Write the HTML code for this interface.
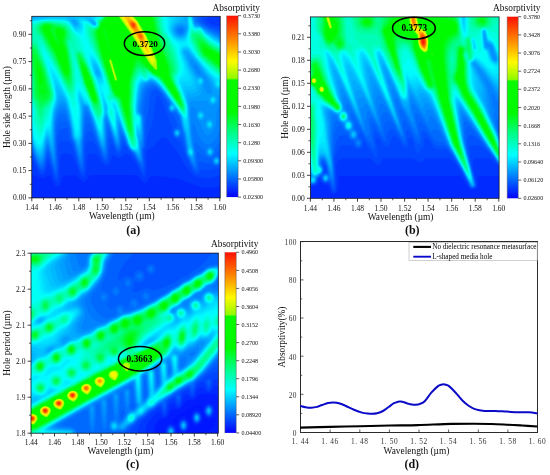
<!DOCTYPE html>
<html><head><meta charset="utf-8"><title>Absorptivity figure</title>
<style>html,body{margin:0;padding:0;background:#fff}svg{display:block}text{font-family:'Liberation Serif','DejaVu Serif',serif}</style></head>
<body><svg width="550" height="475" viewBox="0 0 550 475">
<defs><filter id="bl" x="-5%" y="-5%" width="110%" height="110%"><feGaussianBlur stdDeviation="0.6"/></filter><clipPath id="ca"><rect x="31.8" y="16.3" width="188.4" height="181.6"/></clipPath><clipPath id="cb"><rect x="310.4" y="16.9" width="188.7" height="181.4"/></clipPath><clipPath id="cc"><rect x="31.0" y="253.1" width="187.3" height="180.1"/></clipPath></defs>
<rect width="550" height="475" fill="#fff"/>
<g clip-path="url(#ca)"><g filter="url(#bl)">
<rect x="28.8" y="13.3" width="194.4" height="187.6" fill="#0606ff"/>
<g transform="scale(0.2)">
<path fill="#0513ff" d="M1116 1009l-974 0-1-945 481-2 494 2 2 245z"/>
<path fill="#041fff" d="M1116 1009l-974 0-1-945 481-2 494 2 2 245z"/>
<path fill="#042cff" d="M1116 1009l-974 0-1-945 481-2 494 2 2 245z"/>
<path fill="#0338ff" d="M1046 939l-24-1-30-6-76-30-30-9-30-5-90-9-10 0-4 2-6 6-8 17-6 8-6 3-4-1-10-6-26-29-10-3-14-1-206 0-10 4-12 20-8 9-4 2-10-2-11-9-15-17-10-6-54 0-6 1-4 7-10 40-6 6-10 3-9-4-4-5-17-32-4-9-6-4-4-1-16 8-14 3-16-3-20-10-34-1-1-811 481-2 494 2 2 245-2 615-4 0-40 12z"/>
<path fill="#0345ff" d="M286 915l-4-3-11-18-25-71-4-4-6 10-8 25-7 15-5 4-4 1-6-1-5-4-11-15-34-60-10-12-4 0-1-718 481-2 436 2 0 5-2 2-15 13-8 10 0 5 5 10 14 9 14 7 36 8 14 2 2 174-2 558-4 0-36 17-24 6-16 1-30-5-20 0-10-3-11-9-41-50-42-71-36-46-14-15-10-5-6-1-4 1-10 7-30 33-30 22-6 5-3 10-1 10-1 90-5 19-4 5-6-1-6-8-23-50-25-39-10-12-16-8-10 0-14 12-16 5-10-1-20-12-4 2-15 43-5 7-6 3-4 1-10-5-6-5-24-38-10-10-6-3-10-1-20 2-4 4-6 14-6 71-3 15-5 11-6 2-4-1-6-5-7-12-27-70-10-21-6-6-10-4-30 0-10 3-4 11-3 22-3 90-4 17z"/>
<path fill="#0251ff" d="M286 891l-4 2-6-6-4-10-26-80-4-6-6 7-9 36-5 15-6 8-4 2-6 0-4-3-10-12-13-25-27-63-6-8-4 0-2-489 2-196 290 1 190-2 405 2 0 5-11 15-3 10 3 10 8 10 14 10 21 10 43 14 14 2 2 159-2 513-4 0-16 14-10 6-40 9-14 0-20-3-6 1-4 7-4 8-6 7-6 2-4-1-6-4-11-14-17-30-24-50-8-27-4-12-14-26-6-7-20-11-10-12-4-15 2-25-2-10-29-70-17-48-16-26-4-5-6-2-4 4-2 7-10 85-6 35-9 30-13 30-6 15-6 50-10 20 4 50 0 30-2 24-5 6-5-3-6-8-10-24-30-51-7-9-16-15-21-28-6 2-10 32-4 9-6 3-4-1-10-9-20-37-6-5-4 4-5 25-4 45-5 15-6 5-6-1-4-4-8-10-28-60-10-18-10-11-4-3-10-1-10 1-6 3-4 9-6 28-3 102-4 15-3 3-4 1-6-5-4-8-7-16-11-30-18-62-10-23-4-7-10-7-10-3-26 0-4 1-6 5-4 19-2 22 1 105-1 20z"/>
<path fill="#025eff" d="M282 872l-6-2-4-10-26-81-4-8-6 4-12 49-5 15-7 9-6 0-10-7-7-12-37-90-6-9-4 0-2-471 2-195 290 0 190-2 386 2 0 5-8 15 0 10 3 10 9 10 20 15 20 10 50 19 14 3 2 148-2 467-4 0-3 3-2 5 0 15-2 15-9 12-10 6-10 0-10-4-14-10-26-2-24-9-6 3-4 34-6 13-4 2-10-8-17-27-27-55-6-39-13-41-3-3-14 5-10-1-10-7-6-9-2-10 4-15 4-6 15-14-1-10-16-35-8-10-16-10-7-10-3-15 0-15-2-10-28-43-10-11-7-6-7-4-10-1-10 5-5 5-6 15-6 60-15 80-5 115-1 5-8 15-1 5 4 55-2 25-4 5-1 1-6-5-14-21-26-44-21-21-29-48-4 3-9 45-7 9-4 1-6-4-7-11-17-40-10-19-6 0-1 9-6 80-2 15-5 10-6 1-6-6-9-15-45-103-10-15-10-6-4 0-6 4-4 10-9 35-2 20-2 100-3 17-4 9-6-3-4-8-9-20-27-93-4-12-12-20-6-15-5-30-3-5-4-3-6-1-14 5-14 9-6 11-4 14-2 15-1 40 2 110-2 15z"/>
<path fill="#016aff" d="M276 851l-4-6-6-13-20-68-4-9-6 2 0 2-13 55-7 16-4 6-6 2-4-2-10-12-8-15-38-92-4 0-2-458 2-195 290 0 190-2 371 2 0 5-5 15 0 10 4 10 9 10 21 15 26 15 48 21 16 5 4 0 2 139-2 425-4 0-6 4-16 21-6 10 2 5 13 15 3 10-2 15-8 10-6 3-4 1-10-3-10-11-6-20-14-2-10-4-20-11-20-15-6 0-2 17 1 55-3 11-6 0-4-3-12-18-28-55-6-38-10-47-4-15-6 1-1 4-9 9-10 4-10-3-7-10-2-15 5-9 4-5 10-4 16 3 1-5-1-12-11-38-9-17-6-5-20-3-4-2-8-8-4-15 3-20-1-7-36-50-20-19-10-5-10-2-9 3-7 5-9 10-5 10-17 90 4 35-1 115-2 25-8 20 3 50-1 15-2 7-6 1-10-8-26-45-18-16-8-9-11-20-11-28-10-14-6 2-2 35-4 20-4 8-4 2-6-3-4-7-8-15-22-59-6-9-4-2-3 20-5 95-2 12-2 3-4 3-4-3-6-6-11-24-49-123-10-17-4-3-6 1-4 7-6 19-9 76-1 75-2 25-2 13-6 3-4-5-6-11-26-90-4-11-12-24-6-40-6-22-10-19-6-3-10 0-14 4-10 11-6 11-3 18-3 55 3 125-1 13z"/>
<path fill="#0077ff" d="M976 832l-4 0-6-6-32-57-4-35-8-46-6-23-7-21-13-60-14-22-6-3-10 2-10 0-8-7-3-5-2-10 5-20 0-5-6-11-30-42-16-16-20-15-14-3-10 2-9 5-10 10-6 10-5 17-14 73 1 15 6 15 3 15 1 90-2 45-9 25 3 45 0 10-5 9-4-1-6-5-23-38-26-25-13-25-12-31-10-18-6-5-3 4-1 5-1 35-3 20-2 5-4 5-6-2-4-7-8-16-28-74-4-10-6-2-2 21-1 70-1 31-4 19-2 2-4 1-6-5-4-8-11-25-49-136-10-18-6-4-5 3-5 13-1 12-3 22-4 53-4 30-3 85-5 18-4-2-10-24-20-70-14-27-3-15-3-30-16-52-10-19-4-3-6-1-10 2-10 8-10 19-5 21-4 50 2 125-3 34-4 0-6-10-20-67-4-9-6 0-4 13-10 47-6 15-4 8-6 2-4-1-6-4-15-28-35-90-4 0-1-640 481-2 358 2-3 20 1 10 5 10 9 10 34 24 20 11 56 25 10 4 4 0 2 131-2 381-4 0-20 29-16 20-2 20-5 15-7 8-10 3-10-2-7-4-8-10-5-16-4-4-17-15-19-22-6-3-2 10-1 10 4 30 3 55 0 10zM896 679l-4 4-10 0-6-2-5-7-1-5 0-10 6-10 6-4 10 1 9 8 3 10-3 10zM1082 825l-6-1-6-5-6-10-1-5 2-10 2-5 5-5 4-2 6-1 4 2 9 6 3 5 2 10-3 10-3 5-8 5z"/>
<path fill="#0084ff" d="M972 820l-6-3-4-6-23-37-4-10-2-30-11-62-9-28-12-55-4-10-15-23-6-2-14 4-6 0-5-4-4-5-2-10 2-10 5-10-1-5-5-10-30-41-20-23-20-16-10-4-10-1-10 3-10 5-7 7-8 10-8 25-11 65-1 15 1 8 11 22 2 10 1 85-2 40-8 30 2 50-2 6-4 4-6-4-4-6-20-30-16-12-7-8-11-20-12-31-10-21-10-18-4-5-4 15 0 40-2 15-4 10-6-1-4-7-6-12-30-80-10-20-4 3-1 7-1 90-2 30-3 15-3 5-6-3-10-17-8-20-46-136-10-20-6-8-4-4-6 4-4 23-5 56-2 45-5 30-2 65-2 13-4 6-6-7-4-13-18-59-14-30-8-54-16-58-4-13-6-8-4-3-6-1-14 4-10 10-6 10-4 15-6 26-2 52 1 120-1 15-2 10-6-5-20-64-4-10-6-1-4 10-16 65-4 9-6 3-4 0-6-4-10-15-10-23-16-45-14-42-4 0-1-623 481-2 347 2 0 10 3 20 4 13 6 7 64 40 60 30 10 1 2 124-2 309-4 0-19 51-17 29-10 11-10 8-10 5-4 0-10-2-10-5-10-8-10-12-15-26-15-46-6-9-3 15-1 30 4 67 8 33 1 50zM912 164l3-5 2-5-1-5-3-5-7-4-4 0-10 4-3 5-1 5 4 7 4 4 6 2 4-1zM892 680l-6 2-4-1-6-3-4-9 0-10 2-5 8-6 4-1 6 2 5 5 3 5 0 10-2 5zM1056 780l-10 1-4-2-9-10-3-10 1-10 4-10 7-8 4-2 10 3 6 5 4 7 3 10 0 10-2 5-5 7zM1086 822l-10-1-4-4-5-8 0-10 2-5 7-8 10 0 6 4 5 9 0 5-2 10z"/>
<path fill="#0091ff" d="M966 806l-4-4-18-23-7-15-2-30-11-65-9-25-11-55-4-10-14-22-4-6-6-1-14 6-6-1-4-3-5-8 0-5 2-10 6-10 0-5-9-14-30-41-20-23-20-17-10-5-10-2-10 3-17 9-7 6-7 9-8 30-10 60-1 20 0 8 14 22 2 10 2 50-1 55-2 10-8 25 2 50-1 10-2 6-6-2-4-5-17-24-24-20-11-20-14-37-20-42-4-8-6-1-1 13-1 60-2 9-6 1-4-6-10-21-30-83-6-10-4-5-5 10-1 9 2 76-2 33-4 22-6 1-10-15-10-26-34-105-10-26-16-30-4-5-6-1-3 2-2 5-4 30-4 100-5 35-3 50-3 15-6-3-4-11-15-46-15-30-6-43-20-84-10-21-4-5-10-1-10 3-10 10-10 21-6 20-5 55 1 120-2 20-4 7-4-11-16-46-4-10-6-2-4 8-11 49-6 20-3 7-6 4-4 0-6-2-10-14-10-23-22-62-8-39-4 0-1-601 481-2 338 2 0 5 6 15 6 23 4 9 4 3 26 13 26 18 44 26 30 14 10 2 2 117-2 202-4 0-9 8-11 15-4 10-4 20-5 60-6 20-7 12-10 12-9 6-5 1-10-2-11-9-9-16-12-34-17-20-4-15 0-10 4-20-3-5-5-5-9-4-4 0-6 4-3 15 0 15 3 95 7 60 8 35-1 40zM916 169l6-8 2-7-1-10-3-5-8-6-10-1-8 2-8 5-3 5-2 10 5 12 6 4 10 3 10-1zM1003 369l-6-15-15-24-6-5-4-2-2 1-1 5 2 5 15 26 10 11 6 0zM886 679l-4 0-6-4-3-6 0-5 4-10 5-3 4-1 8 4 4 10-3 10-3 4zM1056 776l-10 2-4-3-6-6-2-5 0-10 1-5 7-8 4-2 10 1 6 5 4 9 0 10-2 5zM1086 819l-4 1-6-1-4-5-3-5 0-10 3-4 4-5 6-2 4 1 6 4 3 6 0 10-3 7z"/>
<path fill="#009eff" d="M206 794l-4 1-6-2-4-5-10-17-15-37-10-30-11-60-4 0 0-580 290 0 190-2 328 2 0 5 6 5 8 10 7 30 5 8 6 3 24 9 26 20 44 27 30 15 10 2 2 111-2 163-14 2-10 5-3 25-4 10-9 9-10 4-10 0-5-3-6-5-13-16-6-1-34 3-36 1-4 3-2 5-2 45 5 105 7 65 9 30-3 27-4 7-16-14-8-15 0-30-12-65-8-25-12-55-3-10-17-26-4-6-6-1-10 7-4 1-6-1-4-4-3-5 0-10 9-15-1-5-5-11-36-48-20-23-20-17-10-5-10-3-4 1-26 11-10 7-7 13-8 30-8 60-1 20 1 10 11 15 5 10 2 75-2 35-3 8-4 8-2 9 2 58-3 7-3 2-4-4-14-18-22-16-7-9-9-20-18-48-20-43-6-7-2 3-2 10 1 50-1 18-6 8-4-4-16-34-20-58-10-23-4-7-6 5-2 15 1 80-2 35-1 9-5 6-5-4-6-8-11-28-29-89-14-40-16-30-10-5-4 0-5 4-1 5-6 140-5 25-3 44-6 7-4-9-14-37-13-25-9-54-10-48-10-36-10-24-4-6-6-3-4-1-10 4-10 12-10 22-8 24-5 55-1 105-2 26-4-1-16-41-4-10-6-3-5 9-15 64-4 11zM918 174l7-10 4-10 1-10-4-10-10-7-10-2-10 1-10 4-8 9-3 10 1 10 6 9 10 8 10 3 10-1zM1054 469l8-5 1-5-22-55-55-81-24-25-6-4-4-2-2 7 0 5 6 20 7 15 19 32 7 8 23 5 6 5 3 5 2 15-5 25 4 9 10 19 4 7 6 4zM1012 601l-10 0-6-2-6-5-5-10-1-10 3-10 5-6 10-5 4-1 10 5 9 12 1 10-2 10-8 9zM1056 646l-4 2-10-1-6-3-8-10-2-10 2-15 4-6 10-7 10 0 4 2 7 6 5 10 0 15-4 10zM892 675l-6 2-4 0-7-8 1-10 6-6 4-1 5 2 4 5 1 10zM1052 776l-6-1-4-3-5-8-1-5 3-10 7-6 6-1 4 2 7 10 0 10-2 5-5 5zM1086 817l-4 1-6-2-5-7 1-10 4-6 6-2 7 3 4 5 1 5-2 8z"/>
<path fill="#00aaff" d="M962 784l-6 0-4-3-7-7-5-10 0-35-11-60-9-25-12-55-3-10-19-30-4-5-6-2-10 8-4 2-8-3-3-5 0-10 9-10 2-5-5-10-5-9-30-41-26-30-20-17-10-6-10-3-34 13-10 7-6 8-2 8-8 34-7 56 0 25 3 10 10 10 5 10 2 55-3 44-6 11-2 10 1 60-3 11-4 0-16-16-20-13-5-7-10-20-9-29-30-70-6-9-4-3-3 16 0 65-3 10-4-2-10-18-36-95-4-7-6 4-5 18 1 80-1 30-5 13-4-1-6-8-10-22-30-93-24-62-7-7-13-4-6-1-3 5-1 5-4 145-12 57-4-3-11-24-15-27-5-38-15-74-14-50-10-17-6-5-10-2-4 1-6 4-4 11-16 39-4 19-5 49-2 95-1 15-2 10-6-7-14-33-6-5-4 6-2 4-14 60-4 14-6 5-4 2-6-2-4-4-10-16-16-39-9-30-11-69-4 0-1-561 291 0 190-2 313 2 1 7 16 4 4 3 5 6 8 30 3 7 4 5 30 10 20 18 46 29 34 18 10 2 2 106-2 141-24 2-10-3-7-5-8-10-19-35-58-80-44-47-10-8-5 0 1 10 4 15 18 45 25 45 7 8 16-1 10 4 4 4 3 10-1 10-11 20 0 25-5 12-10 7-10 4-36 5-5 7 9 175 7 60 10 30-1 12zM382 119l0-5-3-5-7-5-6 1-1 4 1 5 6 6 4 2zM473 119l-1-5-6-4-4-2 4 8 6 4zM919 179l7-9 7-16 2-15-3-16-6-5-10-1-14 1-16 5-10 8-4 9-2 14 3 10 9 11 14 8 10 1zM1072 519l-10 2-6-2-5-5-5-10-1-5 3-10 4-5 10-7 10 1 4 3 7 13 0 10-2 5-5 7zM1012 594l-6 3-4 0-6-3-4-4-3-6-1-10 1-5 7-9 6-2 10 2 4 6 4 8-1 10-2 5zM1056 639l-4 3-6 1-4-2-8-7-3-10 0-5 4-10 7-6 4-1 6 0 4 3 7 9 2 5-1 10zM886 676l-5-2-4-5-1-5 2-5 4-4 4-1 6 3 2 7-2 9zM1056 771l-4 2-6 0-4-4-3-5 0-10 3-5 4-3 6-1 4 3 5 6 0 10zM1086 815l-4 1-5-2-4-5 0-5 1-5 2-4 6-2 4 1 5 5 1 5-1 5z"/>
<path fill="#00b8ff" d="M956 780l-10-7-4-9-1-10 3-20-1-10-12-60-9-24-15-61-21-32-10-10-4 3-2 4-6 5-8 0-3-5-1-5 1-5 3-4 9-6-3-10-6-10-40-55-20-23-20-18-10-6-10-3-4 1-16 8-20 5-4 3-10 13-6 25-10 70 0 30 2 10 14 13 3 7 2 15 0 40-1 20-3 15-1 3-6-1-5 3 3 20 2 50-1 15-3 4-13-9-17-11-10-9-10-20-10-33-30-73-6-10-4-6-5 7-1 5 1 50-1 24-4 6-10-17-30-82-6-12-4-8-6 3-6 21-1 95-3 17-4 4-6-5-10-22-25-79-28-70-7-8-14-5-10-7-3 10-4 155-9 35-4 4-20-30-4-9-5-35-14-75-16-55-11-22-10-11-10-6-6 0-1 4-9 35-14 42-3 13-5 45-3 95-5 7-14-27-6-4-4 5-4 9-12 52-4 15-6 6-4 2-6-1-4-3-6-6-10-20-14-40-16-97-4 0 0-36 4 0 1-2-1-5-4 0 0-470 42-5-2-5-40-3-1-17 199 0 2 9 4 3 6 1 5-3 3-5 0-5 64 0 0 5 2 2 6 1 3-3 0-5 187-2 299 2-1 25-3 10-6 5-29 14-10 10-6 11-2 10 2 10 6 11 10 10 10 6 14 2 10-2 10-9 9-18 3-15 0-15-5-40 3-7 6-4 4-1 6 0 7 7 7 30 6 12 4 4 30 8 20 20 46 30 34 18 10 2 2 101-2 128-4 0-16 6-10 0-4-2-8-7-12-25-6-10-30-37-31-43-53-62-6-4-4-3-6 1-4 3-2 5 2 10 28 70 26 49 6 6 4 0 10-4 10 0 6 4 4 10-2 10-2 5-6 5-9 5-4 5-3 15-8 10-16 7-24 2-6 3-2 8 1 15 6 35 5 130 4 45 3 25 10 20 3 10-3 15-1 4zM387 124l2-5-1-5-6-11-6-4-10-3-4 0-4 3-1 5 2 5 13 17 4 3 6-1zM478 119l-6-10-10-7-6-2-4 4 7 10 13 10 4-2zM492 374l4-5 0-6-4-10-6-7-4-3-2 11 2 12 4 7zM1072 515l-6 2-4 0-6-3-6-10 0-10 3-5 9-7 4 0 6 2 4 4 3 6 0 10-3 6zM1012 590l-6 3-4 0-6-2-4-7-1-10 1-5 4-5 6-2 4 0 9 7 2 10-1 5zM1056 635l-4 3-6 1-4-2-7-8-1-10 2-6 6-5 4-2 6 0 4 4 4 4 2 10-2 5zM892 670l-6 4-4-2-3-3-1-5 4-7 4-1 5 3 2 5zM1052 771l-7-2-4-5-1-5 2-5 4-5 6-1 4 3 4 8-4 9zM1082 814l-6-3-2-7 2-6 6-3 4 2 4 7-1 5-3 4z"/>
<path fill="#00c4ff" d="M692 759l-6 1-20-10-8-6-4-5-10-20-12-37-30-75-10-20-6-2-3 24 1 60-2 10-6-4-10-21-24-69-9-21-1-25-6-9-1 9 1 25-7 25-2 15 0 55-1 25-4 15-6-3-4-9-10-24-20-64-26-65-7-10-17-8-10-14-6-5-3 7 0 5 3 45-3 120-1 11-6 13-4 7-6-3-10-11-6-12-5-40-13-67-16-58-10-24-10-15-14-18-10-8-4 5-1 5 0 25-3 20-12 41-6 24-4 40-2 65-4 21-4-2-10-15-6-2-4 4-6 12-10 46-4 16-6 8-4 1-10-3-6-5-11-21-13-40-13-95 2-40-5-17-4 0 0-444 93-9 14-5-107-9 0-11 191 0-1 11-4 9 14 8 4 5 16 22 10 12 4 4 6 0 10-7 2-4 1-5-9-19-15-16-3-20 49 0 1 10 4 4 10 2 4-1 5-5 0-10 181-2 283 2-1 20-4 10-28 24-8 11-4 10 0 15 3 10 9 13 10 9 10 5 14 2 10-2 10-7 10-20 5-20-4-55 5-7 4-3 6 1 4 3 4 6 6 30 6 11 4 4 6 1 14 1 10 4 20 21 46 31 34 19 10 2 2 96-2 118-4 0-16 11-10 0-4-3-6-5-7-21-5-10-32-38-36-46-54-65-6-4-10-1-4 2-6 7-1 5 1 10 28 70 36 75-3 20-5 9-6 3-10 3-24 2-5 8 1 20 11 55 4 105-1 52-7-27-9-20-17-65-22-35-15-15-16-27-50-68-24-25-16-10-10-3-4 1-20 11-20 3-9 8-7 15-4 25-9 75 0 20 2 10 17 16 3 14 0 40-3 25 0 3-6 2-4-2-4 7-1 5 6 30 1 15 0 30zM478 124l2-5-2-5-12-13-10-6-4-2-8 1-1 5 3 5 15 15 11 7zM497 384l4-5 1-5-3-15-17-32-6-4-4 1-1 5 0 10 7 30 8 12 6 3zM1006 419l-4 2-6 0-5-2-6-5-1-5 5-10 7-6 6-1 4 1 6 6 1 10-2 5zM1072 511l-6 3-4-1-6-3-3-6 1-10 2-4 6-4 4 0 6 2 4 6 0 10zM866 544l-4 3-6-1-2-7 2-6 6-3 4 1 3 3 0 5zM1006 590l-4 0-6-3-3-8 2-10 7-4 4 0 5 4 3 5-1 10zM1052 635l-6 1-4-3-5-9 2-10 7-5 6 1 4 4 3 5-1 10zM886 671l-4-1-2-6 2-4 4-1 4 5-1 5zM956 776l-4-1-6-5-4-11 4-19 6-3 9 12 3 10-2 13zM1056 764l-4 5-6-1-3-4-1-5 4-8 6 0 4 3 2 5zM1086 810l-4 2-4-3-2-6 6-5 4 2 2 4z"/>
<path fill="#00d2ff" d="M322 74l-10 4-10 1-76-2-84-7-1-6 185 0 0 5zM406 81l-4 2-6-1-14-6-7-7 0-5 37 0-2 10zM686 756l-24-11-10-11-7-15-9-27-34-91-10-23-6-7-2 3-2 5-1 30 1 50-1 5-5 3-10-19-30-84-2-10 1-15-2-10-7-12-4-4 1 51-8 35-1 75-2 10-6 2-4-7-10-23-19-57-27-70-4-7-17-8-13-21-6-7-4-2-3 5-1 10 5 45-2 130-5 14-4 7-6-1-4-3-7-7-3-10-4-30-15-75-17-64-10-23-24-40-16-18-4 0-2 10 3 40 0 20-4 20-13 40-2 15-8 101-4 9-10-10-6-3-4 5-9 23-7 31-6 19-4 7-4 2-10-2-6-5-10-17-11-35-13-95 2-30 0-15-2-11-6-13-4 0 0-428 100-10 70 0 14 2 10 3 10 8 26 31 10 8 4-1 16-13 0-6-8-25 2-7 10-4 16 3 10 5 34 29 6 2 4 0 4-3 2-5-2-5-14-18-14-14-6-10 0-8 176-2 264 2 0 15-3 10-22 30-5 11-2 14 2 15 5 10 11 14 10 8 14 6 16 1 10-3 9-11 9-25 3-15-4-55 4-5 3-2 6 0 4 4 2 3 7 30 7 15 10 4 14 0 10 3 20 23 40 29 40 22 10 2 2 92-2 108-4 0-10 13-6 3-4 2-6-1-6-5-3-5-3-20-3-5-35-38-94-117-6-3-10-2-10 5-4 7-2 8 2 10 28 75 18 40 7 25-1 10-2 5-6 5-10 2-24-2-4 5-1 5 5 30 13 50 2 15 2 45-1 60-2 10-4-3-6-11-13-51-5-10-16-25-16-20-20-30-24-35-20-26-20-23-20-16-16-6-4 1-10 7-10 5-20 0-6 2-4 5-6 11-4 17-6 33-5 55 0 25 2 10 3 6 12 9 4 5 1 10-1 51-6 8-4-2-6 1-1 7 0 20 6 25 1 30 0 15zM502 394l3-5 1-10-4-23-20-37-10-9-6 2-1 12 1 10 10 39 16 20 4 2zM1006 415l-4 2-8-3-2-5 0-5 4-7 6-2 4 1 3 3 2 5 0 5zM1066 511l-6-2-4-5 0-5 1-5 5-4 4-1 6 3 2 7-2 8zM862 545l-3-1-3-5 6-6 4 6zM1006 586l-4 1-5-3-2-5 1-7 6-4 4 1 5 5 0 5zM1052 632l-6 0-4-3-3-5 3-8 4-4 6 1 4 6 0 5zM886 667l-3-3 3-2zM956 773l-4-1-4-3-3-5-1-5 2-12 6-4 4 4 6 12 0 7zM1052 766l-6-1-1-6 1-4 6-2 3 6zM1082 809l-3-5 3-3 4 3z"/>
<path fill="#00dfff" d="M296 74l-74-1-34-4 0-5 130 0 0 5-2 1-10 3zM402 72l-6 1-10-2-2-2 0-5 20 0 0 5zM686 751l-4 0-16-4-4-3-9-10-9-20-8-26-40-105-10-22-4-5-3 13 1 75-4 13-4-5-10-22-24-66 0-25-2-10-14-30-6-3 0 13 3 20 2 35-8 35-1 65-6 11-4-4-10-22-15-45-31-78-4-8-16-8-20-32-4-5-6 0-2 11 0 15 6 35 1 20-2 105-3 18-4 7-6 3-4-2-5-6-2-5-20-110-11-45-7-20-8-20-27-48-16-24-10-11-2 3-1 10 7 60 0 25-3 15-11 34-4 21-6 75-3 20-1 4-6 0-4-5-6-1-4 4-10 28-10 42-6 9-4 3-6 0-10-6-4-6-6-10-10-32-12-90 3-30 0-15-5-23-6-11-4 0 0-415 90-10 90 2 10 3 10 5 10 9 24 33 6 4 4 1 16-7 6-6 1-10-8-20 0-5 5-6 10-1 16 4 34 26 5 2 5 0 6-4 1-6-1-5-10-15-3-10-3-5-13-10-3-5 0-5 172-2 242 2 1 15 0 10-14 35-2 15 0 10 5 15 8 13 10 12 10 8 14 6 16 1 10-2 4-4 6-7 10-28 3-19-3-55 4-5 6-1 5 6 7 35 8 13 4 2 20 1 10 3 20 24 40 30 40 22 10 2 0 186-4 0-6 3-5 14-5 5-4 2-6-1-5-6-2-5 2-15-2-5-43-44-55-66-35-46-10-8-10-1-10 3-4 5-5 7-2 10 2 10 39 110 3 15-2 10-5 4-6 1-20-4-4 1-6 8 1 10 4 20 24 85 2 35-1 20-4 24-6 5-14-34-20-33-18-22-52-76-20-24-16-16-14-11-16-7-4 0-11 9-9 5-10 0-10-2-6 1-4 4-8 12-4 15-5 35-6 60 0 25 3 14 4 5 10 7 3 4 3 10-1 30-3 15-2 3-10-3-3 15 0 20 6 30 2 20-1 15zM507 404l3-5 1-10-4-25-4-10-11-25-10-17-10-11-6-3-1 1-3 2-2 3 0 15 2 13 10 37 20 33 4 4 6 1zM1006 411l-4 2-6-4 0-5 4-5 2-1 4 2 2 4zM1066 507l-4-1-2-2-1-5 3-6 4 0 5 6-1 5zM1006 582l-4 1-4-4 1-5 3-2 5 2 1 5zM1046 629l-3-5 0-5 3-3 6 1 1 7-1 3zM956 769l-4 0-6-8 1-7 5-6 4 3 4 8-1 5zM1052 760l-2-1 2 0z"/>
<path fill="#00ecff" d="M292 69l-56 0 0-5 58 0 0 5zM686 745l-4 3-16-3-4-3-7-8-9-20-10-29-40-108-20-49-4-6-3 2-1 5 7 25 3 75-2 16-4 0-6-9-14-37-12-35-1-10 1-15-2-10-22-51-4-8-2 4 0 10 7 50 2 30-8 35-1 45-4 18-4-1-10-19-15-43-31-77-10-15-10-7-24-37-6-3-4 4-2 10 0 20 7 40 1 15-2 100-4 22-6 4-4-2-6-12-18-92-11-50-10-30-45-86-16-24-10-12-4 2-1 5 16 90 1 25-3 20-9 25-5 25-9 84-6 6-10-2-4 4-7 18-13 49-6 11-4 4-6-1-10-5-4-6-10-23-6-27-10-72 5-35-3-20-6-22-6-11-4 0 0-403 94-11 76 2 14 2 10 4 10 8 30 39 10 5 10 2 6-1 4-4 6-10 1-15-6-20 2-5 3-1 10-1 10 3 14 9 20 15 6 1 6-1 5-5 1-5-1-5-9-15 0-5 4-5 1-5-21-10-4-5 0-5 168-2 223 2 4 25-6 45 2 20 7 15 10 15 10 11 10 8 14 7 16 3 10-2 10-10 4-12 10-40 1-15-4-40 1-5 2-3 6 0 4 7 4 21 4 15 8 11 10 3 14-2 9 3 21 26 40 31 40 22 10 2 0 175-10 1-13 3 3 1 2 14-2 5-4 3-6-1-3-7 3-11 5-4-1-5-28-24-26-26-51-60-39-52-14-10-10-1-10 6-6 7-4 10 0 15 22 70 5 35-3 10-20 12-4 4-4 9 0 5 4 17 13 38 19 65 1 30-1 20-2 10-6 5-4-2-30-48-66-91-20-26-20-21-20-14-10-5-4 0-14 12-6 3-10 0-16-4-4 3-10 16-4 12-6 44-5 56 0 30 2 10 4 5 13 9 4 11-1 20-3 15-4 2-6-2-4 5-1 5 0 35 7 30 1 10 0 20zM505 419l7-5 3-5 1-5-4-25-5-20-15-35-10-18-10-13-6-4-4-2-6 2-1 5-1 15 3 15 9 35 6 15 20 38 4 7 6 2zM1066 500l-1-1 1-1zM956 764l-5 0-2-5 3-6 4 4z"/>
<path fill="#00f8ff" d="M682 745l-10 0-10-4-6-6-4-10-70-194-6-11-4-6-6-1-2 1-1 5 0 10 9 25 3 40 0 35-3 7-6-6-14-37-10-29-1-10 2-15-2-10-33-85 1-10 3-6 9-9 0-5-4-25-6-25-15-35-14-28-16-21-4-4-6-1-5 4-3 10 3 25 17 55 16 35 16 40 15 85 2 40-8 30-2 40-1 7-2 3-2 2-6-6-4-11-13-35-37-91-10-16-10-10-20-27-6-5-4 1-2 3-4 20 2 30 6 30 1 10-3 91-6 19-4-3-10-33-24-104-10-30-56-108-20-30-6-7-4-3 0 15 12 53 11 55 1 20-1 20-16 55-7 64-5 16-11 2-4 5-6 11-14 53-6 12-4 5-6-1-10-6-10-15-3-11-11-69-3-21 4-35-2-20-5-17-10-25-4 0 0-391 14-1 50-9 26-2 30 0 60 4 14 5 10 8 30 40 20 11 10 2 6-7 4-18 1-15-4-15 1-5 2-2 10 0 10 3 28 19 8 3 9-3 3-5 0-10-7-15 2-5 3-3 14-7-30-8-9-7 0-5 165-2 210 2 6 35 0 40 5 20 13 24 10 13 10 10 19 13 5 5 1 5-4 20 0 15 19 65 2 25-4 15-18 20-2 5-1 10 3 18 16 42 19 60 3 35-2 20-6 8-4-1-100-142-26-31-14-13-17-11-13-5-6 2-5 8-9 6-10 0-16-7-4 2-10 15-6 14-5 35-6 65 0 30 2 15 5 8 13 7 2 5 1 5-2 20-4 7-6-2-4 1-3 14 1 40 6 30 2 15-2 18zM1116 395l-14-1-10-3-16-9-20-17-68-76-36-52-16-18-1-5 1-5 12-65 0-20-3-30 1-5 6 0 11 40 3 8 6 5 10 3 14-3 7 2 5 5 8 13 10 11 40 31 40 22 10 2z"/>
<path fill="#00fff5" d="M682 740l-10 3-10-4-10-16-70-199-6-10-4-4-6-2-5 1-3 5 0 5 2 15 8 15 2 10 3 35-1 29-6-1-4-11-10-23-8-24-1-10 3-15-2-10-14-35-14-49 1-6 9-10 1-5-5-28-10-35-20-47-16-27-14-20-10-5-6 3-3 9-1 10 2 15 22 70 14 30 14 40 20 95 2 35-8 25-3 35-3 11-6-3-4-11-41-102-15-31-10-16-24-31-6-5-4-3-6 8-3 28 1 30 7 35-1 40-4 28-4 7-6-6-10-31-16-68-11-30-57-111-30-50-10-11-2 2-1 5 3 13 19 77 12 55 2 20-1 15-4 15-11 35-13 73-14 13-6 11-14 52-6 12-4 4-6-1-14-12-6-10-4-22-10-60-1-10 5-25-1-20-5-20-14-37-4 0 0-378 14-1 50-10 26-3 74 4 20 3 10 4 10 8 25 35 5 6 30 21 6 2 3-4 2-5 3-35-2-20 0-5 4-3 4 0 10 2 26 16 10 4 10-3 3-6 0-10-5-15 3-5 15-5 4-5-6-4-27-6-8-5 0-5 161-2 202 2 6 35 2 40 4 15 5 10 15 25 10 13 21 22 4 10 2 30 16 60 3 20-1 10-4 10-17 25-1 15 3 12 18 48 20 60 2 30-1 20-5 8-4-1-6-5-94-134-26-31-13-12-15-10-16-8-6 1-8 12-6 4-10-1-16-8-4 1-10 13-6 11-3 10-5 40-5 60 1 35 2 15 6 7 10 3 3 5 0 5-3 15-10-1-5 16 0 20 1 30 8 40 0 15zM1116 390l-14-1-16-6-14-10-20-18-61-66-47-70-2-10 1-20 7-45-1-45 0-5 3-2 2 17 6 20 5 10 5 5 12 3 14-3 6 1 5 4 9 15 10 12 36 28 44 26 10 2z"/>
<path fill="#00fee0" d="M672 739l-6 0-4-4-10-17-70-203-6-7-10-6-4 0-8 2-8 7-4-5-6-10-2-17 1-5 7-8 0-12-28-95-28-62-52-93-4-10-4-35 0-39 6-2 4 0 30 16 10 0 6-2 5-8 1-5-4-15 0-5 8-5 10-3 4-7-4-6-20-4-10-3-3-2 0-5 153-1 192 1 10 75 4 15 5 10 41 60 9 20 4 25 13 50 3 25-3 15-15 25-2 15 3 15 21 50 21 60 2 30-1 10-3 9-4 2-10-9-90-128-20-24-16-16-30-19-10-3-4 3-5 10-5 6-8-1-12-10-6-3-4 0-6 4-4 8-11 21-7 55-4 55 1 30 1 15 4 20-2 35 2 45 2 15 5 20 1 10-2 17-6 7zM202 687l-6-2-8-11-6-10-6-12-4-20-6-33 5-30-2-20-19-65-4-23-4 0 0-339 10-1 50-14 24-4 26 0 64 5 16 5 13 11 21 32 28 28 18 25 30 98 23 67 13 30 12 35 14 55 7 35 2 40-9 25-3 15-5 9-4-6-16-30-16-38-8-26-20-43-30-52-6-8-4-5-6 4-4 20-6 40 1 60-1 5-4 2-6-6-4-11-17-45-19-32-40-81-40-71-14-23-10-12-3 4 2 15 19 60 19 70 11 50 1 25-3 20-12 35-11 50-3 8-10 12-6 12-14 52-6 11zM1116 383l-10 0-14-5-20-13-40-38-36-37-12-16-24-40-11-25-2-30 9-46 9 11 7 5 10 2 14-4 6 1 24 32 36 30 44 25 10 2zM566 601l-4-2-6-9-9-26 0-10 5-11 4 0 6 5 4 11 2 30z"/>
<path fill="#00fecb" d="M672 734l-6 1-4-4-10-19-25-68-42-130-8-10-5-5-6-2-14 0-6-1-4-7 0-5 6-15-1-10-31-99-20-49-57-122-7-35-1-15 2-10 3-4 6 0 24 12 10-1 6-2 4-5 3-5 0-5-3-15 3-5 13-5 5-5 1-5-2-5-4-4-24-6 0-5 144-1 184 1 10 71 5 19 5 10 19 25 22 40 9 21 17 69 3 25-3 15-13 25-1 15 7 24 19 41 20 60 3 20-2 20-4 5-6-2-4-5-90-127-20-25-16-15-40-24-4 0-3 3-7 15-6 1-20-16-4-1-6 3-10 16-9 22-7 60-3 55 4 60 1 45 3 45 6 30-2 15-3 6zM206 661l-4 1-6-5-14-27-10-26 0-10 3-20-1-20-4-20-15-50-6-75-3-13-4 0 0-260 4 0 18-12 22-10 30-8 36-1 64 7 16 6 10 8 10 13 14 25 17 20 13 25 8 30 12 18 7 12 51 130 14 45 12 45 8 40 3 30 0 10-5 11-10 17-4 1-16-23-30-74-32-72-32-104-6-15-3-1-1-6 6 71 0 35-3 35-6 30-3 20-4 1-9-16-11-14-10-17-40-82-40-74-36-58-4-6-6-2-1 8 1 18 28 82 20 70 12 50 3 25-4 25-13 30-10 35-10 16-4 9-12 43-4 15zM1116 378l-10-1-10-3-20-12-40-36-34-35-10-12-24-40-15-35-3-25 6-31 6-1 10 6 4 1 10 0 10-4 6 1 20 28 40 36 44 24 10 2zM556 571l-4-12 4-5 3 5 1 5z"/>
<path fill="#00feb6" d="M672 726l-6 2-4-3-7-11-26-70-41-130-6-10-10-9-20-7-2-4 2-15-1-10-32-100-17-44-47-106-11-30-6-30 1-10 3-5 4-1 20 6 10-1 6-2 4-4 4-8-1-20 5-5 11-5 4-5 2-5-5-9-4-4-11-2 0-5 131-1 177 1 12 75 5 20 6 10 20 25 23 45 7 20 16 65 2 20-3 15-12 25 0 15 7 20 22 50 20 55 1 15-2 20-1 4-6-1-10-10-84-120-20-25-13-13-37-24-10-5-6 2-4 11-6 5-4-2-16-13-4-2-6 1-10 15-12 27-2 15-4 40-3 55 0 25 6 115 2 25 5 25-2 8zM206 637l-4-1-5-7-13-30-7-55-15-48-4-17-3-60-3-25-6-25-4 0 0-166 4 0 5-4 7-10 3-10 2-30 2-10 7-10 13-10 11-5 16-4 24-3 20 1 56 7 10 3 10 5 7 6 8 10 22 40 7 15 3 15 1 25 2 7 1 3 19 8 10 8 8 14 13 30 38 95 17 55 11 40 7 38 3 27-1 10-6 11-6 5-4 2-6-4-4-6-16-31-10-27-42-100-41-140-4-25-3-5-4-5-6-1 0 12 14 104 3 55-2 25-5 18-4 9-6 2-10-7-14-21-46-92-30-57-44-79-10-14-6-4-4 5-1 10 11 44 32 91 26 95 6 35-1 15-4 15-19 39-10 15-6 13-10 43-4 15zM1116 372l-14-2-10-4-10-7-40-34-36-34-10-12-17-30-23-47-3-18 1-10 2-14 6-6 14 4 10 0 10-2 6 1 24 32 35 30 45 25 10 2z"/>
<path fill="#00fea1" d="M666 718l-4-1-6-8-23-60-41-135-10-15-20-15-3-5-7-27-33-98-50-125-19-55-4-20 2-10 4-2 14 0 10-2 10-6 6-10 1-20 13-9 6-6 0-10-8-10 0-5 118-1 172 1 10 70 6 25 6 13 19 22 21 44 9 21 11 44 9 41-2 10-12 25 0 15 6 20 25 55 20 55 1 15-1 15-6 3-10-8-84-120-20-25-10-11-50-32-6-1-4 4-6 9-4 0-16-12-4-2-6 0-4 4-6 8-14 33-3 10-3 30-4 85 6 115 5 60-1 9zM356 455l-4 0-6-3-14-20-66-132-60-108-4-8-6-4-13-6-4-5-4-15 1-15 5-10 5-5 10-7 20-6 26-2 70 10 10 3 11 7 9 10 8 15 9 25 2 20-1 5-4 4-10 0-2 6 10 55 9 65 5 65-3 40-3 11zM1116 367l-14-2-19-11-41-34-33-31-9-10-14-25-16-35-9-15-5-25 2-10 4-7 20 0 20 2 24 30 30 26 50 28 10 2zM206 609l-4-3-12-27-11-45-15-45-4-25-1-45-3-26-4-29-6-18-4 0 0-126 4 0 16-8 10-3 4 1 6 5 8 14 9 30 29 75 28 102 7 33-1 20-4 15-12 19-20 21-14 58zM496 576l-4 1-6-3-4-6-10-18-57-136-17-55-20-80 0-15 4-5 4-3 10 0 6 2 4 3 7 8 30 65 26 65 27 90 7 40 2 35-3 8z"/>
<path fill="#00fd8c" d="M666 701l-4 3-6-5-20-47-43-143-7-10-22-20-5-10-36-110-48-125-17-55-4-20 2-10 20-6 10-7 8-12 0-15 2-5 10-6 8-9 0-10-5-10 0-5 113-1 166 1 11 70 7 30 8 15 16 20 26 59 20 71 3 20-12 30 1 15 8 25 24 50 20 55 1 15-2 10-3 3-4-2-10-11-80-113-20-26-10-9-28-17-18-14-10-5-4 1-10 8-6-2-14-11-6-1-4 3-6 7-19 49-5 50-3 65 9 150 0 15zM356 441l-4 2-6-1-10-11-4-8-16-27-50-104-32-58-26-50-6-8-14-12-3-5-2-15 2-10 8-10 7-5 16-6 26-2 64 10 10 3 10 6 10 9 6 10 6 15 3 20-2 10-8 10-2 10 9 40 6 35 7 50 3 40-1 40-1 11zM1116 363l-14-3-16-9-44-37-38-35-14-25-17-40-9-15-3-20 1-6 2-4 8-3 10 0 20 5 4 4 20 23 30 27 50 28 10 2zM206 581l-4-1-7-11-10-35-19-49-2-21-1-50-4-30-7-44-6-18-4 0 0-91 4 0 10-6 10-4 10 2 6 4 4 8 37 94 33 115 4 25-1 20-6 15-11 18-20 18-5 9-5 24zM496 565l-4 0-6-3-4-5-10-15-26-58-27-65-19-65-19-75 1-10 4-6 6-2 10 2 4 4 6 7 30 62 25 63 17 55 12 45 6 45-2 15z"/>
<path fill="#00fd76" d="M662 693l-6-2-4-8-16-37-40-137-6-10-22-20-8-15-36-110-44-120-16-55-3-15 1-10 6-5 14-7 9-8 4-10 1-15 4-5 12-8 4-7 1-10-4-10 0-5 109-1 161 1 11 70 8 31 5 14 15 25 30 68 20 65 0 12-9 30 3 20 8 20 24 50 19 55 1 15-2 6-4 1-10-10-10-13-76-107-13-17-10-10-27-16-20-16-10-7-4-1-10 5-6 0-14-10-6-2-4 1-6 6-10 22-12 33-2 15-5 105 9 145-1 15zM352 431l-6 0-4-3-16-21-60-124-30-52-24-48-19-24-3-10 2-15 7-10 8-5 16-5 19-1 64 12 10 4 10 6 8 9 6 10 4 15 0 15-2 10-6 10 0 10 12 55 10 70 2 30 0 40-4 15zM1116 358l-10-1-14-8-46-35-38-35-16-30-21-50-3-15 0-5 3-5 11-2 20 7 10 8 20 21 24 22 50 27 10 2zM206 554l-4 3-6-8-25-65-3-20-1-45-3-35-12-69-6-20-4 0 0-53 4 0 10-8 10-4 10 2 6 5 4 7 36 90 30 106 5 24-1 20-5 15-9 15-28 25zM492 546l-10-2-6-5-10-15-16-35-31-75-17-60-17-70-1-10 2-5 6-3 4 0 6 1 4 5 6 9 28 58 24 60 29 95 3 40 0 5z"/>
<path fill="#00fc5f" d="M662 681l-6 2-4-7-14-32-41-140-8-10-17-15-10-19-34-101-39-110-20-70-2-15 2-10 17-13 6-5 5-12 2-15 13-10 6-10 1-10-2-15 105-1 156 1 11 70 9 35 28 75 22 45 16 50 1 10-6 30 3 15 7 20 27 55 20 60 0 6-2 4-2 2-10-8-26-34-51-75-19-24-10-11-10-7-20-11-30-25-10-2-10 1-14-9-6-3-4 1-6 5-10 19-14 41-3 15-5 110 8 125 1 20zM346 420l-4-2-6-5-14-22-53-112-33-56-22-44-17-25-2-10 2-10 8-10 9-5 18-4 14 1 30 8 30 5 10 4 9 6 10 15 3 10 1 10-2 15-4 15-1 10 11 45 12 80 2 25-2 40-3 12zM1116 354l-10-2-14-8-46-36-34-31-11-18-14-35-8-30 3-11 4-1 6 1 14 6 30 29 20 16 50 27 10 2zM212 531l-6 3-4-1-6-6-15-28-5-11-3-14-3-75-22-140 0-5 7-10 7-5 4-1 6 0 4 3 6 6 34 83 7 19 30 115 1 10-1 10-7 15-10 12zM486 530l-4 0-6-1-4-4-10-15-39-91-19-65-13-55-3-20 1-5 3-3 4-1 6 2 10 15 26 52 24 60 29 95 1 25-1 5z"/>
<path fill="#00fc47" d="M656 672l-4-4-11-24-40-140-7-10-18-14-4-6-10-20-66-195-22-80-2-15 3-10 20-20 4-10 3-15 12-10 7-10 1-10-1-15 101-1 150 1 14 75 10 42 20 58 24 50 15 45 3 15-2 30 3 15 10 25 25 50 18 55 1 5-1 6-6-1-4-5-30-40-59-85-17-18-30-16-24-23-10-7-20-6-16-10-6 0-5 5-9 16-15 44-5 20-4 110 7 125 0 20zM346 406l-4 1-6-2-14-22-15-29-35-79-69-121-3-10 2-10 4-6 10-7 16-3 14 0 30 10 30 5 16 9 8 12 3 10 1 10-6 30 1 10 10 40 14 95-1 40-1 10zM1116 349l-10-1-10-6-50-39-33-29-10-20-11-30-3-15 0-5 3-7 4-2 10 3 10 7 36 30 54 31 10 2zM216 516l-10 1-10-7-10-16-8-20-3-70-14-95-5-45 2-10 4-5 4-2 6 0 6 7 18 38 20 47 32 120 2 15-4 15-10 13-10 8zM486 520l-4 3-6 0-4-3-10-14-37-87-19-65-10-43-4-27 1-5 3-3 6 3 4 7 20 36 10 20 24 57 29 95 1 15z"/>
<path fill="#00fb2f" d="M652 657l-6-7-4-12-40-139-8-10-18-13-5-7-5-10-64-195-23-85-1-10 0-10 2-5 17-20 9-25 12-10 6-10 2-25 96-1 145 1 14 75 13 50 18 52 23 53 13 40 3 15 0 25 3 15 10 25 28 55 15 45-1 12-4-3-6-5-14-19-52-75-28-37-10-7-26-12-24-24-16-12-30-18-4-1-6 1-6 10-8 19-17 51-3 15-3 115 7 120-1 10zM342 396l-6-2-4-4-16-23-40-93-68-120-3-10 1-8 5-7 6-5 15-4 10 0 14 4 16 8 30 4 14 7 10 11 3 10 0 10-5 25 0 10 12 49 14 91 0 20-2 15-2 6zM1116 344l-6 0-10-5-52-40-30-25-8-15-9-25-3-15 1-5 3-4 4-1 10 4 36 27 54 30 10 2zM226 496l-14 3-10-4-10-8-7-13-2-10-2-55-14-110-1-23 3-7 3-2 4 3 10 15 26 54 30 114 2 16-1 10-7 10zM482 517l-6 0-4-2-10-14-36-87-16-55-8-36-3-24 0-5 3-4 10 12 20 35 25 62 30 95 0 15z"/>
<path fill="#00fb18" d="M652 634l-6 3-4-13-26-86-8-34-4-10-8-9-14-8-6-4-4-8-6-12-59-184-23-90-1-10 0-10 2-5 15-20 6-21 16-14 7-10 5-20 0-5 225 0 0 5 6 15 13 65 14 50 17 50 21 45 9 30 5 20 3 30 4 15 8 20 32 65 10 35-5 3-14-17-64-91-16-20-10-7-16-6-10-5-50-48-20-15-4-2-6 0-6 8-9 20-17 55-6 25-3 115zM342 381l-6 2-4-2-6-6-10-15-36-86-66-120-3-10 0-5 5-10 6-3 10-3 13 1 10 5 4 5 0 5-3 10 1 5 19 38 4 2 2 6 0-8-10-33-1-10 1-5 4-3 6-1 20 0 10 5 5 4 5 7 2 8 0 10-6 25 0 10 14 45 14 90 0 20zM1116 339l-4 0-10-5-80-63-6-8-6-19-2-10 1-5 3-5 4-1 6 2 24 17 46 25 14 8 10 2zM226 473l-24-2-6-7-10-56-9-69-1-26 3-9 3-3 4 3 10 15 10 19 6 14 10 48 10 63-1 6zM482 510l-6 2-4-2-9-11-37-89-14-52-5-24-2-20 1-7 6 4 4 6 16 26 24 60 27 86 2 10z"/>
<path fill="#00fa06" d="M642 598l-6-9-10-31-13-54-6-15-5-7-16-6-9-7-5-10-6-15-54-173-21-87-3-15 0-10 16-25 7-20 23-20 9-20 2-10 162 0 0 5 5 1 8-1 0-5 29 0 0 5 7 9 3 6 10 55 21 70 14 40 24 55 9 30 8 50 13 30 29 55 6 20 0 10-1 1-6-4-10-11-58-86-12-15-10-7-20-7-10-6-50-53-20-18-4-3-6-1-4 3-6 6-6 16-12 35-14 55-2 100 2 75zM336 371l-4 0-6-4-8-13-35-85-63-115-4-10 0-5 3-5 5-5 8-2 10 0 4 2 4 5 1 20 30 65 5 7 6 0 5-2 4-5 0-5-20-45-2-10 2-10 11-4 10 1 10 5 6 8 1 5 0 10-9 25-1 10 17 40 3 15 13 80 0 17zM552 254l-8-30-15-70-3-7-4-3-6 2-1 3 1 9 22 66 8 30 6 3zM1116 334l-4 0-9-5-77-60-4-8-3-12 0-5 2-5 5 0 6 1 74 41 10 2zM476 506l-6-2-8-15-30-72-20-68-1-15 1-9 4 2 10 14 26 58 29 95 0 5-2 5zM206 425l-4-3-6-11-4-23-5-39 0-5 5-7 4 2 6 10 10 42 1 18-1 10 0 3z"/>
<path fill="#02fa00" d="M636 574l-4-11-10-30-8-34-6-15-6-7-16-4-4-3-6-5-4-11-56-174-14-59-10-47-1-15 5-10 9-10 7-22 10-8 14-5 6-3 6-27 1-10 150 0 0 5 7 6 10 1 20-5 10 3 6 4 4 11 11 55 21 65 16 45 22 50 8 30 5 35 4 15 11 25 32 64 3 11 1 5-4 4-14-17-52-77-14-17-10-7-20-6-10-6-64-70-10-8-6-1-4 2-6 5-6 13-12 35-16 60-3 70 1 90-1 10zM332 365l-6-3-5-8-35-85-64-119-2-11 2-5 4-3 10-2 6 1 4 4 2 20 32 70 6 5 6 0 14-7 6 3 4 8 10 26 14 85-2 15-2 5zM554 264l3-5 0-5-11-45-13-60-2-5-5-3-10 0-4 3-2 5 2 5 32 105 2 4 6 2zM302 198l-6-5-4-8-8-21 0-10 2-3 6-3 10 1 4 2 6 3 4 10 0 6-2 9-8 14zM1116 330l-4 0-6-3-74-57-5-6-2-5-1-5 2-7 6 0 10 3 64 34 10 2zM476 503l-4-1-6-6-34-83-17-59-1-15 2-6 10 12 26 57 24 80 3 12 0 5z"/>
<path fill="#06fa00" d="M792 361l-10 1-6-2-9-6-25-32-26-38-20-27-24-29-38-39-54-95-4-15-1-15 98 0 0 5 3 5 25 30 51 80 47 110 3 15 2 35-3 10zM586 406l-4 3-6-1-4-4-3-5-29-95 1-5 5-7 6-1 4 1 6 7 27 95 1 5z"/>
<path fill="#94fa00" d="M782 349l-6-1-4-4-26-30-94-150-54-75-5-10-1-15 65 0 0 5 3 5 30 35 44 75 47 110 3 10 2 35 0 5zM582 403l-6-1-1-3-29-95 2-5 4-2 3 2 3 5 24 82 3 13z"/>
<path fill="#b1fa00" d="M776 336l-4-2-16-13-10-12-90-144-56-81-4-10 0-10 56 0 0 5 3 5 33 35 18 35 23 35 48 115 3 15-1 20zM582 401l-6-2-25-85-2-10 3-5 4 7 26 88 1 5z"/>
<path fill="#cefa00" d="M772 320l-6 2-4-2-10-10-90-144-57-82-5-10-1-10 49 0 0 5 3 5 35 37 16 30 19 28 8 15 45 115 1 10z"/>
<path fill="#ebfa00" d="M766 312l-4 0-6-3-14-21-75-119-61-89-2-6-1-10 41 0 0 5 3 5 29 29 10 11 14 30 19 25 5 10 42 112 3 13z"/>
<path fill="#fff300" d="M756 295l-10-9-10-13-69-109-22-30-35-55-2-5-1-10 32 0 0 5 4 5 14 15 19 16 8 9 13 30 19 24 6 11 34 99 2 11z"/>
<path fill="#ffdb00" d="M742 268l-10-11-10-13-34-50-18-30-22-30-14-25-19-30-3-10 0-5 22 0 0 5 3 5 16 15 23 19 6 6 15 35 18 20 6 10 21 70 3 15z"/>
<path fill="#ffc300" d="M732 242l-6-2-10-11-24-35-18-30-24-30-27-55-2-5 0-10 1 5 31 25 19 12 10 11 12 32 18 18 7 12 13 53z"/>
<path fill="#ffab00" d="M716 217l-20-20-21-38-23-25-5-10-5-15-2-10 1-5 25 11 10 8 5 6 11 32 6 8 14 11 5 9 2 10 1 20-1 5z"/>
<path fill="#ff9300" d="M712 203l-6-1-4-5-7-8-13-30-20-17-8-8-5-10-2-10 0-5 2-5 7-1 10 4 9 7 4 5 4 10 4 25 4 5 15 9 9 11 1 5 0 10z"/>
<path fill="#ff7b00" d="M676 147l-10-4-10-9-5-15-1-5 3-5 3-2 10 3 11 9 4 15-2 10zM712 194l-6 2-4-4-6-5-4-13 1-5 3-2 6 1 4 3 6 6 2 7z"/>
<path fill="#ff6400" d="M676 140l-4 1-6-1-6-6-6-10 0-5 2-7 6-1 4 1 8 7 4 10zM706 190l-4-3-5-8 1-5 4-1 4 2 3 4 2 5z"/>
<path fill="#ff4d00" d="M672 137l-6-1-7-7-2-10 5-5 4 1 6 4 2 5 1 5-1 5z"/>
<path fill="#ff3600" d="M672 129l-6 2-2-2-3-5 1-3 4-2 5 5z"/>
</g>
</g></g>
<rect x="31.8" y="16.3" width="188.4" height="181.6" fill="none" stroke="#15151c" stroke-width="0.8"/>
<path d="M31.8 197.9v3.4" stroke="#111" stroke-width="0.8"/>
<text x="31.8" y="209.6" font-size="7.50" text-anchor="middle" font-weight="normal" fill="#111" >1.44</text>
<path d="M55.3 197.9v3.4" stroke="#111" stroke-width="0.8"/>
<text x="55.3" y="209.6" font-size="7.50" text-anchor="middle" font-weight="normal" fill="#111" >1.46</text>
<path d="M78.8 197.9v3.4" stroke="#111" stroke-width="0.8"/>
<text x="78.8" y="209.6" font-size="7.50" text-anchor="middle" font-weight="normal" fill="#111" >1.48</text>
<path d="M102.3 197.9v3.4" stroke="#111" stroke-width="0.8"/>
<text x="102.3" y="209.6" font-size="7.50" text-anchor="middle" font-weight="normal" fill="#111" >1.50</text>
<path d="M125.8 197.9v3.4" stroke="#111" stroke-width="0.8"/>
<text x="125.8" y="209.6" font-size="7.50" text-anchor="middle" font-weight="normal" fill="#111" >1.52</text>
<path d="M149.3 197.9v3.4" stroke="#111" stroke-width="0.8"/>
<text x="149.3" y="209.6" font-size="7.50" text-anchor="middle" font-weight="normal" fill="#111" >1.54</text>
<path d="M172.8 197.9v3.4" stroke="#111" stroke-width="0.8"/>
<text x="172.8" y="209.6" font-size="7.50" text-anchor="middle" font-weight="normal" fill="#111" >1.56</text>
<path d="M196.3 197.9v3.4" stroke="#111" stroke-width="0.8"/>
<text x="196.3" y="209.6" font-size="7.50" text-anchor="middle" font-weight="normal" fill="#111" >1.58</text>
<path d="M219.8 197.9v3.4" stroke="#111" stroke-width="0.8"/>
<text x="219.8" y="209.6" font-size="7.50" text-anchor="middle" font-weight="normal" fill="#111" >1.60</text>
<path d="M43.5 197.9v2" stroke="#111" stroke-width="0.7"/>
<path d="M67.0 197.9v2" stroke="#111" stroke-width="0.7"/>
<path d="M90.5 197.9v2" stroke="#111" stroke-width="0.7"/>
<path d="M114.0 197.9v2" stroke="#111" stroke-width="0.7"/>
<path d="M137.6 197.9v2" stroke="#111" stroke-width="0.7"/>
<path d="M161.1 197.9v2" stroke="#111" stroke-width="0.7"/>
<path d="M184.6 197.9v2" stroke="#111" stroke-width="0.7"/>
<path d="M208.1 197.9v2" stroke="#111" stroke-width="0.7"/>
<path d="M31.8 197.9h-3.4" stroke="#111" stroke-width="0.8"/>
<text x="26.2" y="200.4" font-size="7.50" text-anchor="end" font-weight="normal" fill="#111" >0.00</text>
<path d="M31.8 170.6h-3.4" stroke="#111" stroke-width="0.8"/>
<text x="26.2" y="173.1" font-size="7.50" text-anchor="end" font-weight="normal" fill="#111" >0.15</text>
<path d="M31.8 143.4h-3.4" stroke="#111" stroke-width="0.8"/>
<text x="26.2" y="145.9" font-size="7.50" text-anchor="end" font-weight="normal" fill="#111" >0.30</text>
<path d="M31.8 116.1h-3.4" stroke="#111" stroke-width="0.8"/>
<text x="26.2" y="118.6" font-size="7.50" text-anchor="end" font-weight="normal" fill="#111" >0.45</text>
<path d="M31.8 88.8h-3.4" stroke="#111" stroke-width="0.8"/>
<text x="26.2" y="91.3" font-size="7.50" text-anchor="end" font-weight="normal" fill="#111" >0.60</text>
<path d="M31.8 61.6h-3.4" stroke="#111" stroke-width="0.8"/>
<text x="26.2" y="64.1" font-size="7.50" text-anchor="end" font-weight="normal" fill="#111" >0.75</text>
<path d="M31.8 34.3h-3.4" stroke="#111" stroke-width="0.8"/>
<text x="26.2" y="36.8" font-size="7.50" text-anchor="end" font-weight="normal" fill="#111" >0.90</text>
<path d="M31.8 184.3h-2" stroke="#111" stroke-width="0.7"/>
<path d="M31.8 157.0h-2" stroke="#111" stroke-width="0.7"/>
<path d="M31.8 129.8h-2" stroke="#111" stroke-width="0.7"/>
<path d="M31.8 102.5h-2" stroke="#111" stroke-width="0.7"/>
<path d="M31.8 75.2h-2" stroke="#111" stroke-width="0.7"/>
<path d="M31.8 48.0h-2" stroke="#111" stroke-width="0.7"/>
<path d="M31.8 20.7h-2" stroke="#111" stroke-width="0.7"/>
<text x="121.8" y="219.1" font-size="9.40" text-anchor="middle" font-weight="normal" fill="#111" >Wavelength (µm)</text>
<text x="9.6" y="107.1" font-size="9.30" text-anchor="middle" font-weight="normal" fill="#111" transform="rotate(-90 9.6 107.1)">Hole side length (µm)</text>
<text x="212.6" y="10.8" font-size="9.40" text-anchor="start" font-weight="normal" fill="#111" >Absorptivity</text>
<text x="133.3" y="233.7" font-size="12.00" text-anchor="middle" font-weight="bold" fill="#111" >(a)</text>
<linearGradient id="g1" x1="0" y1="1" x2="0" y2="0">
<stop offset="0.000" stop-color="#0600ff"/>
<stop offset="0.120" stop-color="#007dff"/>
<stop offset="0.240" stop-color="#00ffff"/>
<stop offset="0.360" stop-color="#00fd82"/>
<stop offset="0.470" stop-color="#00fa00"/>
<stop offset="0.645" stop-color="#08fa00"/>
<stop offset="0.655" stop-color="#91fa00"/>
<stop offset="0.750" stop-color="#fffa00"/>
<stop offset="0.870" stop-color="#ff8700"/>
<stop offset="1.000" stop-color="#ff0f00"/>
</linearGradient>
<rect x="226.7" y="15.7" width="11.4" height="181.4" fill="url(#g1)"/>
<path d="M238.1 15.7V197.1M226.7 15.7V197.1" stroke="#555" stroke-width="0.5" fill="none"/>
<path d="M238.1 15.7h3" stroke="#222" stroke-width="0.7"/>
<text x="243.3" y="17.8" font-size="6.10" text-anchor="start" font-weight="normal" fill="#111" >0.3730</text>
<path d="M238.1 33.8h3" stroke="#222" stroke-width="0.7"/>
<text x="243.3" y="35.9" font-size="6.10" text-anchor="start" font-weight="normal" fill="#111" >0.3380</text>
<path d="M238.1 52.0h3" stroke="#222" stroke-width="0.7"/>
<text x="243.3" y="54.1" font-size="6.10" text-anchor="start" font-weight="normal" fill="#111" >0.3030</text>
<path d="M238.1 70.1h3" stroke="#222" stroke-width="0.7"/>
<text x="243.3" y="72.2" font-size="6.10" text-anchor="start" font-weight="normal" fill="#111" >0.2680</text>
<path d="M238.1 88.3h3" stroke="#222" stroke-width="0.7"/>
<text x="243.3" y="90.4" font-size="6.10" text-anchor="start" font-weight="normal" fill="#111" >0.2330</text>
<path d="M238.1 106.4h3" stroke="#222" stroke-width="0.7"/>
<text x="243.3" y="108.5" font-size="6.10" text-anchor="start" font-weight="normal" fill="#111" >0.1980</text>
<path d="M238.1 124.5h3" stroke="#222" stroke-width="0.7"/>
<text x="243.3" y="126.6" font-size="6.10" text-anchor="start" font-weight="normal" fill="#111" >0.1630</text>
<path d="M238.1 142.7h3" stroke="#222" stroke-width="0.7"/>
<text x="243.3" y="144.8" font-size="6.10" text-anchor="start" font-weight="normal" fill="#111" >0.1280</text>
<path d="M238.1 160.8h3" stroke="#222" stroke-width="0.7"/>
<text x="243.3" y="162.9" font-size="6.10" text-anchor="start" font-weight="normal" fill="#111" >0.09300</text>
<path d="M238.1 179.0h3" stroke="#222" stroke-width="0.7"/>
<text x="243.3" y="181.1" font-size="6.10" text-anchor="start" font-weight="normal" fill="#111" >0.05800</text>
<path d="M238.1 197.1h3" stroke="#222" stroke-width="0.7"/>
<text x="243.3" y="199.2" font-size="6.10" text-anchor="start" font-weight="normal" fill="#111" >0.02300</text>
<g clip-path="url(#cb)"><g filter="url(#bl)">
<rect x="307.4" y="13.9" width="194.7" height="187.4" fill="#0606ff"/>
<g transform="scale(0.2)">
<path fill="#0513ff" d="M2514 1007l-980 0-1-940 1-1 100-1 430 0 450 1 2 1 0 725z"/>
<path fill="#041fff" d="M2514 1007l-980 0 0-940 106-2 424 0 450 1 2 1 0 725z"/>
<path fill="#042cff" d="M2514 1007l-980 0 0-940 106-2 424 0 450 1 2 1 0 725z"/>
<path fill="#0338ff" d="M1674 969l-10 0-9-7-15-35-16-3-10-3-14-12-6 4-11 14-13 7-10-1-6-1-4-3-10-9-6 0 0-853 106-2 424 0 250 1 200 0 2 1 0 725-2 87-114 0-10 2-3 11 2 30-1 10-8 11-6 3-10 3-10-2-8-5-36-54-6-5-10-4-590 0-4 1-6 7-7 70-3 5z"/>
<path fill="#0345ff" d="M1670 962l-6-1-4-6-11-28-5-9-4-1-10 1-10-2-10-9-6-9-4-5-6 3-6 16-8 10-10 6-6 0-10-3-9-8-3-5-2-10-6 0 0-835 106-2 424 0 250 1 200 0 2 726-2 54-10-1-4-4-30-32-10-9-10-5-10-3-10 0-50 0-10 1-6 8 0 25 6 30 12 56 1 15-4 10-5 4-10 3-10-2-4-4-5-6-41-75-24-35-20-20-16-9-14-1-99 0-7 2-14 16-10 3-10-3-16-14-10-4-144 0-6 1-4 5-7 19-3 5-6 3-4 1-10-4-20-24-10-6-100-1-36 2-20 6-4 4-6 7-3 32 2 75-2 30-2 10-5 4z"/>
<path fill="#0251ff" d="M1670 953l-6-3-4-9-10-26-6-4-14 3-10-2-10-10-6-15-4-1-8 6-8 20-4 6-6 4-10 3-10-3-4-5-6-10-1-10 1-20-4-16-6 0 0-794 106-2 424 0 250 2 200-1 2 726-2 50-10-2-4-5-50-64-20-21-16-13-14-8-10-3-26-1-10 2-4 5-3 10 3 34 10 55 20 91-2 10-4 5-4 3-10 1-6-2-6-7-48-91-30-45-26-34-10-10-10-5-34 1-10-2-10-6-8-8-7-20-4-5-7-9-10-8-4-1-6 3-3 10-2 20-3 10-12 15-4 15-6 8-4-2-6-6-8-15-3-10-3-20-6-14-10-14-4-2-6 7-2 28-2 10-6 5-4 1-10-4-6-4-20-31-10-11-10-6-4 0-6 2-4 8-13 35-7 7-6 2-4-1-10-7-20-29-10-10-6-3-4 3-2 18 2 15 6 20 2 10-1 25-3 12-4 0-6-5-20-32-17-20-13-21-4-2-4 18-4 10-8 7-4 2-10 1-10-2-20-17-10-3-20 0-16 1-10 4-7 7-7 14-10 25-6 17 4 129-3 25zM1625 862l5 0 3-5 0-5-3-13-6-12-4-1 3 16-1 15z"/>
<path fill="#025eff" d="M2370 938l-10 0-6-2-4-6-46-86-44-72-20-28-10-10-10-6-30 2-10-3-10-10-30-46-16-15-10-4-4 3-4 12 1 30-1 15-2 4-4 4-10 1-6-2-4-7-30-55-10-9-6 0-2 4-3 10 3 35 0 15-2 6-6 1-10-8-30-45-10-13-10-7-4-2-6 1-4 3-10 12-5 12-3 30-2 6-6 0-10-9-30-41-10-8-4 1-3 11 0 15 6 60-1 5-2 5-6-4-24-28-30-45-6-7-4-4-3 8-2 15 2 5 7 8 5 7 2 15-3 10-2 5-6 5-6 2-4 0-10-5-6-7-6-15-4-3-18-12-12-16-4-4-16-2-14 5-10 11-7 16-4 15-9 59-1 16 5 100-1 25-3 15-6-1-14-29-6-1-14 5-6 0-7-4-6-10-3-15-4-2-5 2-9 8-8 22-8 8-10 2-4-1-7-4-4-5-4-10 2-25-7-35-6 0-1-290 1-486 530-1 451 2 0 610 1 115-2 47-4 0-10-7-56-75-54-62-16-12-10-6-10-2-10 3-4 5-4 14 0 25 4 29 4 25 33 141 1 10-2 5zM1623 867l11-2 3-3 0-10-7-27-5-8-5-6-6 0-3 6 8 25-1 20 1 5z"/>
<path fill="#016aff" d="M2370 935l-6 2-4-1-6-3-4-6-50-96-46-73-30-41-10-7-21-3-19-8-4-4-10-12-36-52-14-15-10-6-6 1-2 11 6 65-3 10-5 0-10-7-6-7-24-47-16-23-10-11-4-1-5 6-1 10 10 70 0 10-4 5-6-3-10-13-40-67-10-10-4-3-10-2-6 3-10 9-4 6-1 15 2 35-1 10-6 0-4-5-30-45-10-13-6-4-4 0-4 7-1 10 5 70 0 5-6 3-14-9-10-12-36-58-10-14-4-4-4 4-1 5 0 15 13 20 2 10-1 20 1 5 13 10 4 10-1 10-3 5-3 4-6 3-8-2-6-5-4-10-2-10-4-5-10-3-9-7-4-5-7-20-21-15-15-20-4-2-7 2-9 10-4 12-6 18-5 35-4 75 6 95-1 30-2 10-4 4-14-21-16 8-4 1-10-3-7-9-2-10 3-12 10-5 16-2 1-6-6-30-5-15-6-9-4-4-6-1-5 4-2 10 8 20 2 10-1 10-3 10-4 5-21 15-3 5-3 15-8 10-10 3-10-4-3-4-4-10 3-25-10-51-6 0-1-274 1-486 530-1 451 2-1 560-10 1-4 4-2 10 2 12 10 47 4 0 2 91-2 45-4 0-7-5-59-81-74-94-20-19-10-5-6 1-4 7-3 16 1 50 12 61 35 149 1 10-3 5z"/>
<path fill="#0077ff" d="M2370 933l-6 2-4-1-8-7-48-90-63-105-31-54-16-22-10-8-10-4-4 0-10 14-6-2-10-12-40-61-14-16-10-6-5 6 0 10 13 80 1 10-1 5-4 3-4-4-10-14-50-92-10-14-10-7-3 3-2 5 1 10 4 26 16 74 1 15-3 8-4-2-10-14-50-88-10-13-10-7-6-1-5 2-9 12-5 13 0 15 5 40 0 15-6-1-4-6-30-48-10-13-6-4-4-1-4 8-2 10 3 65-3 7-4 4-6 1-4-3-10-13-50-86-10-11-6-2-1 8 0 15 1 5 8 10 5 10 2 10 0 20 14 15 4 10 0 10-3 10-4 8-6 2-10-1-10-6-5-8-5-19-14-9-8-7-11-25-27-19-4 0-6 7-5 17-5 32-2 33 0 90 4 40 2 45-1 20-3 17-4-1-10-12-10 11-6 4-4 1-6 0-4-3-5-7-2-10 4-10 7-5 20 1 1-6-5-27-10-28-6-10-4-4-6-1-4 1-4 4-3 10 1 10 10 20 1 10-2 10-8 10-20 15-5 20-6 8-10 4-10-5-5-12 3-25-8-40-4-24-6 0 0-747 530-1 451 2-1 523-20 2-10 4-3 6-1 10 4 20 12 35 8 34 6 15 4 0 0 119-4 0-9-8-57-80-90-120-20-19-4-3-6 0-4 10-2 17 2 31 4 44 10 50 39 155 1 15zM1794 729l-4 0-8-7-2-10 1-5 3-6 6-2 4 1 7 7 2 5-1 10-2 3z"/>
<path fill="#0084ff" d="M2364 933l-4-1-6-4-6-11-38-74-69-116-47-96-14-25-10-13-10-10-6-2-4-1-5 7-1 20-2 5-2 2-10-10-46-66-14-16-6-3-4 8 0 15 16 80 2 15-1 5-3 3-14-21-36-65-17-27-13-25-10-15-4-4-4 4-1 5 4 30 26 105 5 25 0 10-6 0-10-14-44-86-16-25-14-19-10-7-6 1-4 5-6 11-3 14 2 25 7 45 0 14-6-1-4-7-40-63-6-5-4-3-6 10-4 34-6 3 0 3 0 15 3 25-3 12-4-2-10-14-46-84-14-24-10-11-6-2-4 4-2 16 1 5 13 20 5 30 13 15 4 10 2 10-2 17 2 3 14 10 4 10 0 10-4 10-6 5-4 1-6 0-8-6-5-10-1-15-5-5-11-3-8-7-6-10-6-18-17-12-7-10-6-15-10-5-10 0-4 10-4 100 3 95 5 55 1 30-2 15-3 8-7-8-16-60-7-18-6-7-4-4-6-2-4 1-6 5-3 15 1 10 11 20 1 10-3 10-7 8-21 17-3 15-6 11-4 3-6 1-4-1-5-4-3-5-2-10 4-15 0-5-4-15-10-61-6 0 0-735 530-1 451 2-1 487-14-1-6-4 0-2 5-20-1-10-28-41-10-11-3 7 6 55 4 10 10 15-7 11-4 9 0 10 3 20 6 20 17 45 18 57 4 0 0 109-4 0-8-6-48-69-104-147-16-17-10-9-4-2-6 3-2 16 0 20 8 74 10 49 41 167 1 15-2 3zM1794 724l-4 0-5-7-1-5 6-6 4 0 5 6 0 5zM1634 904l-4 2-6-1-4-3-4-5-1-5 1-10 4-5 4-3 10 1 9 7 1 10-2 5z"/>
<path fill="#0091ff" d="M2370 927l-6 4-4-1-6-5-10-18-34-67-66-113-44-100-20-40-16-26-14-13-10-2-6 2-2 4-4 20-4 4-10-9-50-72-4-5-6 1-2 16 0 30 12 58 2 12-2 5-4-5-33-55-14-20-23-49-16-27-10-15-4-3-2 4 0 10 6 38 33 122 5 20 0 15-2 3-6-5-10-17-44-89-20-36-16-20-10-8-4-2-6 6-5 18-2 10 3 27 10 58 0 15-6-3-4-6-40-67-10-11-6 1-10 17-10 1 0 3 0 15 12 60 1 10-3 6-4-5-10-16-60-113-10-14-6-5-4-2-5 9-1 10 7 45 3 5 10 10 6 10 3 10 2 20 11 10 6 10 1 15-4 15 1 4 14 5 6 5 2 11-2 10-6 7-4 1-6 0-4-3-7-10 0-10 1-11-14-3-10-6-7-10-5-20-14-8-7-7-5-10-5-15-27-13-6-1-4 3-2 11 3 35 0 80 6 95 5 35 0 30-2 21-6-2-17-54-7-18-6-7-4-4-6-2-4 1-6 3-3 7-3 15 2 10 12 20 0 10-1 5-7 10-19 15-5 5-1 15-5 9-4 4-6 0-7-3-4-5-1-10 5-15-1-5-4-15-12-72-6 0 0-724 530-1 451 2-1 438-4 0-16-15-16-23-28-47-26-29-4 1 16 45 5 25 4 25 4 55 5 31 16 46 21 53 13 46 6 12 4 0 0 102-4 0-10-10-130-190-26-35-24-29-6-3-4 0-4 12 0 30 4 34 9 66 44 175 7 35zM1634 902l-4 2-6-1-6-6-2-10 4-7 4-4 6 0 4 1 6 5 2 5-3 10z"/>
<path fill="#009eff" d="M2364 929l-5-2-9-13-40-76-64-111-56-132-20-41-16-23-14-14-10-2-6 1-5 6-5 21-4 0-10-12-36-52-10-11-4 4-2 20-2 45 4 29-6-1-30-38-50-103-20-32-4 0 0 10 10 47 44 163 2 15-2 7-4-5-10-16-66-130-20-32-20-25-4-1-2 7-3 50 4 30 11 50 1 20-1 3-10-12-36-62-14-21-6-4-4-1-16 4-4 4-1 14 18 85 1 15-4 3-14-24-60-116-16-24-10-10-2 11 3 40 11 40 2 20 12 9 8 11 2 10 1 20 16 15 4 10-1 15-5 10-5 3-10 0-6-2-4-4-5-7-3-20-2-3-16-8-8-9-6-23-36-18-10-1-3 2-2 5 0 10 6 40 2 75 8 100 4 30 0 30-5 10-4-9-16-45-10-16-10-5-4 0-6 2-4 7-2 6-1 20 3 9 10 16 1 10-1 5-7 10-23 17-2 3-1 15-3 7-4 4-6 1-5-2-4-5-2-10 6-15 0-5-5-15-14-83-6 0 0-713 530-1 451 2-1 418-4 0-6-2-14-15-30-47-56-72-20-18-5 1 33 70 15 35 6 35 1 40 6 30 4 17 16 43 29 70 15 51 6 12 4 0 0 95-4 0-9-8-79-115-52-80-36-50-20-24-4-4-6 0-2 3-2 10 1 20 3 42 10 70 10 45 28 103 13 55 4 25-2 5zM2480 297l0-5-1-10-19-51-6-6-14-4-10-14-3 5-1 5 4 17 4 2 6-1 4 3 8 14 12 38 6 7 4 3zM1770 688l-6-1-4-3-4-7 0-10 1-5 3-3 4-3 6 0 4 3 6 8 0 10-3 5-3 3zM1630 902l-6-1-4-4-2-5 0-5 2-5 4-4 6-1 7 5 2 5-2 10z"/>
<path fill="#00aaff" d="M2364 926l-4-1-10-13-40-76-62-109-44-106-24-58-20-38-16-23-14-14-10-3-6 1-6 6-5 15-3 5-10-9-30-42-6-6-4-3-5 10-2 45-3 20-6 5-4 0-6-2-4-4-16-27-50-104-20-38-10-14-1 4 0 10 7 31 54 198 6 22 0 8-6-2-10-17-50-103-30-57-24-41-16-19-4 5 0 5 4 70 6 30 10 50 3 20-3 4-6-6-40-71-14-22-10-10-10-3-6 0-4 4-2 4-1 10 2 20 17 75 4 20 0 8-6-4-10-16-64-129-20-35-10-12-3 3-1 5 4 27 10 58 12 35 2 25 4 5 12 7 5 8 4 10-1 20 1 5 11 5 8 10 2 10-2 10-4 7-4 3-6 2-10-3-7-9-4-25-13-5-8-5-6-10-4-20-18-8-24-14-10-1-7 3-2 5 0 10 8 45 4 80 14 125-2 20-1 5-4-5-13-35-7-14-6-6-10-5-10 1-4 6-3 8-3 20 2 10 2 5 11 15 1 5-2 10-8 11-22 14-3 5 1 10-2 10-4 4-6 2-4-2-6-8 0-6 8-15-1-5-6-15-15-92-6 0 0-703 530-2 451 2-1 400-10-2-14-12-76-102-24-26-10-9-6-3-4 1-3 3-1 5 34 70 17 40 3 10 2 15-3 35 5 20 26 73 37 87 17 55 6 12 4 0 0 90-4 0-7-7-82-120-51-80-46-64-10-13-10-9-4-2-4 8-1 20 5 43 14 99 47 178 5 30 0 10zM2482 302l2-5 0-10-20-54-6-11-18-9-6-6-6-15-4-21-4-6 2 7 1 40 2 20 5 7 10 3 5 5 6 15 8 25 5 11 6 5 4 2 6-1zM1774 682l-4 3-6-1-6-7 0-10 6-7 6-1 4 4 3 4 0 10zM1634 898l-4 2-6-1-2-2-3-5 1-5 4-7 6-1 5 3 3 5 0 5z"/>
<path fill="#00b8ff" d="M2364 919l-4 3-10-13-40-75-58-102-72-177-26-50-14-23-16-14-10-5-4-1-10 4-10 14-6 0-10-10-24-31-6 1 0 2-3 50-4 15-3 4-10-1-4 2-6-4-11-16-29-64-44-92-10-14-6-3-2 8 2 21 60 211 6 23 1 10-1 4-16-25-74-153-40-70-10-13-6 1 0 11 10 85 17 80 3 26-4-1-6-7-44-81-16-23-20-22-4-3-6 0-2 6 0 10 2 25 26 107 1 13-1 6-10-15-10-18-70-142-20-35-10-12-2 6 2 12 25 118 4 15 10 20 3 10 1 25 11 6 10 9 4 15-4 21 16 6 4 6 4 7 0 10-4 8-4 5-10 1-6-2-4-6-3-6-1-10 2-10-4-3-14-3-10-9-4-10-2-17-4-3-10-2-30-18-16-4-4 2-3 2-2 5 0 10 10 55 4 70 15 130-1 5-3 4-15-34-11-15-4-4-10-2-6 1-4 5-6 15-1 25 3 10 12 15 1 10-2 5-7 9-26 16-2 5 3 10 0 5-3 5-2 3-6 1-4-2-4-7 0-5 4-9 5-6-8-20-17-102-6 0 0-693 530-2 451 2-1 381-14-3-16-12-40-49-30-40-32-32-8-4-4 1-6 3-3 5 3 14 30 61 13 35 3 20-4 25 4 20 40 100 33 75 21 64 6 12 4 0 0 84-4 0-10-10-77-115-59-91-44-65-10-13-10-10-6-1-3 10 0 20 3 34 19 116 43 165 7 35zM2482 307l4-5 1-5 0-10-22-60-5-7-20-12-5-6-4-10-7-34-4-3-2 2-1 10 4 50 3 20 6 5 10 5 4 5 11 35 9 15 6 5 4 2 6 0zM1770 682l-6-1-3-4-1-5 1-5 3-4 6 0 5 4 0 10zM1630 899l-6-2-3-5 0-5 3-5 6-1 4 4 2 7-4 5z"/>
<path fill="#00c4ff" d="M2360 917l-6-4-10-15-34-66-59-105-67-168-24-55-16-26-14-16-20-15-6-2-10 2-10 11-4 3-6-3-24-30-6-3-3 7-1 10-1 40-3 15-2 3-4 1-16 1-4-4-7-11-29-65-44-93-16-24-4-6-6-2 0 20 6 27 60 207 2 16-2 5-16-27-80-164-24-46-16-20-4-3-5 5 0 25 9 69 21 91 1 10-2 6-4-5-10-17-40-75-20-32-26-33-4-4-5 5 0 15 5 27 30 123 2 15 0 5-2 2-20-35-80-164-16-21-4-3-1 1-2 10 2 15 31 128 4 18 13 24 3 10 1 10-1 15 4 4 10 4 8 7 4 10 0 10-3 10-3 6-10 3-10-2-6-4-4-8-4-25-16-4-25-16-11-5-14-3-6 1-2 2-2 5 0 10 11 60 5 70 9 70 1 40-2 5-1-5-13-20-10-9-10-3-6 1-4 4-7 17-1 30 2 10 12 15 1 10-1 5-6 7-20 13-10 3-6-5-6-13-14-87-4-23-6 0 0-685 530-2 451 2-1 361-10 0-10-2-14-12-26-25-36-47-36-35-8-3-4 1-10 7-2 5 2 10 24 60 7 20 3 20-2 25 2 15 6 15 21 45 29 70 33 75 21 63 6 11 4 0 0 80-4 0-8-9-81-120-67-105-40-58-10-13-10-9-4-1-3 6-1 15 4 35 20 127 4 23 42 155 6 30 0 10zM2481 312l6-5 3-10 0-10-5-15-20-50-11-10-14-8-5-7-9-40-2-3-4-2-5 5-1 5 5 60 3 15 3 5 15 10 5 10 9 30 6 10 10 8 4 2zM1750 643l-6 2-4 0-6-3-3-5-2-5-1-10 2-5 4-8 10 0 6 3 4 6 2 4 0 10-2 5zM1770 678l-6-1-1-5 2-5 5-1 3 6zM1630 897l-6-3-1-2 1-7 6-2 4 4 0 5zM1570 908l-6 1-4-2-3-5 2-10 5-5 6 1 4 9-1 5z"/>
<path fill="#00d2ff" d="M2360 910l-6-1-10-13-92-169-68-175-24-57-14-23-22-20-14-15-10-8-6-1-4 1-16 13-4-2-26-26-4 3-1 5-2 60-2 10-5 5-16 0-4-4-6-8-24-58-46-95-20-36-10-14-4-5-4 5 0 10 8 45 51 170 9 38 0 7-4-4-10-18-66-137-30-59-14-24-16-18-4-2-4 7 2 45 7 45 21 90 1 10 0 5-3 2-10-14-50-95-24-41-16-18-4-3-6 1-1 3-1 10 2 19 36 136 4 24 0 7-4-3-16-27-74-156-20-30-6-5-4 0-1 15 4 25 21 88 16 57 4 10 11 20 4 10 0 10-1 20 12 2 10 7 4 11 1 10-3 10-8 7-10 0-4-2-6-5-5-10 1-22-20-4-22-14-18-10-16-3-7 3-2 5 0 10 12 65 5 65 9 70 0 20-1 6-16-15-14-8-6 0-4 5-6 12-3 15-1 30 2 10 13 15 1 10-2 5-4 5-16 11-10 4-4-1-6-3-3-6-3-10-14-90-4-24-6 0 0-676 530-2 245 2 1 7 4 19 6 2 2-28 193 0-1 340-20 1-10-3-10-6-24-25-30-37-32-30-8-6-6-1-4 2-13 10-2 5 2 10 11 35 9 30 1 15-1 25 3 15 14 35 24 45 32 75 32 70 22 66 6 11 4 0 0 76-4 0-7-8-77-115-76-121-40-59-10-12-10-8-6 0-1 5-1 15 3 25 9 69 16 86 42 155 8 39zM2488 312l4-10 0-15-22-60-6-9-4-5-20-13-6-13-6-30-4-5-4-2-6 4-1 8 4 60 3 15 4 7 10 6 6 6 11 36 10 15 13 9 10 0zM1744 643l-4 0-6-3-4-8 0-10 1-5 3-4 6-2 4 0 6 3 5 8 0 10-2 5-3 4zM1630 893l-4-1 1-5 3-1 1 6zM1564 908l-4-4-2-7 6-7 6 1 2 6 0 5-2 4z"/>
<path fill="#00dfff" d="M2354 905l-4-5-10-15-89-163-61-163-26-61-13-26-7-7-21-18-19-25-10-9-4-2-6 0-4 2-10 9-6 0-4-3-16-16-4-3-3 7-1 15-2 63-4 8-10 2-6-1-4-5-6-8-24-58-56-116-20-34-4-7-6-3-4 3-1 6 5 36 10 39 46 149 5 21-1 12-4-6-16-29-80-168-20-32-20-23-4 2-2 14 3 50 8 45 17 70 2 15-4 3-54-104-20-34-16-20-10-9-4-3-3 2-3 5 0 15 2 20 38 143 2 12-2 5-14-25-70-147-20-32-10-12-6-4-2 10 2 25 10 50 16 58 18 62 6 15 12 20 2 10 0 10-5 15-3 3-10 2-10-2-27-18-23-11-10-1-6 1-4 6 2 20 12 65 10 126-1 4-3 2-11-12-9-5-6 1-4 5-6 15-4 24-1 35 2 10 12 15 2 10-5 9-20 13-10 0-6-4-4-13-16-99-4-23-6 0 0-668 530-2 242 2 8 48 6 14 4-32 2-30 189 0-1 317-4 0-20 5-10-1-10-5-20-18-29-33-31-28-10-7-6 0-4 3-16 12-2 5 12 50 4 55 6 25 43 85 61 135 26 74 6 10 4 0 0 72-4 0-6-6-76-115-78-124-46-67-14-16-6-1-4 3-1 5 1 24 4 37 20 119 10 45 37 130 6 35 0 10zM2490 317l6-15-1-15-23-60-10-15-18-11-4-5-4-9-6-30-6-7-4-1-6 3-3 10 7 75 6 10 9 5 4 5 11 35 9 15 7 7 16 8 4 0zM2376 242l1-5-1-5-6-22-2 7 1 20 4 5zM1720 603l-10-2-6-5-4-9 0-10 2-10 2-4 6-2 10 0 4 2 6 5 3 9 1 10-4 10-6 5zM1750 639l-6 3-4-1-6-3-3-6 0-10 3-6 6-3 4 0 6 3 3 6 0 10zM1570 903l-6 3-4-4 0-5 4-5 6 3z"/>
<path fill="#00ecff" d="M2354 899l-4-2-10-15-87-160-63-169-26-62-10-20-8-9-19-15-23-32-14-18-10-4-6 1-10 8-4 2-6-2-14-15-6-2-1 12 1 70-1 15-3 6-6 3-10-1-4-5-6-9-23-54-57-121-20-34-4-7-6-3-4 1-4 4-2 4 4 26 12 45 44 150 2 15-2 4-14-27-76-159-15-28-25-31-4-1-5 2-3 5-1 30 4 40 21 90 1 10-3 5-14-25-40-77-20-33-10-13-16-12-4-1-3 6-1 15 4 27 34 129 3 14 0 5-3 1-14-28-66-135-14-23-16-20-4-6-4 1-2 2 10 68 16 65 26 85 4 10 12 20 4 10 1 15-3 10-4 6-6 2-10 0-10-4-24-18-20-9-16-3-6 1-3 5 3 25 12 65 3 70 0 15-3 7-10 0-6 4-4 6-6 13-4 34-3 26 1 25 3 10 11 10 2 5 0 5-4 7-20 13-6 1-4-1-6-5-3-10-17-107-4-23-6 0 0-262 6 0 2-13-2-12-6 0 0-373 530-2 240 2 10 69 6 13 4-2 1-5 4-75 186 0-1 292-4 0-26 10-10 1-10-4-14-11-27-28-33-29-10-5-6 0-17 14-5 5-2 5 8 40 4 60 6 25 12 25 35 65 61 135 28 77 6 10 4 0 0 68-4 0-9-10-75-115-82-130-40-60-10-12-10-8-4 0-5 10 0 10 5 37 24 145 6 23 40 145 5 30zM2492 327l5-10 2-15 0-15-4-10-25-59-10-11-16-9-4-6-9-35-2-5-5-4-4-1-8 5-2 10 4 60 4 20 16 16 13 39 7 12 10 10 16 9 4 2zM2380 242l-1-10-9-30-6-3 0 13 5 30 5 4zM1724 600l-10 2-4-3-7-7-2-5 0-10 3-9 6-5 10-1 4 3 7 7 1 5 1 10-3 8zM1744 640l-4-1-7-7 0-10 1-3 6-4 4 0 6 3 2 4 0 10-2 5zM1564 903l-1-1 0-5 1-2 3 2 0 5z"/>
<path fill="#00f8ff" d="M2350 893l-16-22-80-149-64-174-26-63-9-18-4-5-17-11-9-9-31-49-14-15-6-2-4 0-16 9-4-1-16-15-4-2-2 15 4 35-1 60-1 6-5 4-5 1-6-2-4-5-6-10-18-44-62-131-20-35-4-5-6-2-4 0-6 3-2 5-1 5 2 15 11 45 40 133 4 17-4 5-84-178-16-25-17-22-7-2-6 1-5 6-5 30 5 40 15 66 2 9-2 6-10-15-40-75-18-31-12-12-14-12-6-1-2 5-3 15 2 20 8 35 25 92 2 13-2 3-14-27-46-95-14-27-29-39-7-2-2 2-2 5 0 5 9 60 15 64 30 92 20 34 2 10 0 10-4 10-2 4-6 3-10 0-10-5-24-17-19-10-21-7-6 0-2 2-2 5 0 5 14 85 0 30-4 25-16 44-2 11-3 20-3 60 1 20 3 6 10 9 2 5 0 5-2 5-20 14-6 1-4-2-4-3-3-10-19-115-4-22-6 0 0-243 6 0 4-7 4-13-3-15-5-15-6 0 0-360 530-2 238 2 12 80 6 14 4 3 4-7 2-14 2-76 183 0-1 259-4 0-3-4-1-5-2-25-3-10-29-65-8-10-21-15-3-8-9-32-6-5-5-1-6 2-4 4-2 10 3 55 3 20 5 10 11 10 3 5 9 35 5 10 7 10 16 15 7 10-3 4-4 2-10-1-6-2-64-53-10-4-6 1-12 13-8 5-5 5-1 5 6 35 3 60 7 30 10 21 39 69 64 140 27 74 6 10 4 0 0 65-4 0-8-9-75-115-77-125-46-68-20-24-4-2-6 7-1 7-1 10 2 22 26 145 10 48 31 110 9 34 3 26-1 5zM2379 247l3-5-1-10-9-30-2-5-6-2-3 7 0 5 7 35 2 4 4 3zM1940 486l-4-4 4-1zM1724 599l-4 2-6-1-4-2-6-6-2-5 0-10 2-7 6-5 10-1 4 2 6 6 1 5 1 10-2 6zM1744 638l-4 0-6-6 0-10 6-5 4-1 6 6 0 10z"/>
<path fill="#00fff5" d="M2350 888l-6-3-10-16-79-147-61-166-24-65-11-24-5-5-20-13-6-7-34-56-10-14-20-22-4-2-6 1-10 9-4-1-10-8-6 1 0 22 6 50 0 50-2 5-4 6-4 1-6-2-10-17-18-43-62-131-19-34-5-5-6-1-8 1-6 5-2 5 0 10 6 29 40 134 4 17-4 3-74-158-16-24-14-19-10-3-6 1-7 5-6 10-3 15 1 20 15 74 0 6-4-3-6-8-40-73-10-15-11-11-13-10-8 0-4 5-3 15 1 15 28 113 0 12-10-16-40-83-17-31-22-30-5-4-8-1-5 5-1 10 9 60 15 60 30 90 9 20 14 20 3 15-2 10-4 7-6 3-10 1-4-2-26-18-20-11-30-13-4-1-6 3 0 11 6 35 3 50-5 60-9 55-5 85 3 20 3 5 10 7 1 8-5 5-16 12-6 1-6-3-4-10-20-123-4-22-6 0 0-225 6 0 4-6 6-9 3-10-3-15-10-28-6 0 0-352 530-2 235 2 12 75 9 29 4 3 6-4 2-8 2-95 181 0-1 216-4 0-10-15-10-18-13-28-7-13-7-7-19-13-11-37-5-5-8-2-7 2-4 5-3 10 5 70 2 10 2 5 9 10 6 10 6 40-2 3-10-2-34-23-10-3-6 2-9 13-15 12-3 3-1 5 5 35 3 60 6 25 6 15 47 85 63 135 28 77 6 10 4 0 0 60-4 0-10-13-68-104-82-133-46-69-20-27-4-4-6 2-2 11-3 15 1 10 24 142 13 63 38 135 6 30zM2383 247l2-10-10-35-5-8-6-1-4 4-1 5 7 40 4 7 4 2 6-1zM1724 597l-4 2-6 0-4-2-7-10 0-10 2-5 5-5 4-2 6 0 4 3 6 9 1 10zM1744 636l-4 0-4-4-1-5 2-5 3-3 4 0 6 6-1 7z"/>
<path fill="#00fee0" d="M2344 878l-4-5-10-16-73-135-47-133-46-120-4-8-23-14-10-10-45-80-18-39-10-16-10-10-4-1-6 1-8 20-6 6-4 9 2 30 9 65-1 40-2 9-4 3-6-4-4-7-18-41-22-42-40-86-16-29-10-14-4-4-10-2-8 2-6 5-3 5 0 10 5 25 26 89 6 20 0 9-16-26-44-97-20-30-10-10-10-2-10 2-9 5-9 10-2 8-1 12 6 40-1 11-10-13-22-38-12-14-10-8-10-4-9 1-7 5-5 15 0 15 15 64 0 14-10-16-29-57-25-35-6-6-10-4-6 0-6 5-2 5 0 10 8 55 16 64 36 96 7 15 14 20 3 15-2 10-3 5-5 3-10 1-4-1-30-22-36-20-14-10-10-3-7 2-1 10 6 25-4 15-1 10 7 65 1 20-7 80-2 90 3 20 5 6 6 4 0 5-6 4-10 9-6 2-4-3-6-19-20-124-4-23-6 0 0-188 6 0 2-3 8-15 11-15 1-10-4-15-16-35-2-9-6 0 0-341 530-2 232 2 12 75 6 31 6 9 4 1 8-6 6-10-1-60 1-40 177 0-1 191-4 0-10-9-10-15-8-17-9-15-9-9-14-10-13-31-5-5-8-4-10 1-8 8-4 15 4 90-6 4-6-1-4-3 3-15-11-35-4-10-4-5-4-3-6-1-5 4-2 10 6 35 1 8 6 9 9 8-14 30-5 7-14 8-3 5 0 5 3 25 1 40 3 28 9 37 51 90 66 140 28 76 6 10 4 0 0 54-4 0-12-15-67-105-81-133-55-82-11-20-4-6-6-2-5 8-2 20-1 20 14 79 24 126 40 144 3 21zM1720 597l-6 0-4-3-5-7 0-10 2-5 7-5 6 0 4 3 5 7 0 10-2 5zM1744 632l-4-1 0-7 4-1 2 4z"/>
<path fill="#00fecb" d="M2340 868l-16-24-65-122-91-255-8-10-20-11-10-9-42-80-28-68-10-15-16-19-4-5-6-1-4 1-3 2-3 5-5 40 1 25 15 95-1 26-1 9-3 7-6-3-2-4-12-31-16-22-14-26-38-81-15-30-7-12-10-9-10-3-16 3-5 6-2 10 5 30 18 59 0 12-10-16-23-50-11-20-16-25-10-8-10-2-10 1-20 5-6 4-3 10-1 33-6-2-20-26-10-7-14-3-10 2-6 3-8 10-3 10-1 15 3 20-1 5-22-35-28-30-30-16-4 7-6 3-4-7-6-13 0-9 6-4 0-6-6-23-4-10-10-11-5-11-5-85 494-2 229 2 19 110 2 10 6 5 19-15 5-5 1-5-4-55 2-45 172 0-1 156-4 0-6-6-17-40-6-10-7-7-10-3-14 0-12-10-10-5-8-1-6 1-8 5-4 5-8 18-9 12-5 1-16 0-4 2-4 7-1 10 6 35 2 10 4 10 1 10-6 25-8 8-10 4-3 3-1 5 2 25 2 59 4 26 6 21 7 14 46 80 65 135 32 85 6 9 4 0 0 49-4 0-6-6-68-107-82-134-55-86-15-29-10-10-4-1-5 10-2 40 1 20 38 195 38 130 4 25-1 5zM1540 231l-6 0 0-10 6 0zM1694 553l-4 2-10-2-30-23-31-18-39-30-34-60-5-15 0-25-1-10-6 0 0-75 6 0 14-16 10-8 16-2 20 4 10 7 4 10 15 60 16 55 34 85 22 35 1 15-2 6zM1574 862l-4-8-30-174-6 0 0-161 6 0 14-10 6-2 4 1 6 4 7 10 3 10-4 25 9 80-5 90-1 65 1 35 2 25-2 7zM1724 592l-4 3-6 0-4-3-3-5 0-10 3-5 4-3 6 0 4 4 3 4 0 10z"/>
<path fill="#00feb6" d="M1680 276l-30-24-15-10-10-10-14-25-14-35-11-15-3-10-1-10-4-70 149 0 4 50 3 55 5 30 3 10 15 15 3 10-2 15-4 5-10-7-10-3-24 4-17 11zM2340 860l-6-3-10-16-63-119-91-259-4-6-6-5-20-9-10-11-38-75-28-70-24-43-10-7-10-1-6 1-4 4-4 6-4 15-1 25 3 25 18 100 0 15-2 15-6 0-14-30-36-57-37-83-13-23-10-13-10-8-10-3-14-1-6 3-4 6-2 9 3 30-1 8-21-33-15-18-10-6-14-3-6-3-4-6-10-20-17-49-11-45-4-30 316-2 226 2 10 50 10 72 4 18 6 2 1-7 6-10 13-9 10-3 3 7 1 20 10 55-1 15-4 15-4 5-5 2-10 1-3 7 2 25 2 55 3 30 5 20 9 20 49 85 66 135 31 84 6 9 4 0 0 42-4 0-16-21-56-89-84-138-52-82-18-36-10-12-4-2-6 2-3 8-1 15-1 35 2 15 39 195 36 125 4 20zM2364 157l-4-1-6-6-5-18-3-25 3-40 166 0-1 60-4 0-16-14-4-3-6 0-4 2-19 20-11 9-10 2-10-3-10-1-10 3-16 12-4 1zM2335 282l-1-7-4-5-3 7 3 7 4 2zM1690 554l-10-3-30-23-30-19-30-27-13-15-31-50-3-15 2-20-1-11-4-17-6 0 0-46 6 0 10-12 14-11 10-3 16 2 14 8 6 10 14 51 20 61 33 78 23 35 2 10-1 5-7 10zM1574 834l-4-4-6-21-24-147-6 0 0-137 6 0 14-6 10 1 6 4 4 8 0 5-2 20 6 55 2 30zM1720 593l-6 0-5-6 0-10 5-6 6 0 5 6 0 10z"/>
<path fill="#00fea1" d="M1690 258l-10-1-10-6-10 0-16-8-13-11-10-15-31-70-2-15-1-65 132 0 5 45 3 60 10 55-1 5-3 5-6 5zM2334 851l-10-14-62-115-89-260-7-10-22-8-4-3-8-9-39-80-23-64-26-48-4-6-10-6-16 0-4 2-7 7-5 10-3 10 0 15 4 25 19 110 1 10-5 11-49-81-28-65-27-50-10-32-10-18-6-5-10-4-60-3-14-4-10-6-10-13-10-20-8-35-2-25 304-2 223 2 0 5 7 29 4 21 6 50 1 30 3 10 4 5 8 4 4-2 3-17 4-10 9-5 4-1 6 6 10 70-1 20-3 10-6 5-6-1-3-4-3-15-4-10-4-2-3 2-3 4 0 6 9 25 3 25 3 65 3 25 5 20 8 20 50 85 66 135 33 88 6 9 4 0 0 35-4 0-26-36-48-76-76-129-55-86-21-42-10-12-10-6-4 4-3 16 0 45 1 20 41 200 36 125 1 15zM2400 144l-10 2-16-5-10-5-6-9-4-10-1-15 5-35 96 0 0 5 7 15 1 10-2 15-8 15-8 7-4 2-26 2zM2265 312l3-20-4-16-4 4-3 12 3 23 4 0zM1690 552l-6 0-4-3-10-8-55-39-30-30-37-55-3-15 3-25 0-10-8-32-6 0 0-14 6 0 10-17 14-11 16-4 10 2 10 7 6 9 28 90 10 25 31 70 5 10 18 25 2 10-1 5-5 8zM1570 797l-6-10-4-23-20-123-6 0 0-111 6 0 14-5 6 1 4 3 5 8-1 20 7 65-2 140zM1720 591l-6 0-3-4-1-6 1-4 3-3 6 0 3 3 1 4-1 6z"/>
<path fill="#00fd8c" d="M1690 252l-6-1-4-4-16-17-4 1-6 7-4 2-10-5-10-11-10-17-24-60-1-20 2-60 116 0 6 50 2 55 7 35 1 20-4 10-5 5-26 10zM2330 840l-20-33-48-90-88-259-4-8-5-3-21-5-9-10-39-80-22-60-28-60-6-7-10-4-10-2-10 1-6 2-4 6-8 19-2 15 3 20 12 60 9 55 0 13-4 1-11-14-27-45-28-65-26-55-8-30-17-45-3-22-6 1-14 14-20 6-26 0-10-2-14-7-12-10-7-10-3-10-4-25 2-25 100 0 0 5 14 35 4-2 8-28 0-10 162-1 219 1 0 5 12 40 6 50 0 20-5 25 1 5 13 10 10 5 4 0 5-5 2-20 3-9 6-3 4 1 4 6 2 7 7 53-3 31-4 5-6-3-4-18-6-11-4-1-6 5-2 7 1 10 6 15 4 20 2 65 4 35 5 20 10 25 48 80 67 135 35 92 6 9 4 0 0 28-4 0-30-43-42-66-78-133-53-82-21-45-16-20-6-4-4-1-6 8-1 12 2 70 42 205 33 111 3 19zM2404 138l-10 2-10-3-13-10-7-10-2-10 1-15 4-10 6-10 0-5 66 0 0 5 11 15 3 10 0 10-4 10-6 10-7 5zM2261 357l3-4 6-13 5-48-1-21-2-14-2-10-6-2-4 4-6 9-4 18-2 16 2 31 3 24 1 7 6 4zM1694 548l-4 2-6 0-4-2-10-9-50-37-35-35-15-25-16-17-5-8-3-15 6-30-8-45 6-15 4-7 10-7 10-2 10 0 10 5 9 11 36 105 36 80 22 30 2 10-1 5zM1564 759l-4-16-6-24-14-102-6 0 0-82 6 0 10-4 10 2 4 8 1 21 5 50 1 30-1 95-3 15zM1720 588l-6 0-1-1-1-5 2-6 6 1 2 5z"/>
<path fill="#00fd76" d="M1694 248l-4 0-6-3-14-18-6-4-4 0-10 8-6 0-4-2-10-11-9-16-19-50-1-10 4-55 4-20 98 0 7 50 0 55 10 35 1 15-2 10-3 5-8 5zM1844 148l-20-1-14-4-14-11-7-10-3-15 1-15 6-10 10-10 0-5 60 0 0 5 7 10 7 15 2 15-1 10-5 10-9 9-10 5zM2324 827l-14-24-46-86-89-265-5-7-20-4-9-4-4-5-38-80-20-55-27-65-8-11-10-6-20-4-14 1-6 5-1 5-6 25 0 15 2 15 13 60 7 40 1 21-6-1-4-6-24-39-26-66-27-59-22-65-1-10 1-15 11-50 5-15 0-5 147-1 214 1 0 5 10 25 5 20 5 40 0 15-3 15-5 10-20 22-16 18-6 15-5 20-1 20 2 44 6 34 4 17-5 40 2 65 7 40 38 175 28 100 3 15zM2420 132l-16 3-10-1-12-7-9-10-3-10 2-15 6-10 12-10 0-5 36 0 0 5 12 10 6 10 2 15-3 10-9 10zM2514 803l-5-1-35-50-40-64-73-126-51-80-20-45-34-45 0-5 14-29 5-21 4-45-1-50 3-10 9-8 10-1 10 3 14 8 6 0 4-12 0-20 6-7 5 2 5 25 3 35-3 25 0 1-10-21-6-8-4 0-6 6-3 7-1 10 11 40 2 65 3 30 4 20 9 25 51 84 65 131 39 102 6 8 4 0zM1690 549l-6 0-4-3-10-9-48-35-34-35-15-25-13-13-9-12-4-10 0-10 7-20 1-10-6-40 2-10 3-5 10-8 10-3 10 1 9 5 7 9 29 86 20 45 24 50 22 30 3 10-1 5-3 4zM1560 718l-6-21-13-100-1-9-6 0 0-48 6 0 10-4 5 1 5 5 5 65 1 95-2 15zM1720 583l-6 0 0-1 6-1z"/>
<path fill="#00fc5f" d="M1700 244l-6 0-7-2-17-21-10-2-16 6-4-2-7-6-9-15-8-20-9-35 0-15 4-25 0-20 4-15 0-5 85 0 8 50 0 55 2 10 10 24 1 11 0 10-2 5-5 5zM2320 812l-20-31-35-64-66-200-20-65-5-8-4-4-20-1-6-2-5-5-40-85-17-50-20-50-8-22-4-9-10-6-16-5-20-3-10 1-6 4-3 10-1 40 20 105 2 15-2 9-4-3-6-6-17-30-23-59-26-61-23-70 0-10 3-15 16-43 12-17 0-5 128-1 206 1 0 5 10 14 10 25 3 21 2 35-2 10-3 8-26 23-14 21-6 13-5 20-3 35 9 95 0 40 3 55 4 25 41 190 27 97 1 8zM1840 142l-16-1-14-6-10-10-6-13 2-15 6-10 12-9 16-5 14 1 16 7 8 11 4 10 0 15-2 8-6 7-10 7zM2424 127l-14 4-10-1-9-3-7-6-5-9-2-10 3-10 9-10 11-5 10-2 14 4 10 8 5 10 1 10-1 5-6 10zM2344 256l-5-9-1-10 2-14 4-1 3 25zM2504 789l-10-11-10-14-44-71-77-131-50-80-20-45-22-30-5-10 0-15 10-30 5-25 2-35 0-45 3-10 8-8 10-1 10 5 7 4 4 5 1 5-7 20-1 10 7 25 4 20 0 40 4 50 5 20 6 20 53 90 67 133 30 76 11 31 1 5zM1690 547l-6 0-4-3-10-10-46-33-14-17-20-17-16-28-14-12-8-10-4-10 1-10 7-20 2-10-5-40 3-10 8-8 6-2 10-1 10 5 5 6 33 90 26 55 20 40 20 27 2 8-1 5zM1554 642l-13-90 1-5 8-4 5 4 4 55-1 30z"/>
<path fill="#00fc47" d="M1704 239l-10 1-4-1-6-5-10-15-4-3-10-1-16 5-4-2-6-6-9-15-7-20-6-30 5-35-3-25 2-10 2-5 0-5 73 0 0 5 9 22 3 23 1 20-2 40 3 10 9 17 3 13-1 10-2 4zM2310 791l-16-24-27-50-65-200-22-73-6-7-4-3-14 3-6-1-6-2-5-7-37-80-17-50-22-55-5-25-4-6-10-7-20-6-24-5-10 1-6 3-3 5-1 10 1 45 19 87 1 18-1 11-6-3-4-7-10-17-26-66-22-53-23-70 1-13 4-13 22-39 18-20 0-5 110-1 186 1 0 5 20 10 11 15 6 15 3 15 2 30-2 15-6 10-20 15-10 9-10 16-6 15-4 15-3 40 9 95 7 115 45 205 18 65 3 15zM1834 137l-14-3-10-7-8-10-1-10 3-10 6-7 10-6 14-3 16 2 10 7 6 12 1 10-3 10-4 6-10 7zM2424 122l-10 4-10 0-10-3-4-5-5-6-1-10 1-5 5-7 10-7 10-2 10 2 6 4 7 10 2 10-5 10zM2494 773l-14-20-36-55-78-136-52-82-18-43-21-30-5-10 0-15 10-30 4-28 3-77 4-10 9-5 4 0 10 4 6 6 2 5-5 20-1 10 10 40 0 45 6 55 10 35 4 10 49 80 69 137 30 79 2 9zM1690 545l-6 0-4-3-6-6-50-38-13-16-17-13-4-5-14-27-16-12-7-8-3-10 0-10 3-10 6-10 3-10-5-40 5-10 7-5 5-1 7 1 8 5 3 5 33 85 29 60 18 35 22 30 0 7z"/>
<path fill="#00fb2f" d="M1704 234l-10 2-4-3-10-17-6-4-10-2-20 4-4-2-11-15-8-20-4-25 4-35-5-30 1-5 4-10 0-5 50 0 0 5 13 9 6 7 6 19 2 20 0 20-4 35 4 10 12 13 3 12-1 10zM2304 776l-10-14-25-45-65-200-21-75-9-14-4-2-10 7-10 1-6-3-4-8-36-77-16-49-21-55-4-30-3-6-10-7-26-8-30-6-10 1-7 6-2 15 3 50 18 80 1 15-3 9-10-12-4-10-23-62-21-50-21-60-3-15 5-15 31-45 12-10 19-10 0-5 85-1 93 1 0 5 83 10 20 3 10 6 4 4 8 12 5 15 2 15 0 20-2 10-7 10-28 20-12 17-8 18-3 15-3 40 18 215 43 190 17 68 2 12zM1834 132l-10-2-10-6-5-7-1-10 4-10 5-5 7-4 10-2 10 2 10 5 6 9 2 10-4 10-6 5-8 4zM2420 119l-10 3-6-1-10-6-4-8 1-5 5-10 8-4 6-1 10 3 4 4 5 8 0 5-5 8zM2490 760l-10-11-36-55-76-132-53-85-16-40-20-30-5-10 0-15 9-30 4-25 4-80 3-7 6-4 10 1 6 5 2 5-4 30 10 40-1 45 5 50 9 35 9 20 48 79 66 127 24 63 6 16zM1690 543l-7-1-9-9-44-34-16-17-20-15-7-10-8-20-5-5-14-9-6-6-4-10 1-10 3-10 10-15 1-10-3-30 2-10 6-4 4-1 6 0 4 4 6 7 32 79 31 65 20 35 19 25 1 5z"/>
<path fill="#00fb18" d="M1654 208l-10 0-4-3-10-15-7-18-2-20 4-30-1-10-6-25 2-10 4-5 0-5 34 0 0 5 6 8 16 12 4 5 6 15 2 15 0 20-4 20-5 20-5 10-4 3zM2294 755l-14-23-10-20-64-200-19-70-19-55-18-75-6-7-4 0-2 7 1 10 17 65 5 30 0 5-2 5-5 3-4 0-6-4-36-79-38-105-1-30-4-10-11-8-14-6-26-7-24-4-10 1-6 3-3 6-2 10 7 65 15 70 2 10-2 5-1 1-6-6-40-105-28-80 1-10 5-10 15-15 18-25 15-11 10-3 30-5 6-6 0-5 48-1 45 1 0 5 5 5 16 6 100 7 30 4 10 5 10 11 6 22 0 15-2 12-4 9-30 20-10 9-6 8-6 17-5 20-2 40 21 220 53 230 3 20zM1850 122l-10 4-10 0-6-2-4-3-6-8 0-6 2-5 5-5 9-4 10 0 9 4 5 7 2 8-2 5zM2414 115l-4 1-6-2-4-4-2-8 6-7 6-1 4 1 4 2 3 5 0 5-1 4zM1704 228l-4 2-7-3-5-10 0-5 2-5 4-2 6 1 4 3 4 8 0 5zM2480 741l-16-20-20-31-73-128-51-83-18-42-24-40-1-15 10-30 4-25 3-75 1-5 5-6 4-1 6 1 4 6 1 5-3 25 9 40-1 45 5 50 3 15 8 25 7 15 47 75 70 136 20 54zM1690 539l-6 1-10-11-10-5-33-27-17-18-20-14-6-8-8-23-16-8-10-10-3-9 1-10 4-10 12-15 2-10-1-30 2-5 3-2 6 2 10 15 28 65 15 25 15 35 22 40 10 15 10 9 1 6z"/>
<path fill="#00fa06" d="M1650 202l-6-1-8-9-8-20-2-15 3-30-9-40 2-10 4-5 0-5 28 0 0 5 4 5 6 14 16 17 5 14 1 25-3 15-5 15-5 10-9 9-10 6zM2290 738l-10-12-10-22-60-190-34-127-16-72-5-13-5-6-10-4-6 0-4 5-1 5 2 15 20 85 2 15-1 5-2 1-10-16-30-64-12-36-24-61-1-9 0-30-3-9-6-5-24-12-26-8-30-5-10 1-6 3-4 10 0 15 8 65 8 35 1 15-1 3-30-72-29-81-1-10 1-5 9-11 14-10 14-19 6-7 16-9 24-2 10-3 6-4 3-5 2-10 39-1 37 1 0 5 6 10 7 6 10 4 20 4 76 2 34 3 16 6 4 5 6 9 2 16 0 10-2 10-10 10-20 10-15 10-5 7-5 8-9 35-1 35 2 35 22 195 51 221 1 9zM1844 117l-4 3-10-1-6-3-2-4 1-5 3-5 4-2 10 0 4 2 3 5 1 5zM2464 714l-20-29-72-128-52-84-17-41-21-35-2-5 1-10 10-30 2-15 6-85 2-5 3-1 4 1 2 5-2 25 10 40-1 45 5 50 9 35 12 25 47 77 64 124 10 24 4 15zM1670 523l-36-26-18-20-16-9-6-4-6-12-4-14-2-6-18-8-4-3-7-9-1-10 2-10 6-7 13-13 7-24 4 2 10 14 23 48 13 20 13 30 29 55 2 5z"/>
<path fill="#02fa00" d="M1654 197l-4 1-6-1-4-4-6-8-4-13-1-15 2-20 0-10-10-40 2-10 4-5 0-5 25 0 0 5 5 5 7 19 15 21 3 10 1 20-7 25-5 10-7 9zM2284 728l-4-5-6-11-64-204-32-126-14-65-5-15-4-5-5-4-10-4-6 0-4 2-4 6 0 15 18 77 2 13-2 4-10-15-20-41-34-95-6-18 0-32-2-8-4-5-18-11-26-9-30-7-24-1-6 3-2 5-2 10 10 73 1 22-1 5-20-45-27-75-1-10 2-5 6-7 20-12 10-16 10-11 10-5 30-4 10-4 4-6 3-15 37-1 35 1 1 8 4 9 10 9 10 5 26 4 70 1 34 3 16 5 4 6 3 5 3 10 0 10 0 6-5 9-5 5-37 20-6 5-6 10-8 35-2 30 2 35 24 205 47 206 2 14zM1840 114l-6 2-4-3-1-6 5-3 6 2 1 1 1 5zM2460 704l-16-22-67-120-53-85-21-50-19-30-1-15 9-25 4-20 4-49 4-16-1-15 1-5 1 25 5 12 6 28-1 45 5 50 7 30 10 25 53 85 64 125 7 20 1 5zM1664 517l-30-22-16-18-14-7-10-7-6-11-5-20-3-3-16-5-4-4-6-8-2-10 3-10 5-6 16-14 4-7 4-5 6 4 4 7 18 36 20 30 9 25 24 45 2 5z"/>
<path fill="#06fa00" d="M2170 283l-16-2-7-4-7-7-6-1-14 1-10-2-6-3-4-6-9-17-3-10-4-37-2-13-3-5-28-30-9-15-2-10-1-55 48 0 3 19 10 32 4 7 6 5 14 7 7 5 9 15 10 50 1 40 3 4 16 3 4 3 6 5 2 5 0 5-3 5zM1654 149l-4 0-7-7-16-50-1-10 4-5 4-4 6 0 4 1 6 6 2 7 12 50-1 5-3 5zM1580 419l-10 1-6-1-6-7-2-5 1-10 7-9 10-2 6 1 5 5 3 5 1 10-1 5zM1620 465l-6 1-10-2-4-3-6-7-2-12 2-9 6-6 4-2 6 0 10 6 4 6 2 5 1 10-3 9z"/>
<path fill="#94fa00" d="M2134 257l-4 3-6 1-9-4-11-10-6-10-6-20-4-40-27-35-9-15-4-20-3-40 36 0 9 50 8 20 4 5 18 7 4 4 7 9 7 20 4 25-3 40zM1654 143l-4-1-3-5-13-38-3-12 1-5 2-3 6-1 5 4 14 55zM2160 272l-2-5 6 0zM1574 415l-4 1-6-2-5-7 0-5 2-5 3-4 6-2 4 1 6 4 2 6 0 5-2 4zM1614 459l-4 1-6-1-6-7-1-10 3-4 4-4 6-1 4 2 6 7 0 10z"/>
<path fill="#b1fa00" d="M2130 258l-6 0-10-4-10-10-6-12-6-20-2-36-30-40-8-14-6-55 34 0 7 45 8 25 5 6 20 9 5 5 6 10 6 20 4 25-4 35-3 7zM1654 142l-4-3-6-14-11-38 1-6 6-1 3 2 1 4 13 51zM1574 414l-4 1-6-2-4-6 0-5 4-7 6-2 4 1 4 3 2 5 0 5zM1614 457l-4 2-6-1-5-6 0-10 5-6 6-1 3 2 5 5 1 5-1 5z"/>
<path fill="#cefa00" d="M2130 255l-6 1-10-5-10-10-7-14-3-15-2-30-2-10-28-35-8-15-7-55 32 0 6 45 9 29 6 5 20 9 6 7 5 10 6 20 2 20-4 35zM1650 135l-15-48 3-5 2 0 4 12 10 38zM1654 139l-3-2 3-5zM1574 412l-4 1-4-1-4-5-1-5 3-6 6-2 6 3 2 5 0 5zM1610 457l-6-1-3-4-2-5 2-5 3-4 6-1 4 3 3 7-3 8z"/>
<path fill="#ebfa00" d="M2130 253l-6 1-10-5-10-11-5-11-4-15-1-30-2-10-31-40-5-10-7-55 28 0 7 50 9 25 7 6 20 10 4 5 5 9 7 20 2 20-4 30zM1570 412l-6-2-1-8 1-4 6-2 4 2 3 4-1 5zM1610 455l-6-1-3-7 3-7 6-1 4 3 2 5-2 5z"/>
<path fill="#fff300" d="M2130 249l-6 2-10-5-8-9-6-10-4-15-1-30-2-10-9-14-21-26-6-10-7-55 26 0 6 45 8 30 4 6 26 12 8 12 5 15 4 20-2 25zM1574 407l-4 3-6-2 0-7 6-3 5 4zM1610 453l-6-2-1-4 1-3 6-2 3 5z"/>
<path fill="#ffdb00" d="M2124 249l-10-5-10-12-7-20-1-35-2-7-10-16-20-22-5-10-8-55 24 0 6 50 9 30 4 4 20 8 5 3 5 7 4 8 6 20 1 15-4 30-1 3zM1570 408l-3-1-1-5 4-2 2 2-1 5zM1610 448l-2-1 2-1z"/>
<path fill="#ffc300" d="M2080 144l-10-9-9-13-7-35-1-20 20 0 11 70 0 5zM2124 246l-4-1-10-8-6-8-4-12-2-15 0-25-6-20 2-2 10 2 12 5 8 10 6 12 4 18 0 15-4 23z"/>
<path fill="#ffab00" d="M2080 138l-6-1-4-5-7-10-9-44 0-11 18 0 8 60zM2124 242l-4 0-10-8-9-17-2-10 0-30-2-15 3-2 10 1 9 6 5 8 5 12 3 15 0 15-2 18z"/>
<path fill="#ff9300" d="M2074 132l-4-3-6-7-4-23-5-32 16 0 6 55 0 5zM2124 239l-4 1-6-3-4-5-8-15-2-15 1-35 3-4 10 3 6 4 4 9 5 13 2 15 0 10-1 11z"/>
<path fill="#ff7b00" d="M2070 124l-6-10-4-26-3-21 12 0 5 55zM2124 235l-4 2-6-3-4-5-6-12-2-10 0-20 2-15 0-3 3-2 7 2 6 5 4 8 3 10 3 20-2 15z"/>
<path fill="#ff6400" d="M2064 99l-4-24-1-8 7 0 1 30zM2120 234l-6-3-4-5-6-14 0-30 1-5 5-6 4 1 6 5 4 10 4 15 1 10-3 15-2 3z"/>
<path fill="#ff4d00" d="M2120 230l-6-2-4-6-4-10-1-20 5-16 4 0 6 5 5 16 2 10-1 10-2 7z"/>
<path fill="#ff3600" d="M2120 225l-6-1-4-6-3-11 1-20 2-5 4-1 6 5 5 16-1 13z"/>
<path fill="#ff1f00" d="M2120 218l-6 0-4-10 0-12 4-8 6 6 1 8 0 10z"/>
</g>
</g></g>
<rect x="310.4" y="16.9" width="188.7" height="181.4" fill="none" stroke="#15151c" stroke-width="0.8"/>
<path d="M310.4 198.3v3.4" stroke="#111" stroke-width="0.8"/>
<text x="310.4" y="210.8" font-size="7.50" text-anchor="middle" font-weight="normal" fill="#111" >1.44</text>
<path d="M333.9 198.3v3.4" stroke="#111" stroke-width="0.8"/>
<text x="333.9" y="210.8" font-size="7.50" text-anchor="middle" font-weight="normal" fill="#111" >1.46</text>
<path d="M357.5 198.3v3.4" stroke="#111" stroke-width="0.8"/>
<text x="357.5" y="210.8" font-size="7.50" text-anchor="middle" font-weight="normal" fill="#111" >1.48</text>
<path d="M381.0 198.3v3.4" stroke="#111" stroke-width="0.8"/>
<text x="381.0" y="210.8" font-size="7.50" text-anchor="middle" font-weight="normal" fill="#111" >1.50</text>
<path d="M404.6 198.3v3.4" stroke="#111" stroke-width="0.8"/>
<text x="404.6" y="210.8" font-size="7.50" text-anchor="middle" font-weight="normal" fill="#111" >1.52</text>
<path d="M428.1 198.3v3.4" stroke="#111" stroke-width="0.8"/>
<text x="428.1" y="210.8" font-size="7.50" text-anchor="middle" font-weight="normal" fill="#111" >1.54</text>
<path d="M451.7 198.3v3.4" stroke="#111" stroke-width="0.8"/>
<text x="451.7" y="210.8" font-size="7.50" text-anchor="middle" font-weight="normal" fill="#111" >1.56</text>
<path d="M475.2 198.3v3.4" stroke="#111" stroke-width="0.8"/>
<text x="475.2" y="210.8" font-size="7.50" text-anchor="middle" font-weight="normal" fill="#111" >1.58</text>
<path d="M498.8 198.3v3.4" stroke="#111" stroke-width="0.8"/>
<text x="498.8" y="210.8" font-size="7.50" text-anchor="middle" font-weight="normal" fill="#111" >1.60</text>
<path d="M322.2 198.3v2" stroke="#111" stroke-width="0.7"/>
<path d="M345.8 198.3v2" stroke="#111" stroke-width="0.7"/>
<path d="M369.3 198.3v2" stroke="#111" stroke-width="0.7"/>
<path d="M392.8 198.3v2" stroke="#111" stroke-width="0.7"/>
<path d="M416.4 198.3v2" stroke="#111" stroke-width="0.7"/>
<path d="M439.9 198.3v2" stroke="#111" stroke-width="0.7"/>
<path d="M463.5 198.3v2" stroke="#111" stroke-width="0.7"/>
<path d="M487.1 198.3v2" stroke="#111" stroke-width="0.7"/>
<path d="M310.4 198.3h-3.4" stroke="#111" stroke-width="0.8"/>
<text x="304.8" y="200.8" font-size="7.50" text-anchor="end" font-weight="normal" fill="#111" >0.00</text>
<path d="M310.4 175.3h-3.4" stroke="#111" stroke-width="0.8"/>
<text x="304.8" y="177.8" font-size="7.50" text-anchor="end" font-weight="normal" fill="#111" >0.03</text>
<path d="M310.4 152.3h-3.4" stroke="#111" stroke-width="0.8"/>
<text x="304.8" y="154.8" font-size="7.50" text-anchor="end" font-weight="normal" fill="#111" >0.06</text>
<path d="M310.4 129.3h-3.4" stroke="#111" stroke-width="0.8"/>
<text x="304.8" y="131.8" font-size="7.50" text-anchor="end" font-weight="normal" fill="#111" >0.09</text>
<path d="M310.4 106.3h-3.4" stroke="#111" stroke-width="0.8"/>
<text x="304.8" y="108.8" font-size="7.50" text-anchor="end" font-weight="normal" fill="#111" >0.12</text>
<path d="M310.4 83.3h-3.4" stroke="#111" stroke-width="0.8"/>
<text x="304.8" y="85.8" font-size="7.50" text-anchor="end" font-weight="normal" fill="#111" >0.15</text>
<path d="M310.4 60.3h-3.4" stroke="#111" stroke-width="0.8"/>
<text x="304.8" y="62.8" font-size="7.50" text-anchor="end" font-weight="normal" fill="#111" >0.18</text>
<path d="M310.4 37.3h-3.4" stroke="#111" stroke-width="0.8"/>
<text x="304.8" y="39.8" font-size="7.50" text-anchor="end" font-weight="normal" fill="#111" >0.21</text>
<path d="M310.4 186.8h-2" stroke="#111" stroke-width="0.7"/>
<path d="M310.4 163.8h-2" stroke="#111" stroke-width="0.7"/>
<path d="M310.4 140.8h-2" stroke="#111" stroke-width="0.7"/>
<path d="M310.4 117.8h-2" stroke="#111" stroke-width="0.7"/>
<path d="M310.4 94.8h-2" stroke="#111" stroke-width="0.7"/>
<path d="M310.4 71.8h-2" stroke="#111" stroke-width="0.7"/>
<path d="M310.4 48.8h-2" stroke="#111" stroke-width="0.7"/>
<path d="M310.4 25.8h-2" stroke="#111" stroke-width="0.7"/>
<text x="400.6" y="219.5" font-size="9.40" text-anchor="middle" font-weight="normal" fill="#111" >Wavelength (µm)</text>
<text x="288.5" y="107.6" font-size="9.30" text-anchor="middle" font-weight="normal" fill="#111" transform="rotate(-90 288.5 107.6)">Hole depth (µm)</text>
<text x="493.1" y="11.0" font-size="9.40" text-anchor="start" font-weight="normal" fill="#111" >Absorptivity</text>
<text x="412.3" y="233.7" font-size="12.00" text-anchor="middle" font-weight="bold" fill="#111" >(b)</text>
<linearGradient id="g2" x1="0" y1="1" x2="0" y2="0">
<stop offset="0.000" stop-color="#0600ff"/>
<stop offset="0.120" stop-color="#007dff"/>
<stop offset="0.240" stop-color="#00ffff"/>
<stop offset="0.360" stop-color="#00fd82"/>
<stop offset="0.470" stop-color="#00fa00"/>
<stop offset="0.645" stop-color="#08fa00"/>
<stop offset="0.655" stop-color="#91fa00"/>
<stop offset="0.750" stop-color="#fffa00"/>
<stop offset="0.870" stop-color="#ff8700"/>
<stop offset="1.000" stop-color="#ff0f00"/>
</linearGradient>
<rect x="507.2" y="16.7" width="11.0" height="181.6" fill="url(#g2)"/>
<path d="M518.2 16.7V198.3M507.2 16.7V198.3" stroke="#555" stroke-width="0.5" fill="none"/>
<path d="M518.2 16.7h3" stroke="#222" stroke-width="0.7"/>
<text x="523.4" y="18.8" font-size="6.10" text-anchor="start" font-weight="normal" fill="#111" >0.3780</text>
<path d="M518.2 34.9h3" stroke="#222" stroke-width="0.7"/>
<text x="523.4" y="37.0" font-size="6.10" text-anchor="start" font-weight="normal" fill="#111" >0.3428</text>
<path d="M518.2 53.0h3" stroke="#222" stroke-width="0.7"/>
<text x="523.4" y="55.1" font-size="6.10" text-anchor="start" font-weight="normal" fill="#111" >0.3076</text>
<path d="M518.2 71.2h3" stroke="#222" stroke-width="0.7"/>
<text x="523.4" y="73.3" font-size="6.10" text-anchor="start" font-weight="normal" fill="#111" >0.2724</text>
<path d="M518.2 89.3h3" stroke="#222" stroke-width="0.7"/>
<text x="523.4" y="91.4" font-size="6.10" text-anchor="start" font-weight="normal" fill="#111" >0.2372</text>
<path d="M518.2 107.5h3" stroke="#222" stroke-width="0.7"/>
<text x="523.4" y="109.6" font-size="6.10" text-anchor="start" font-weight="normal" fill="#111" >0.2020</text>
<path d="M518.2 125.7h3" stroke="#222" stroke-width="0.7"/>
<text x="523.4" y="127.8" font-size="6.10" text-anchor="start" font-weight="normal" fill="#111" >0.1668</text>
<path d="M518.2 143.8h3" stroke="#222" stroke-width="0.7"/>
<text x="523.4" y="145.9" font-size="6.10" text-anchor="start" font-weight="normal" fill="#111" >0.1316</text>
<path d="M518.2 162.0h3" stroke="#222" stroke-width="0.7"/>
<text x="523.4" y="164.1" font-size="6.10" text-anchor="start" font-weight="normal" fill="#111" >0.09640</text>
<path d="M518.2 180.1h3" stroke="#222" stroke-width="0.7"/>
<text x="523.4" y="182.2" font-size="6.10" text-anchor="start" font-weight="normal" fill="#111" >0.06120</text>
<path d="M518.2 198.3h3" stroke="#222" stroke-width="0.7"/>
<text x="523.4" y="200.4" font-size="6.10" text-anchor="start" font-weight="normal" fill="#111" >0.02600</text>
<g clip-path="url(#cc)"><g filter="url(#bl)">
<rect x="28.0" y="250.1" width="193.3" height="186.1" fill="#0606ff"/>
<g transform="scale(0.2)">
<path fill="#0513ff" d="M1108 2183l-970 1-2-1-1-90 2-80 0-765 111-1 860 1 1 450z"/>
<path fill="#041fff" d="M1108 2183l-96 0 0-5 5-5 34-25 19-20 5-10 4-10 1-10-2-8-6 0-10 6-14 4-16-4-10-7-4 1-3 13-4 10-9 11-10 7-14 0-10-5-8-8-5-10-3-15 1-20 4-10 11-17 10-5 10 0 20 12 3-25-3-5-6-1-21 6-43 20-56 34-18 16-3 5 2 5 15 15 4 3 9-28 7-10 10-7 10-1 10 4 13 14 6 10 2 10 0 15-4 15-5 10-8 8-10 5-4 0-6 0-10-4-10-9-4 8-2 17-748 1-2-1-1-90 2-80 0-765 115-1 856 1 1 450z"/>
<path fill="#042cff" d="M772 2183l-634 1-2-1-1-90 2-80-1-715 2-51 970 1 1 450-1 286-6 0-20-12-10-4-4 0-20 4-10 0-16-4-14 1-16 7-20 20-10 4-20-1-14 7-10 11-10 21-10 8-10 1-20-5-6 2-10 8-4 9-7 17-7 10-12 5-20 0-7 5-11 15-8 15-4 15-1 15 2 20zM1048 2090l-10-2-10-7-8-13-2-10 1-15 7-15 6-7 10-4 10 2 10 7 7 12 2 10 0 15-7 15-6 7zM988 2123l-10-1-10-7-7-12-2-10 1-15 3-10 9-10 10-4 10 2 9 7 6 10 3 10 0 10-5 15-7 10zM928 2159l-10 3-10-3-8-6-7-15-1-15 4-15 6-9 10-6 6-1 10 3 8 8 5 10 2 15-3 15-6 10zM872 2183l-42 0-3-25 2-15 5-10 8-9 10-3 10 2 7 5 7 10 4 10 0 15-3 20zM1108 2183l-18 0 0-5 8-8 4-3 6 0z"/>
<path fill="#0338ff" d="M722 2183l-584 1-2-1-1-90 2-80-1-715 2-51 970 1 1 450-1 234-26-4-10 1-4 6-10 18-6 5-10 3-10-5-10-14-4-5-6-1-10 3-10 5-4 5-15 34-5 5-6 2-10-3-14-14-6 0-4 2-6 3-4 7-14 43-2 5-8 5-6 0-6-3-10-17-4-5-6 0-4 2-6 5-4 8-13 45-3 5-4 5-6 1-5-1-6-5-9-15-4-5-6 1-23 19-18 20-13 20-7 15-5 20 0 30zM1048 2085l-10-1-8-6-6-10-2-10 1-15 5-10 4-6 10-4 10 2 6 4 6 9 3 10-1 15-4 10-4 6zM988 2119l-10-1-7-5-7-10-2-10 0-10 3-10 7-10 10-4 10 2 6 4 5 8 3 10-1 15-4 10-9 9zM928 2154l-10 3-10-3-7-6-4-10-2-15 3-10 6-10 8-6 6-1 10 4 7 8 4 10 1 10-2 10-5 10zM872 2183l-37 0-4-20 0-10 5-15 6-7 6-3 4-2 10 3 6 4 6 10 3 15z"/>
<path fill="#0345ff" d="M682 2183l-545 0-2-90 2-80-1-715 2-51 970 1 1 450-1 196-30 0-6 1-4 3-12 40-4 8-4 6-6 1-6-5-14-32-4-6-6 0-14 8-10 8-6 8-12 39-2 5-6 3-4-1-3-2-13-24-4-2-5 1-11 5-12 10-1 20-6 25-5 14-6 3-4-2-4-5-12-27-4-2-11 4-9 7-6 7-11 51-3 9-6 3-4-2-3-5-7-21-6-8-4-1-10 5-41 30-42 40-9 15-6 15-4 20 0 20zM1052 2079l-4 3-10-2-9-7-4-10-1-15 4-10 4-6 10-6 10 3 5 4 4 5 3 10 0 10-2 10-4 7zM992 2113l-4 3-10-2-8-6-5-10 0-15 3-10 4-6 10-5 10 2 4 4 4 5 3 10 1 10-3 10zM922 2153l-4 1-10-4-7-7-3-10 1-15 3-9 6-5 10-4 4 1 9 7 3 5 3 10 0 10-4 10-5 7zM868 2183l-29 0 0-5-5-15 0-10 6-15 8-7 10-1 4 2 9 11 3 10 0 10-4 15 0 5z"/>
<path fill="#0251ff" d="M642 2183l-505 0-2-90 2-75-1-720 2-51 970 1 0 612-30 2-20 5-20 11-45 30-11 10-4 11-10 32-6 7-4-3-10-20-6-3-10 1-25 15-6 5-2 5 4 10 1 10-6 24-6 6-4-4-10-26-6-5-10 3-18 12-5 5-3 5-1 15-3 15-4 16-6 6-4-5-10-24-6-3-10 4-20 15-24 16-26 23-25 17-37 40-7 10-5 10-2 20zM1048 1939l-6 2-4-6-8-22 1-10 1-4 6-4 4-1 6 0 4 4 5 10-2 15zM1048 2079l-6 0-4-2-6-4-3-5-3-10 0-10 4-10 8-7 4-2 6 1 5 3 5 5 4 10 0 10-3 10-7 8zM982 2113l-4-1-9-9-3-15 4-15 8-7 4-1 6 0 4 3 5 5 3 5 2 10-1 10-3 7-6 5zM922 2150l-10 0-4-3-7-9-2-10 2-10 5-10 6-4 6-1 4 1 7 4 3 5 3 10-2 15-5 9zM862 2183l-20 0 0-5-6-15 0-10 3-10 9-9 4-1 6 0 7 5 4 5 3 10 0 10-5 15 0 5z"/>
<path fill="#025eff" d="M602 2183l-465 0-1-90 1-80 0-765 552 0 0 5-5 5-40 35-16 18-13 17-16 30-5 15-2 15 1 10 5 7 4-2 8-10 8-6 14-7 16 2 20 11 1-15 3-10 2-5 8-9 6-2 10-2 4 1 10 5 7 7 5 15-2 15-6 10-8 7-10 3-10-2-16-8-2 25-9 25 3 5 18 3 10-2 20-13 16-4 14 1 26 8 14-2 40-13 52-23 38-24 26-12 30-22 19-12 11-8 33-32 12-15 16-25 3-10 0-5 46 0 0 575-10 1-10 3-20 11-84 70-8 10-8 26-6 7-4-3-10-13-6-1-4 2-40 22-16 14-14 6-17 10-19 15-3 5 1 20-2 8-6 6-4-5-8-14-2-2-6 1-4 2-30 22-21 12-29 26-24 14-22 24-21 16-23 24-25 16zM758 1373l-10-1-10-6-6-8-3-10 1-10 5-10 7-8 10-3 10 2 7 4 8 10 2 10-1 10-4 10-6 7zM1048 1925l-6 2-5-9-1-10 6-6 6 1 3 5 1 5zM892 2003l-4-4-4-11 0-5 4-8 4 1 6 7 0 13zM1052 2074l-4 2-6 1-4-2-6-5-3-7-1-10 2-10 8-9 4-2 6 0 4 3 6 6 2 7-1 15zM988 2111l-6 0-6-3-4-5-4-10 2-15 8-9 4-2 6 0 7 6 3 5 2 10-1 10-3 5-4 5zM918 2149l-6-1-6-5-2-5-3-10 4-15 7-7 6-1 4 1 8 7 4 15-3 10-2 5-7 5zM862 2183l-17 0 0-5-7-15 0-10 4-10 6-6 4-2 6 0 4 3 6 6 3 9-1 10-6 15 0 5z"/>
<path fill="#016aff" d="M512 2183l-375 0-1-90 1-80 0-765 441 0-1 15-6 15-23 35-5 10-8 40-16 45-12 25-3 10 1 5 3 2 14 4 10 5 13 14 2 10 0 10-3 10-8 20 0 5 3 5 9 9 10 5 4-1 20-21 16-5 14 4 20 15 6 1 3-2 3-5 1-20 4-10 9-9 10-4 10 1 4 3 10 9 6 16 4 5 6-1 10-5 5-5-1-5-5-5-7-10-2-10 2-10 2-5 6-6 4-3 10-1 12 5 4 5 4 10 0 20 6 1 4-1 63-35 33-23 24-12 30-23 36-17 24-18 27-12 8-5 21-18 10-5 14-5 26-4 10 1 14 5 6 0 0 465-6 0-10 8-67 68-47 40-8 10-3 10-5 8-4-1-10-6-10 2-31 17-55 35-26 20-8 14-6-2-4 0-10 4-26 20-30 18-24 23-23 13-23 24-23 16-27 24-10 4-20 1-24 6-10-1-16-8-4 1-15 8-5 5-1 10zM758 1363l-10-2-6-4-3-9 1-10 2-5 6-4 4-2 10 2 6 5 3 9 0 5-3 8-6 5zM702 1399l-4 1-8-2-6-5-3-5-1-5 1-10 7-9 4-2 10 0 6 3 5 8 1 10-1 5-5 8zM648 1435l-6 2-10-1-4-4-6-9-1-10 1-5 6-9 4-3 10-2 6 2 4 4 5 8 1 5-1 10-5 8zM588 1480l-10 2-10-4-7-5-5-10 0-10 4-10 8-9 4-2 10-1 6 2 6 5 6 10 1 10-2 10-7 8zM663 2038l6-5 1-5-2-7-6-6-3 8-1 10 3 5zM822 2024l-2-6 2-1zM1048 2074l-6 1-4-2-6-6-3-9 1-10 2-5 6-7 4-2 6 1 5 3 3 5 3 10-2 10-2 5zM613 2083l5-7 1-8-1-10-6-10-4 5-5 25 0 5 5 5zM988 2108l-6 1-4-2-6-6-2-8 0-10 2-5 6-7 4-2 6 1 5 3 3 5 3 10-2 10-3 5zM922 2146l-4 1-6-1-4-5-4-8-1-10 4-10 5-5 6-1 4 1 6 5 4 10-1 10-1 5zM858 2183l-10 0 0-5-8-15 1-15 7-8 4-3 6 1 4 3 7 12 0 10-2 5-6 10 0 5z"/>
<path fill="#0077ff" d="M388 2183l-251 0-1-90 1-80 0-765 429 0-1 15-3 10-25 40-11 50-16 40-48 70-5 10-3 10 1 10 5 15 10 20 12 20 9 10 17 14 10 6 10 4 14-1 26-8 10-5 5-5 1-5-2-15 2-10 4-5 8-5 6-1 6 2 4 4 10 15 6 3 10 0 11-3 20-10 3-5-4-2-9-8-4-10 3-10 4-6 6-2 4 0 6 2 5 6 2 10-5 15 2 5 10-1 14-4 32-17 29-13 35-22 25-13 31-22 24-13 30-22 36-17 24-19 36-17 20-17 10-6 14-4 26-5 10 2 14 6 6 0 0 50-6 0-4 6-6 8-7 20 0 5 3 2 20 1 0 352-6 0-4 4-74 81-51 45-11 13-4 2-16 2-15 8-80 50-29 22-23 13-27 22-26 13-24 24-26 14-24 26-25 16-15 14-10 7-10 2-16-1-14 4-10 1-10-3-5-4-9-15-3-10 3-10 6-10 18-15 2-5-12-88-6-9-6 2-4 5-6 125-1 10-7 12-6 1-4-1-6-6-1-6-13-105-2-5-4-3-8 3-3 5 0 25-5 80-2 15-6 9-6 2-4-1-5-5-3-5-5-30-6-60-1-6-6-2-17 8-88 50-15 10-5 5 8 5 37 3 10 3 10 5 9 9 5 10 2 10zM758 1355l-6 0-6-7 2-8 4-5 6 0 3 3 3 5-2 7zM702 1389l-4 2-6-1-4-7 0-5 4-7 6-2 7 4 2 5 0 5zM648 1424l-6 3-4 0-7-4-2-10 3-7 6-3 4 0 6 4 3 6-1 5zM582 1470l-4 0-6-2-4-5-1-5 1-10 4-5 6-2 4 0 6 3 4 9-1 10-3 4zM522 1504l-10 0-4-4-5-7-1-5 1-10 3-5 6-5 6-1 10 3 4 5 3 8 0 5-3 8-4 6zM738 1493l-6 3-4-1-6-2-3-5-2-10 2-5 3-4 6-2 4 0 6 2 4 8 0 8zM790 1918l2-3 2-7-2-27-3-13-1-25-6-3-2 3 0 5 6 15-1 50 3 8zM728 1988l5-10 2-15-7-63-6-11-4 89 1 10 3 4zM663 2048l8-5 4-5 3-5 1-5-8-25-9-67-4-9-6 1-7 5-2 5 11 15 2 10-8 80 4 6zM605 2103l7-6 10-14 5-10 2-10-17-95-4-10-7 5 1 25-10 105 0 6 6 6zM1052 2069l-4 3-6 0-4-2-6-7-1-5 1-10 6-9 4-3 6 1 4 3 5 8 0 10zM988 2106l-6 1-4-2-5-7-2-5 1-10 2-5 4-5 4-2 6 1 4 3 4 8 1 5-2 10-3 5zM922 2144l-4 1-6-2-5-5-3-10 4-12 4-6 6-1 7 4 5 10 0 10-2 5zM852 2183l0-5-4-4-5-6-2-10 2-10 5-6 4-3 6 1 4 3 4 5 2 10-3 10-3 5-4 5-5 0z"/>
<path fill="#0084ff" d="M378 2183l-241 0-1-90 1-80 0-765 238 0 3 24 13 51 7 9 10 3 10-3 7-9 3-6 3-24 4-15 5-10 13-15 0-5 108 0-2 15-3 10-25 40-7 40-9 25-9 20-9 15-33 40-32 35-7 15-1 5 2 10 18 50 6 10 12 13 16 12 10 5 14 4 10 0 16-4 24-13 31-12 11-10 3-5 0-5-5-10 1-5 5-5 4 0 6 5 2 10 8 4 10 0 14-2 63-22 33-18 27-12 37-24 30-16 30-22 26-13 30-22 28-13 32-23 27-12 23-18 10-6 10-4 30-5 10 1 14 8 6 0 0 39-6 0-4 5-20 32-10 10-11 8 0 5 15 7 36-3 0 328-6 0-4 4-78 89-52 47-10 7-20 8-41 23-99 65-30 24-26 13-24 24-26 13-4 5-20 23-24 13-26 22-10 2-16-2-20 6-10-2-4-3-7-8-3-10 1-10 4-10 5-5 10-6 10-3 4 2 10 12 6 1 4-2 10-8 10-13 16-31 4-4 16-2 10-3 4-4 8-9 3-10-7-20-8-81-6-10-4 1-12 5-57 35-2 5 8 15 0 15-6 60-1 12-6 13-4-6-6-21-10-70-4-4-6 1-18 10-4 5 5 20-1 30-6 60-6 17-4-6-6-24-9-77-5-4-13 4-8 5-5 5-1 5 3 10 1 10-3 45-4 34-6 9-4-5-6-21-8-62-2-5-4-2-18 7-97 55-25 15-11 10 3 5 2 1 60 5 16 6 8 8 4 10 1 20zM522 1491l-4 1-4-4 0-5 4-4 4 1 3 3 0 5zM672 1520l-4 0-2-2 2-6 5 1zM963 1778l11-10 2-5-1-5-7-1-14 6-11 10-1 5 10 3zM915 1833l9-10 5-10 3-25-1-5-9-1-10 3-4 4-6 8-3 21 2 15 1 4 6 0zM850 1868l3-5 0-15-1-8-4-15-5 13-1 23 3 7 3 3zM788 1933l4-4 6-10 1-16-6-65-2-5-3-3-10 5-7 8 8 25 2 60 1 5zM726 1998l10-15 3-15-7-78-1-7-3-7-6 0-4 5-3 7 0 10-1 90 4 13 4 0zM638 2039l-6-5-4-17-8-49 0-10 2-5 6-6 4-2 10 4 4 4 3 10-4 50-3 14zM1048 2070l-6 1-4-3-6-10 1-10 5-7 4-3 6 1 4 4 4 10-2 10zM988 2104l-6 1-4-3-5-9 0-10 3-5 6-5 6 1 4 4 4 10-2 10zM922 2141l-4 2-6-2-4-6-2-7 2-10 4-5 6-2 5 2 4 5 2 5-1 10zM858 2175l-6 0-4-4-5-8 0-10 2-5 3-4 4-3 6 1 4 4 4 7 0 10-4 7z"/>
<path fill="#0091ff" d="M372 2183l-235 0-1-90 1-80 0-765 221 0-1 15-7 30 1 15 11 41 6 7 10 2 20-5 14-6 10-6 6-6 6-12 5-40 8-15 13-15 0-5 96 0-1 15-4 10-23 38-9 47-7 20-10 20-10 13-34 42-39 35-8 10-5 10 1 10 12 20 4 10 3 20-4 25-14 35-1 10 5 10 10 3 19-3 41-21 40-11 30-16 29-12 27-18 40-8 64-24 30-18 28-12 32-21 27-14 29-21 34-19 26-20 32-15 22-17 36-17 30-23 14-5 26-4 10 2 14 9 6 0 0 30-6 0-4 5-26 37-14 10-21 8-19 20-10 7-31 13-10 10-2 5 3 1 14-1 16 3 4-2 16-26 10-8 10-4 10-1 20 6 10 2 30-4 0 310-6 0-4 4-77 90-53 49-16 8-16 8-43 25-99 65-26 22-26 13-26 25-28 15-20 24-26 14-24 20-10 2-16-4-14 7-10 1-6-2-7-7-3-10 1-10 5-10 4-4 10-3 6 1 4 3 10 10 6 1 4-3 10-9 10-12 13-24 7-10 6-3 20-6 4-2 9-9 6-10 1-5-7-15-2-10-9-80-2-9-6-2-14 6-60 35-13 10-3 4-10 2-10 4-19 10-12 10 1 5 7 10 2 10-3 39-6 23-5-7-5-27-4-43-6-1-4 1-21 10-13 10-1 5 6 10 1 10-2 33-6 20-4-6-10-57-6-4-10 4-10 5-115 65-24 15-6 5-3 5 4 4 4 1 66 5 14 4 8 6 5 10 1 20zM934 1533l4-5 2-10 8-15 0-1-10 1-12 5-6 5-8 10 6 5 11 5zM908 1843l15-10 25-29 20-16 13-15 7-10 6-15 2-10-3-5-49 20-42 25-3 10-2 10-1 35 2 8 2 2 2 1zM850 1878l2-2 4-8 2-20-6-28-4-13-6-3-5 4 2 15 0 40 3 15 6 1zM790 1938l8-9 2-6 3-10 0-10-6-65-5-12-4 0-13 7-6 5-2 5 1 5 6 10 2 10 2 67 4 7zM719 2008l9-6 9-14 4-10 1-10-7-85-3-10-4-3-8 3-5 5-3 10-1 105 1 11 4 4zM638 2010l-6-4-7-38 1-10 6-6 7 1 4 5 2 5-3 29zM582 2043l-4-5-7-35-2-20 1-10 2-4 6-1 4 2 6 4 2 9-2 39zM1042 2069l-6-6-2-10 4-10 4-3 6 1 2 2 3 5 1 5-2 10-4 5zM988 2102l-6 1-4-3-4-7 1-10 3-5 4-3 6 1 2 2 3 5 1 5-2 9zM922 2139l-4 2-6-2-4-10 0-6 2-5 2-3 6-2 4 2 5 8 0 10zM858 2172l-6 0-4-3-3-6 0-10 3-6 4-4 6 1 4 4 2 5 0 10z"/>
<path fill="#009eff" d="M368 2183l-231 0-1-90 1-80 0-765 213 0-1 10-3 10-18 30-5 15 2 15 12 40 5 9 10 2 10-1 16-6 40-21 10-7 10-19 3-32 4-15 6-10 15-15 0-5 87 0-1 10-3 10-21 36-4 9-7 45-6 15-10 20-10 15-34 40-15 14-21 16-11 10-12 15-5 10 0 5 19 25 4 15 0 10-2 10-5 10-17 27-5 18 0 10 4 10 7 8 10 3 14-1 21-5 10-5 29-19 46-16 30-18 28-12 26-16 42-9 62-25 22-13 37-17 33-22 24-13 30-22 26-13 30-23 30-14 30-21 27-12 27-22 10-5 26-5 14-1 10 4 10 9 6 0 0 20-6 0-10 13-13 22-11 13-10 6-18 6-8 4-24 24-29 12-7 5-20 18-32 17-11 10-7 10 6 4 10 3 14 8 6 2 4-2 4-25 6-10 6-6 10-6 10-2 10 1 14 5 6-2 4-15 5-10 11-12 10-4 14 0 26 9 30-3 0 296-6 0-4 4-80 95-46 42-14 10-26 12-42 26-98 63-24 22-30 15-26 25-24 12-20 25-10 6-17 7-23 19-10 2-10-5-6-1-14 10-10 1-6-2-6-9-2-5 1-10 7-10 10-3 6 1 4 4 10 12 6 1 10-8 14-17 13-25 7-11 10-6 20-6 8-7 10-15 2-5-1-5-7-10-2-10-9-85-5-10-6 0-11 5-143 82-37 18-19 14-17 6-18 10-124 70-16 10-11 10-1 5 13 4 64 4 16 3 7 4 6 10 1 20zM871 1558l6-10-5-3-6 3-3 5 3 5zM905 1848l10-5 13-10 54-54 12-16 24-40 2-10-2-3-10-2-10 4-26 20-30 13-24 17-20 9-3 2-3 40 0 23 2 7 3 5zM850 1883l8-10 3-10 0-10-3-25-6-21-4-9-6-2-7 2-5 5 6 20 2 55 4 7zM789 1943l12-15 4-10 1-10-8-80-2-5-4-2-4 1-11 6-11 10-3 5 1 5 7 10 2 10 1 60 2 15 2 3 4 2zM719 2013l9-7 4-7 10-16 2-10 0-15-6-77-2-8-4-6-8 1-8 5-5 5-2 10-1 110 4 15 6 1zM638 1980l-6-1-2-11 2-9 6 0 1 4zM582 2007l-4-2-3-12-1-10 4-6 4 0 3 6zM522 2039l-4-3-3-13-1-10 4-7 4 1 3 6zM462 2064l-4-2-2-9-1-10 3-7 4 2 3 5zM1048 2066l-6 0-4-3-2-5 1-10 5-6 6 1 4 5 1 5-1 5zM988 2100l-6 1-3-3-3-5 0-10 6-6 6 1 4 9 0 6zM918 2139l-6-2-3-9 3-10 6-3 5 3 3 10-4 9zM858 2169l-6 1-6-7 0-10 6-7 6 0 5 7 0 10z"/>
<path fill="#00aaff" d="M368 2183l-231 0-1-90 1-80 0-765 206 0-1 10-4 11-7 9-24 25-6 10-3 10 2 15 15 50 7 8 10 2 18-5 22-10 26-16 24-14 7-5 9-14 2-6 4-35 2-10 9-15 15-15 0-5 80 0-1 10-3 10-24 41-8 49-8 20-8 16-46 54-14 14-30 21-23 25-6 10 3 5 10 7 10 10 5 8 3 10-1 10-3 10-28 40-4 10-2 10 1 15 5 10 10 9 10 2 10-1 34-10 10-4 36-24 36-12 28-18 30-13 30-18 40-9 59-22 31-18 36-17 24-17 33-18 27-20 28-15 28-21 30-14 30-21 30-14 30-23 14-5 26-3 10 2 6 4 5 5 3 8 6 0 0 4-6 0-3 8-19 30-12 15-10 7-23 8-33 28-27 12-27 23-26 12-6 5-28 29-20 6-6 5-3 5 0 5 3 3 6 3 4 0 16-24 4-4 10 0 16 3 20 14 4 2 4-2 2-5 0-25 4-10 6-6 10-7 10-2 10 1 20 9 4-5 3-20 5-10 8-8 10-5 14 0 30 14 26-3 0 284-6 0-4 4-80 96-50 47-31 16-50 30-25 17-70 44-24 22-30 14-26 26-24 11-16 21-10 9-24 10-24 16-7 0-3-5 2-5 17-20 17-35 8-7 24-8 6-3 19-27 0-5-9-10-2-5-11-90-3-9-4-4-10 2-11 6-75 43-151 82-88 50-60 35-13 10-3 5 3 5 8 2 80 4 10 3 7 6 3 5 1 5 0 15zM324 1713l9-5 11-10 3-5 0-5-5-3-10-1-10 4-6 5-4 6-1 9 2 5 5 2zM912 1848l21-15 27-25 27-30 42-60 5-10-3-5-19-3-10 1-10 7-20 17-30 14-24 17-10 5-16 1-14-3-3 4 7 4 5 6 4 10-1 50 2 15 6 5 4-1zM254 1748l4-6-9 1-6 5 5 4zM848 1888l10-8 3-7 3-10-1-10-5-35-6-20-4-8-6 0-15 8-4 5 6 10 4 10 1 45 2 15 3 5 3 1zM788 1948l14-17 4-8 2-10-1-25-7-65-2-6-6 0-10 6-14 10-9 10 1 5 8 10 3 10 1 75 6 10 4-1zM719 2018l9-8 4-7 12-20 3-10 0-15-8-80-1-10-6-5-10 3-10 7-5 10-1 130 2 6 4 1zM1048 2063l-6 1-5-6 1-8 4-5 6 1 3 7 0 5zM982 2099l-4-6-1-5 2-5 3-3 6 1 3 7-1 5-2 4zM578 2145l-10 1-6-3-4-8 0-12 4-7 6-3 4 0 6 2 4 4 6 9 0 5-2 5zM922 2134l-4 3-6-4-1-10 1-3 6-3 4 3 2 3 0 5zM858 2167l-6 0-4-7 0-7 4-5 6 0 3 5 1 5z"/>
<path fill="#00b8ff" d="M362 2183l-225 0-1-90 1-75 1-206 4 0 6-4 5-5 3-10-2-10-6-10-6-6-4 0-1-519 201 0-1 10-5 10-10 10-34 30-10 15-3 10 1 10 16 57 6 8 14 4 20-4 30-14 40-26 26-15 10-12 4-12 4-36 5-15 7-9 16-16 0-5 73 0-1 10-3 10-22 40-3 15-3 25-4 15-7 15-9 15-47 57-36 24-24 25-29 24 1 5 22 5 10 5 6 5 5 10 0 15-4 10-21 27-12 18-7 15-6 25-7 5-18 7-10 6-12 12-4 10-1 10 1 5 6 4 4 0 10-3 50-33 26-4 53-19 37-25 40-14 30-19 27-12 27-17 40-9 63-24 27-16 36-17 30-20 30-17 24-19 30-16 26-19 33-16 21-17 10-5 26-11 30-23 14-6 20-2 10 0 10 5 7 9 0 10-20 35-11 13-10 7-26 9-24 24-10 6-26 10-24 22-29 14-31 28-16 7-10 6-6 9-1 5 5 5 12 6 6-5 4-11 6-8 10-6 10 0 10 2 4 3 16 16 4 4 6 0 6-6 0-5-4-25 3-10 5-8 10-7 4-2 10-1 10 4 20 13 6-4-2-20 4-15 8-9 10-6 10-1 10 3 24 16 26-3 0 274-6 0-4 4-81 97-47 45-12 8-25 12-41 25-30 21-64 40-10 7-20 18-31 14-25 25-24 11-6 5-12 19-12 9-20 6-16 6-2-1 16-40 6-10 10-7 20-4 6-3 20-26 4-5 20-8 10-13 12-19 4-10 1-20-8-80-3-17-6-1-10 4-12 9-4 5-1 10-3 115 0 5-4 7-6-1-5-11-9-83-3-12-4-5-9 0-236 130-124 70-33 20-14 10-5 5 0 5 12 5 90 5 9 5 4 5 1 5 0 15zM205 1603l-3-4-7 4 3 4zM908 1853l16-10 18-15 22-20 18-20 57-75 6-15-3-5-40 2-10 7-20 17-30 14-24 19-10 4-10 1-20-7-6 1-4 4-5 8-1 5 16 3 4 3 6 9 1 10-2 40 2 15 3 6 6 2zM248 1758l19-15 4-5-3-5-10 0-13 5-8 5-8 10 0 5 3 3 6 0zM853 1888l5-5 6-10 2-15-8-53-6-18-4-3-19 9-13 10 2 5 4 2 6 5 3 8 1 50 2 15 4 4 4 1zM786 1953l18-20 5-10 2-10-1-15-7-65-1-20-4 0-16 7-17 13-9 10 0 5 10 10 3 10 1 80 2 6 6 4zM1048 2060l-6 1-2-3-1-5 3-6 6 2 1 4zM988 2094l-6 2-2-3-1-5 3-6 6 2 1 4zM572 2144l-4 0-6-4-3-7 0-5 3-8 6-4 4 0 6 2 4 5 2 10-2 5-4 4zM918 2134l-6-6 1-5 5-3 4 3 1 5zM858 2164l-6 1-1-2-2-5 3-7 6 0 1 2 1 5z"/>
<path fill="#00c4ff" d="M362 2183l-225 0-1-90 2-74 8-1 12-10 3-5-23 1 0-184 4 0 6-2 12-10 18-25 2-10-5-10-13-12-10-5-14-2-1-496 197 0-2 10-6 10-55 45-13 15-5 10 0 15 18 60 3 5 7 5 11 2 20-2 25-10 35-20 30-22 24-13 6-5 7-10 6-15 3-35 3-10 7-12 19-18 0-5 67 0-1 10-3 10-21 40-6 40-4 15-7 15-10 15-24 29-17 21-9 9-33 21-27 26-10 7-23 12-6 5-7 10 0 5 6 2 36-1 10 3 4 4 6 7 1 10-4 10-27 36-29 44-7 7-20 14-10 11-7 13-8 20-6 5-19 3-14 5-20 12-12 15-1 5 3 5 4 1 10-1 10-3 46-33 4-2 16-1 10-3 30-20 10-5 34-12 30-14 30-10 36-25 35-12 35-21 30-13 20-14 14-5 34-7 62-25 24-15 36-16 30-21 25-13 29-22 30-16 26-20 34-16 26-19 30-14 24-20 10-5 16-4 20-1 9 2 5 4 4 6 0 10-16 30-12 16-10 7-26 10-30 26-26 11-28 24-30 15-26 23-31 18-8 10-1 5 3 5 17 12 6 0 4-17 6-9 10-7 10-1 10 3 4 3 10 11 6 11 4 4 6 0 10-7 2-3 1-5-8-25 0-10 5-10 10-8 10-3 4 1 10 3 6 4 14 16 6 2 4-2 3-3 0-5-5-15-1-15 3-10 10-10 10-4 16 3 8 6 12 12 4 3 26-2 0 262-6 0-4 4-83 101-43 41-10 8-30 15-43 26-27 19-67 41-33 28-21 7-9 5-20 23-10 5-14 4-4 3-16 25-10 8-20 3-6-3 3-18 6-15 7-7 4-3 26-5 4-5 16-22 4-3 20-9 10-13 15-23 4-10 1-20-10-95-1-5-3-2-10 3-15 9-9 10-3 85-3 42-6 0-4-19-11-78-5-7-4-1-6 1-239 132-141 80-31 20-6 5-2 5 4 5 11 2 94 6 6 3 4 6 2 8zM883 1608l8-5 1-5-10-10-2 5-1 10zM198 1613l10-4 5-6 3-5-3-5-11 0-10 5-5 5-1 5 2 4 4 2zM784 1958l19-20 6-10 3-10 1-20-8-70 3-13 4-4 6 0 4 3 6 5 2 9-1 45 2 15 2 5 5 3 10-2 10-8 6-8 5-15-3-25-10-50 4-10 8-4 4 0 6 1 7 8 2 10-2 45 2 15 5 6 6 0 10-4 19-12 18-15 23-20 14-17 65-83 11-20 1-5-1-4-6 1-20 9-30 1-10 7-20 17-30 14-30 23-4 1-10 0-16-6-4-2-6 1-4 4-6 6-9 18-5 5-40 27-26 14-25 19-6 10 11 9 5 11 0 70 1 15 4 8 6 1zM745 1713l14-10 1-5-4 0-11 5-7 5-4 5 4 2zM1042 2058l0-6 3 1zM982 2091l0-4 3 1zM578 2139l-6 2-4-1-6-5 0-10 6-5 4-1 7 4 2 5 0 5zM918 2130l-2-2 2-4 1 4zM852 2160l0-5 5 3z"/>
<path fill="#00d2ff" d="M208 1744l-10 0-16-6-14-4-30 0-1-486 192 0-1 10-6 7-68 53-13 15-8 15-2 10 1 10 15 55 6 10 9 4 6 1 34-6 26-9 44-26 30-23 30-17 9-14 6-15 2-30 4-15 5-10 23-20 0-5 60 0-2 15-22 45-8 50-9 20-10 15-48 56-34 22-20 21-10 8-31 13-8 5-15 15-6 10 4 5 6 1 14 0 30-4 10 1 6 3 5 9-1 6-3 9-47 62-45 43-21 35-9 5-29 11zM358 2183l-221 0-1-90 2-68 10-2 33-20 13-10 1-5-13-3-10 0-24 6-10 1 0-167 10-2 7-5 23-24 14-11 10-3 16-2 14-5 10-5 36-24 10-5 30-10 24-18 10-5 30-9 36-17 34-12 10-6 26-19 40-15 24-17 30-13 30-18 40-9 50-19 16-7 24-15 30-14 30-20 33-18 27-21 30-16 26-19 30-14 30-22 30-13 30-24 14-5 20-2 10 1 8 5 4 5 0 10-15 30-11 15-10 7-26 9-30 27-29 12-25 22-30 15-30 27-20 9-10 7-7 10-1 5 2 5 14 10 8 10 0 15-6 20 4 3 6 0 14-9 9-9 0-5-16-15-4-10 3-15 8-11 6-3 10-1 12 5 9 10 6 20 3 5 4 0 16-8 7-7 3-5-1-5-11-20-2-10 4-11 4-6 6-4 4-2 10 0 10 4 10 9 10 20 6 1 4-2 7-4 5-5 0-5-9-15-4-15 3-15 8-8 10-4 6 0 10 4 9 8 11 17 4 3 26-4 0 251-6 0-4 4-86 104-44 44-40 21-42 25-24 18-70 42-30 26-30 10-4 4-11 15-9 9-6 2-20 2-12 27-8 8-4 3-10 2-6 0-5-3-1-5 1-10 6-15 5-5 10-5 24-1 9-19 7-8 4-4 20-8 6-4 26-46 2-20-8-56-4-34 1-5 3-7 4-2 6 2 6 7 2 15-2 75 4 11 4 3 6-1 10-8 14-16 10-14 3-10 1-20-9-65 0-10 3-5 2-3 6 0 4 2 5 6 1 10-1 50 1 10 4 6 10-1 16-10 9-10 5-10 1-10-2-10-11-55-1-5 3-7 6-3 4-1 6 2 4 4 2 5-2 55 2 15 8 4 16-4 22-15 30-25 28-29 55-71 14-20 11-20 1-5-1-6-6-1-4 2-16 12-10 5-10 1-14-1-6 1-30 24-30 13-20 18-10 6-10 3-10-3-10-6-4-1-6 1-10 9-10 18-8 10-70 45-19 15-13 13-14 7-17 10-6 5-3 5-1 5-3 85 0 8-6 10-4-20-8-58-2-6-5-4-5-1-13 6-226 125-142 80-33 20-13 10-4 5 1 5 14 5 90 4 10 2 6 4 2 5 0 15zM207 1613l7-5 8-10 1-5-5-5-10 0-15 5-6 5-7 10 0 5 2 3 6 2 10-1zM731 1723l23-10 14-10 9-10 1-6-6-3-10 3-24 14-8 7-8 10 0 5zM572 2138l-4-1-3-4 0-5 3-5 4-1 6 6 0 5z"/>
<path fill="#00dfff" d="M142 1728l-4 0-1-30 0-450 188 0 0 5-2 5-5 7-73 53-18 20-9 15-3 10 1 10 12 60 4 10 6 5 14 3 17-3 39-12 14-6 50-29 30-24 30-17 6-7 10-20 2-35 4-15 8-12 22-18 0-5 55 0-2 15-22 45-5 40-4 15-8 15-10 15-20 22-17 23-10 10-33 19-20 21-10 9-10 5-20 6-10 5-26 24-21 16-2 5 3 1 26-3 50-4 10 1 4 3 3 7-3 10-34 50-10 10-39 30-18 20-13 20-6 5-8 5-32 9zM352 2183l-215 0-1-90 2-64 4 0 6-2 40-24 16-10 10-10-46-7-30 4 0-151 4 0 12-6 24-24 10-8 10-4 20-4 14-5 40-29 10-4 26-8 10-5 30-21 40-12 34-20 30-9 10-6 26-20 10-4 30-10 30-20 27-12 27-17 40-9 51-19 15-7 24-15 30-13 36-24 30-16 24-20 30-15 30-23 28-12 32-23 28-12 28-22 10-5 14-2 16 0 9 4 4 5 0 10-11 25-12 18-10 7-27 10-29 26-30 13-24 22-30 15-30 26-20 10-10 7-6 6-5 10 1 5 15 10 5 5 4 10-1 10-4 10-5 6-17 14 0 5 3 1 14 1 10-3 10-6 23-18 9-10-22-12-6-8-2-5 0-10 2-5 6-9 6-3 4-1 10 1 11 7 3 5 4 10-1 10-5 15 8 2 10-3 10-6 22-18 3-5-1-5-14-12-5-13 0-10 2-5 9-9 4-2 10 0 13 6 4 5 4 10 2 20 3 3 4 0 10-4 21-14 4-5-1-5-14-10-4-6-5-9 1-15 2-5 6-6 6-3 10-1 11 5 9 10 4 10 2 15 4 3 23-8 7 0 0 239-6 0-10 10-80 99-40 40-10 8-30 14-24 17-24 13-22 16-25 14-45 27-10 8-14 15-6 4-10 4-20 2-2-5 9-20 6-10 17-25 10-1 6-3 10-8 16-18 12-20 6-22 10 2 16-5 17-15 13-17 4-2 16 0 14-7 40-29 22-20 69-85 25-35 8-20 0-5-4-5-4-1-6 0-4 4-16 14-10 6-10 1-14-2-6 1-30 26-30 11-20 19-10 7-10 2-4-1-16-8-4-1-6 1-10 9-13 22-11 12-59 38-37 29-34 21-6 6-3 9-1 58-6 22-4-16-8-44-2-5-6-3-10 2-236 131-150 85-33 20-11 10-2 5 6 5 12 2 100 6 4 2 4 5 0 15zM203 1618l9-6 11-9 8-10 0-5-3-2-10-2-10 0-10 3-15 11-8 10-1 5 1 5 7 3 10 0zM725 1728l24-10 24-15 15-15 5-10-1-6-4-1-6 1-14 6-20 11-16 11-12 13-7 10 1 5zM878 1840l-6-3-10-44 0-5 3-5 7-3 7 3 4 10zM822 1883l-4-2-6-22-3-26 1-10 2-4 6-2 4 3 4 8zM758 1938l-6-18-5-47 0-10 5-5 6 1 4 4 2 10-2 41zM245 1968l17-10 3-5-7-4-6 0-4 3-12 16 2 2zM708 2064l-10 2-7-3-1-5 4-10 4-5 10-6 14-1 2 2-6 15-6 7zM652 2109l-10-1-3-5-1-10 3-10 7-8 4-3 10-2 10 2 3 1 1 5-4 15-10 11zM572 2133l-2-5 2-1z"/>
<path fill="#00ecff" d="M142 1723l-4 0-1-25 1-443 8-2 0-5 175 0 0 5-7 10-57 40-19 16-23 24-9 15-3 10 1 10 10 65 4 8 4 6 6 3 10 2 20-3 60-22 34-22 26-14 30-25 24-13 9-10 7-15 3-15 1-25 2-10 8-15 25-20 0-5 49 0-2 15-20 45-5 40-7 20-14 22-22 23-22 30-12 9-24 12-30 30-10 5-29 9-31 26-27 14-12 10-17 17-10 4-34 2-16 6-13 11-8 10-5 10 1 5 11 2 14-1 10-3 14-8 32-28 10-4 24-6 30-14 20-2 36 1 6 3 1 5-1 5-4 10-23 35-15 14-19 11-14 10-27 26-14 11-10 6-56 20-14 4zM348 2183l-211 0-1-90 2-62 4 0 8-3 113-65 13-10 0-5-18-6-10 0-20 25-10 7-10 3-20-2-30-10-20 1 0-134 10-1 10-7 20-21 10-8 10-5 20-3 14-6 40-29 10-5 30-9 36-25 10-4 30-7 34-21 30-9 10-5 26-21 10-5 30-9 30-21 30-13 24-15 10-4 30-5 55-21 35-21 33-14 33-23 30-15 24-20 30-16 30-23 30-13 30-22 30-13 26-21 14-5 16-1 14 2 6 4 2 6-1 5-3 10-10 20-12 15-6 4-29 11-27 25-30 12-24 22-30 15-26 23-10 6-20 10-8 7-7 10-2 5 0 5 15 10 8 10 1 10-2 10-4 5-11 9-13 6-31 26-50 29-20 13-20 19-12 18 2 5 10 0 14-5 22-10 24-15 11-10 9-10 17-25 13-9 10-4 24-2 10-3 40-31 10-4 20-4 30-25 10-6 30-8 80-43 10-4 6 0 0 224-6 0-10 10-80 99-38 40-12 9-31 16-23 16-26 13-24 19-24 12-46 28-26 24-14 4-6 0-4-2-2-4 3-10 9-16 14-15 20-13 10-10 21-26 11-20 4-4 24-12 30-28 20-5 16-9 37-27 21-20 76-94 22-31 8-15 2-10-6-5-6-2-10 0-4 3-16 17-10 6-10 2-14-4-6 2-30 26-10 4-14 3-6 2-18 21-12 8-10 2-4-1-20-10-6 1-4 3-21 32-10 10-59 40-36 27-29 18-12 10-4 10 0 20-5 36-4-12-4-19-3-10-3-4-6-1-10 3-239 132-150 85-33 20-12 10-3 5 1 5 2 1 14 4 88 5 18 3 3 2 1 5-1 10zM1058 1515l-6 1-10-1-10-6-5-6-3-10 2-10 6-9 6-3 4-1 10 1 10 7 4 5 2 10-1 10-5 8zM988 1554l-6 0-10-3-9-8-3-5-2-10 3-10 4-5 7-4 6-1 10 2 4 3 7 10 2 10-2 10-7 8zM912 1589l-4 1-10-4-9-8-3-5 0-10 2-5 4-7 10-5 10 1 6 3 6 8 2 5 1 10-2 5-7 9zM878 1820l-6 3-7-25 0-10 3-3 4-2 6 3 2 7zM818 1863l-6-19-1-16 1-5 6-2 4 4 2 8-2 20zM758 1913l-6-13-3-27 0-5 3-7 6 2 4 10zM708 2061l-6 2-4-1-3-4 0-5 3-5 4-5 10-2 4 2 0 5-4 8zM658 2105l-10 1-6-2-2-6 1-10 6-10 5-5 6-1 10 1 5 5-1 10-5 10z"/>
<path fill="#00f8ff" d="M152 1621l-14 2 0-127 4 0 3-13-3-20-4 0 0-205 6 0 9-5 0-5 164 0 0 5-9 10-58 40-18 15-28 30-9 15-2 10 0 10 8 55 4 20 3 5 7 5 17 2 20-3 36-16 30-10 30-21 30-16 30-26 27-15 7-9 9-21 3-40 3-10 5-8 29-22 0-5 43 0-3 15-19 44-5 41-6 20-9 13-28 32-22 29-10 8-26 13-28 29-10 5-30 8-30 25-36 16-20 18-10 7-10 4-24 3-16 5-10 8-20 22zM332 2183l-195 0-1-90 2-60 4 0 12-5 89-50 34-20 11-10-7-5-33-9-6 4-11 20-9 9-10 5-14 2-10-2-10-4-30-24-10-1 0-18 4 0 6-3 21-19 26-15 1-5-18-5-15 5-15 9-10 1 0-57 10-2 10-6 20-22 10-8 10-5 24-4 10-4 10-7 26-22 14-7 30-8 36-26 10-4 30-6 34-22 34-10 36-28 36-12 30-20 30-13 24-16 10-4 30-5 56-21 40-23 29-13 31-21 30-16 24-20 30-15 30-24 30-13 30-22 30-13 20-18 10-6 10-2 16-1 10 2 7 4 2 5 0 5-5 15-10 20-10 9-34 15-26 24-30 13-24 22-30 15-30 26-26 13-10 8-7 10-3 10 6 5 10 5 8 10 1 10-5 12-10 8-20 8-34 26-60 40-16 13-10 11-7 12-4 10 1 3 10 0 24-8 21-10 17-10 20-15 10-10 14-18 10-9 14-6 20 0 10-2 36-31 14-6 20-1 6-4 20-20 10-7 10-3 20 0 30-18 24-5 20-11 10-3 16 0 0 97-6 0-10 9-4 2-10 0-10-3-6 0-4 4-16 19-10 7-10 1-14-4-6 1-20 20-10 8-10 4-14 0-6 3-20 24-10 8-10 2-4-1-20-12-6 0-10 10-17 30-10 10-53 35-44 34-27 16-12 10-5 10-2 30-4-5-4-10-4-5-8-2-10 3-233 129-167 95-32 20-10 10-2 5 6 5 14 3 91 7 11 5-4 5 0 5zM1058 1509l-6 3-10 0-4-2-8-7-3-5-1-10 2-5 4-7 6-3 10-2 5 2 7 5 3 5 3 10-3 10zM988 1549l-6 1-10-2-4-3-6-7-2-5 0-10 7-10 5-3 10 0 6 2 6 6 3 5 1 10-1 5-5 8zM918 1583l-6 3-10 0-4-2-7-6-3-5 0-10 4-10 6-3 4-2 10 1 6 4 4 5 2 5 0 10zM148 1719l-10 0 0-72 4 0 20-15 30-5 10-3 10-6 30-22 36-12 34-19 16-2 14 0 16 2 6 3 2 5-2 10-13 25-9 11-10 9-20 10-14 9-30 28-10 6-36 13-30 17-14 5zM762 2024l-4 2-10 1-7-4 0-10 4-10 7-8 20-13 16-15 24-29 16-25 25-15 25-22 30-13 10-6 51-39 23-26 60-75 40-57 6-3 10-1 0 81-6 0-10 9-86 107-34 35-10 8-34 17-20 14-26 14-24 19-26 12-44 27-6 4zM872 1810l-4-12-1-5 3-5 2-1 6 5 0 6-1 5zM236 1878l26-17 38-13 23-20 21-15 4-5-1-5-9-4-10 3-6 4-14 21-10 8-16 2-20-4-4 0-10 4-10 11-16 30 0 2 6 2zM562 1803l-4-2-7 2 1 3zM818 1844l-3-11 0-5 3-3 2 3 0 5zM758 1886l-6-7 0-12 6 1zM326 1928l18-10 6-5 1-5-13-5-10 0-6 5-8 20 4 2zM702 2058l-2-5 2-5 6-2 3 2-1 5-2 3zM658 2104l-6 1-6-2-4-5 0-5 3-10 4-5 9-4 4 0 8 4 0 10-5 10z"/>
<path fill="#00fff5" d="M152 1615l-14 3 0-103 4 0 5-2 9-10 5-15 1-20-8-80-6-10-6-2-4 0 0-115 10-2 12-6 0-5 152 0 0 5-4 5-70 51-46 44-8 10-3 10-1 10 10 75 3 10 4 5 5 3 10 1 26-1 14-3 36-18 30-10 34-25 26-13 30-27 30-16 4-6 10-25 3-40 7-15 6-6 27-19 0-5 35 0-2 15-17 45-5 40-4 15-10 16-30 33-20 28-10 8-22 10-8 5-17 20-7 7-10 5-26 5-7 3-27 24-10 4-20 6-10 6-26 23-10 5-24 3-16 6-10 8-20 21zM302 2183l-164 0-2-90 2-58 4 0 7-2 98-55 35-20 26-17 35-18 20-15-2-5-13-2-20-7-6 2-9 22-6 10-9 9-10 3-10-1-10-2-20-11-6-1-8 23-6 10-10 9-10 4-16 0-15-8-5-5-7-10-3-10 1-10 4-10 5-6 10-8 10-5 16-2 10 2 14 5 6-4 8-17 6-7 10-7 10-4 10-2 26 1 4-5 9-16 11-12 16-8 20-6 8-4 2-5 1-10-7-3-30-3-13 1-7 4-16 21-8 8-16 4-24-2-10 3-10 10-16 23-10 8-10 3-30-2-30 13-4 0 0-47 10-2 10-6 20-23 10-8 10-5 24-3 10-3 10-7 26-24 14-7 20-3 10-4 36-28 10-3 30-5 34-23 36-11 34-28 36-11 30-21 30-13 24-16 10-4 30-5 56-20 34-21 36-16 30-21 30-16 24-20 30-15 30-24 30-13 30-22 30-13 20-17 10-6 10-3 10-1 10 1 9 4 3 5 1 5-4 15-7 15-12 13-10 6-14 4-10 5-26 24-10 5-20 8-24 22-10 6-20 8-30 27-26 12-10 8-9 12-4 10 4 5 15 7 6 8 2 10-5 10-9 7-23 8-97 69-14 14-10 13-10 14-2 10 6 2 13-2 45-20 17-10 21-15 30-32 14-6 26 3 4-2 6-3 20-23 10-9 10-5 4 0 20 3 6-3 20-25 10-7 4-2 10 1 16 6 4-3 16-13 10-5 10 1 10 6 4 1 16-14 10-6 20 2 0 73-6 0-14 11-10 0-10-5-6 0-4 4-15 22-11 8-10 1-14-7-6 1-20 23-10 8-10 3-14-1-6 3-19 26-11 8-10 2-4-1-20-13-6 0-10 11-16 28-8 11-65 44-35 27-36 23-9 10-3 15-2 3-6-6-4-1-16 4-235 130-159 90-41 25-12 10-3 5 1 5 9 4 56 6 25 5 3 5 0 5zM1052 1509l-4 1-10-3-6-4-3-5-1-10 1-5 3-5 6-4 4-1 10 2 9 8 2 10-1 5-4 7zM988 1545l-6 2-10-1-4-4-6-7-1-7 1-5 6-8 4-3 6-1 8 2 6 5 3 5 1 10-1 5zM912 1583l-4 1-10-3-8-8-1-10 3-7 6-5 10-2 8 4 4 5 2 5 0 10-4 7zM172 1713l-34 3 0-64 4 0 16-12 10-5 34-8 10-6 26-19 10-4 30-9 34-20 10-3 16 0 10 2 9 5 2 5-1 5-3 10-7 15-10 13-10 6-20 9-10 5-26 25-14 10-36 11-30 20-10 4zM758 2024l-10 0-5-6 0-5 5-10 4-5 16-7 10-9 32-39 22-30 24-15 26-23 20-8 16-8 35-26 19-15 83-100 37-52 6-4 10-1 0 73-6 0-5 4-88 110-38 40-9 7-30 14-24 17-26 14-24 19-26 12-48 27-6 5-11 15zM552 1813l12-5 8-5 5-5-5-3-10-1-10 0-4 2-7 7-2 5 0 5 3 1zM401 1888l17-10 3-5-3-4-10-3-6 1-4 4-8 17 2 3zM662 2099l-10 4-4-2-3-3 0-10 3-6 4-5 10-1 6 4 0 8z"/>
<path fill="#00fee0" d="M148 1358l-10 1 0-94 4 0 32-12 0-5 128 0 0 5-4 5-60 44-36 34-20 11zM152 1609l-14 2 0-84 10-2 29-12 25-20 10-6 10-3 30-3 10-5 26-16 30-9 10-7 24-20 30-16 26-25 10-6 20-9 5-5 12-30 2-40 4-10 4-5 7-7 30-18 0-5 22 0-2 20-13 40-5 40-4 15-12 18-26 26-21 31-13 10-26 10-20 24-10 7-10 4-24 3-10 6-16 16-10 6-24 6-10 4-20 22-10 7-10 4-26 2-10 4-24 26zM242 2183l-105 0-1-90 2-55 4 0 13-5 81-45 142-81 44-24 19-15-3-3-20-5-20-8-5 6-4 15-7 11-10 9-10 3-10 0-10-3-9-5-8-10-2-10 1-10 4-10 10-11 10-6 10-2 10 0 20 5 16-61-2-8-4 0-20 15-10 5-16 2-20-3-10 4-18 25-12 9-14 3-20-3-10 1-6 3-4 6-17 26-9 7-4 2-10 2-30-3-26 9-4 0 0-28 10-2 10-7 19-25 11-10 14-6 30-1 10-8 13-15 13-12 14-7 30-4 10-8 16-16 10-7 10-4 24-1 10-4 29-22 11-4 26-6 10-7 14-15 10-7 36-11 30-22 30-12 24-17 10-4 30-5 30-12 26-8 40-24 30-12 30-22 30-15 26-22 34-17 24-21 30-12 30-23 30-12 20-18 10-7 10-3 10 0 10 3 6 3 3 7-2 15-7 15-10 11-10 6-24 9-26 24-10 6-14 4-10 5-26 23-26 12-28 26-26 12-10 7-15 20-5 10 6 3 14 4 9 8 2 10-5 10-10 5-16 2-7 3-93 67-14 14-16 19-11 20-2 10 3 2 6 0 11-2 25-10 31-15 32-20 30-30 11-6 4-1 10 2 16 9 4 1 6-4 18-31 6-7 10-7 10-1 6 2 14 13 6-4 7-16 9-15 8-8 6-3 10-1 4 3 10 15 6 4 18-25 6-5 6-1 4 1 6 4 10 17 4 3 8-19 6-10 6-6 10-3 10 4 6 0 0 49-6 0-10 9-4 3-6 1-4-1-8-6-8-12-4 8-10 24-10 14-6 3-4 1-6-1-4-2-10-10-6 2-14 23-10 10-6 4-10 2-14-7-6 3-15 28-8 10-7 4-4 2-10-1-20-18-6-1-4 6-25 43-8 10-103 73-33 22-11 12-26 11-275 152-149 85-23 15-11 10-3 5 1 6 10 5 19 4 14 5 0 5zM1052 1504l-10 2-4-2-6-6-2-10 2-6 6-5 10-1 5 2 5 5 2 10-2 6zM982 1543l-10-1-4-4-3-5 0-10 2-5 5-3 10-1 7 4 3 5 0 10-4 8zM912 1579l-10 1-4-2-5-5-1-10 6-9 4-2 6 0 4 2 5 4 3 10-2 6zM178 1708l-40 2 0-51 4 0 16-13 10-6 34-8 36-26 14-5 20-2 10-4 30-21 10-3 10 0 10 3 6 4 2 5 0 5-2 10-6 11-10 10-35 14-9 8-20 22-10 8-10 3-26 5-10 6-20 17zM792 1988l-7 0 0-5 2-5 45-62 6-4 20-13 20-18 34-16 58-42 19-20 66-80 37-50 10-7 6 0 0 63-6 0-10 10-82 104-42 45-10 8-28 12-22 16-26 13-24 20zM536 1823l16-5 21-10 36-25 5-5 0-5-6-1-20 13-6 2-10 2-22-1-8 3-4 6-15 26 5 1zM467 1853l22-10 7-5 4-5-18-4-4 0-6 2-10 17-1 5zM288 1935l-16-1-10-4-11-12-3-10 2-15 6-10 12-9 10-3 14 1 10 5 6 6 4 10 0 15-4 10-10 12zM218 1963l-10 4-16 0-10-5-7-9-4-10 1-15 5-10 11-9 10-3 10-1 10 4 10 9 4 10-1 15-4 10zM758 2020l-6 0-3-2-1-5 1-5 3-5 6-3 10 0 2 3-1 5-7 9zM658 2098l-7 0-4-5 1-5 3-5 7-4 4 2 2 2 1 5-3 6z"/>
<path fill="#00fecb" d="M142 1349l-4 0 0-80 4 0 26-10 38-6 0-5 84 0 0 5-4 5-48 37-36 35-14 8-26 4zM152 1604l-14 2 0-73 24-4 20 4 6-4 15-26 9-8 16-6 20 0 10-2 30-22 34-11 30-27 30-14 20-22 10-8 30-14 6-7 9-29 2-35 4-15 9-9 10-6 20-9 10-1 4 5 0 10-10 35-4 40-3 10-4 10-7 10-27 25-15 25-8 10-10 7-26 9-5 4-15 20-10 8-10 4-20 0-10 2-4 4-16 17-10 7-10 3-14 0-10 3-6 4-18 23-12 8-10 2-24-2-6 1-4 4-19 27-7 6zM188 2183l-51 0-1-90 2-52 10-2 12-6 269-150 39-23 50-25 52-22 46-30 6-5 3-5-3-6-10-4-4 1-20 16-10 4-10 1-20-3-6 1-4 4-12 21-8 9-6 3-10 3-10-1-14-4-8 0-2 2-8 18-8 10-10 8-10 2-10-1-10-5-5-4-7-10-2-10 2-15 5-10 15-25 2-10-1-5-4-5-7-5-8-3-4 1-6 4-14 18-10 7-16 3-24-6-6 1-4 5-16 26-4 6-10 5-16 1-30-11-4 8-8 20-9 15-9 8-10 4-10 0-10-3-18-9-1-5 2-10 8-15 9-13 10-7 10-3 16 1 20 6 4-5 6-14 10-15 14-13 16-4 24 1 6-2 20-26 10-8 14-4 20 1 10-2 19-18 11-8 10-4 21-3 9-4 21-21 9-7 10-4 26-6 10-6 20-17 10-5 20-7 24-17 10-4 30-4 30-13 26-8 10-5 30-19 30-12 30-22 30-15 29-24 31-15 24-21 30-12 30-24 30-11 20-18 10-7 10-3 10 0 12 6 4 10-1 10-7 15-8 9-10 6-24 8-28 27-32 13-26 23-30 14-24 24-26 11-10 8-20 24-14 13-1 5 5 5 16-7 10 0 4 2 6 5 2 5-2 10-6 5-4 2-20-1-6 1-14 13-76 55-14 14-10 12-19 29-7 15 0 5 6 2 10-1 41-16 30-15 26-15 13-10 14-16 10-8 10-3 6 1 9 6 7 10 3 10 0 15-8 20-13 25-14 19-94 68-42 28-14 11-20 9-234 130-211 120-21 15-9 10-2 5zM1052 1500l-4 2-6 0-6-4-3-5 0-5 5-8 4-2 6 0 6 5 3 5 0 5zM982 1539l-4 1-6-2-5-5-1-5 1-5 5-6 6-1 4 1 7 6 1 5-1 5zM912 1575l-4 2-6 0-5-4-2-5 0-5 3-5 4-3 6 0 5 3 3 5 1 5zM182 1703l-14 3-30-2 0-39 4 0 16-15 10-6 10-2 20-2 10-5 20-19 10-7 10-3 24 0 10-2 10-7 14-14 7-5 15-3 9 3 5 5 2 5-1 10-5 10-6 6-10 5-20 4-10 4-4 5-15 21-11 10-14 7-20 1-10 3-6 3-20 21zM1092 1624l-4 3-6 1-6-5-4-10 0-10 3-10 7-10 6-4 4 0 10 7 6 0 0 26-6 0zM1032 1659l-4 1-6-1-4-6-4-10-1-10 3-15 6-14 6-7 4-3 6-1 4 2 6 8 3 10 0 10-2 10-6 15-5 8zM968 1689l-6-1-4-3-5-7-4-10 0-15 5-20 9-20 9-11 6-3 4-1 8 5 6 10 3 15 0 15-4 15-8 15-9 11zM912 1729l-10 2-4-2-7-6-10-15-3-15 7-25 9-20 14-15 10-4 4 1 10 8 8 20 1 10-6 25-6 15-7 11zM802 1978l-5 0 0-5 37-55 8-7 16-9 20-18 34-17 62-44 81-95 37-49 10-8 6 0 0 54-6 0-10 9-85 109-39 43-10 8-30 13-26 18-20 10-24 20zM368 1891l-16 1-10-3-7-6-6-10 0-15 5-10 8-9 10-4 10-1 10 4 8 5 6 10 0 10-2 10-6 10zM292 1929l-10 3-10-2-11-7-6-10-2-10 3-10 6-9 10-6 10-2 10 2 8 5 7 10 1 10-2 10-6 10zM208 1964l-10 1-10-4-9-8-4-10 0-10 5-10 8-8 10-4 10 0 10 4 7 8 3 10 0 10-5 10-5 6zM658 2093l-6-1 0-4 6-3 2 3z"/>
<path fill="#00feb6" d="M148 1339l-10 2 0-69 4 0 16-7 14-4 46-4 12-4 0-5 44 0 0 5-8 10-34 30-30 32-14 7-26 2zM228 1558l-10 1-10-4-8-7-2-5 0-10 1-10 4-10 7-10 8-6 10-3 30 3 4-2 15-17 11-9 10-4 20-1 4-2 21-24 9-8 10-5 16-5 10-6 16-21 8-7 32-13 4-4 2-6 9-30 1-35 6-15 12-10 14-6 10-2 6 1 2 2 1 10-8 35-3 35-3 10-9 16-27 24-17 30-6 8-10 7-22 5-8 5-19 25-11 8-10 2-26-3-4 3-20 25-10 5-10 0-20-3-6 4-18 29-6 6zM158 2183l-21 0-1-90 2-50 10-1 16-9 174-97 98-53 36-22 104-48 46-30 12-10 0-5-6-5-16-6-4 0-6 4-14 15-10 5-10 1-26-6-4 1-6 8-7 18-7 9-10 5-16 0-18-9-16-15-3-5-8-25-19-8-30-17-6 4-7 16-7 10-10 8-16 3-10-2-8-4-6-5-3-5 0-5 4-15 12-15 11-7 10-2 10 1 20 7 6-6 7-13 13-13 14-7 26-2 4-1 6-5 13-17 11-10 10-4 20-3 10-4 26-22 10-5 20-7 30-20 34-5 30-13 30-10 36-22 24-9 10-5 26-21 31-15 29-24 30-13 24-22 36-15 24-21 30-10 28-25 8-3 10-1 12 4 4 5 1 5 0 10-7 15-6 7-10 6-24 8-6 3-18 21-6 5-29 10-27 24-30 13-24 25-10 5-16 6-10 7-20 23-23 17-3 5 0 5 7 15-5 10-70 54-20 18-20 27-16 26-7 15 0 5 3 1 14-1 17-5 33-15 50-25 16-11 20-20 10-6 4 0 10 5 8 12 2 10-1 15-5 15-12 25-7 10-9 10-96 69-50 34-258 142-203 115-46 30-12 10-4 5 0 5zM1048 1498l-6 1-6-6 0-5 2-3 4-4 8 2 3 5-1 6zM982 1535l-4 1-7-3-1-5 2-7 6-2 7 4 2 5zM152 1600l-14 2 0-63 20-3 7 2 8 5 6 10 1 10-4 15-7 10-7 6zM908 1574l-6-1-4-5 0-5 4-5 6 0 5 5-1 6zM322 1614l-10 1-10-1-2-1-3-5 3-10 8-10 10-7 10-1 6 3 4 4 0 11-6 10zM852 1599l-4 2-10-1-4-2-4-5 0-5 4-5 8-4 6 0 4 2 5 7-1 5zM1088 1620l-7-2-3-10 4-15 6-4 4 0 4 4 2 10-4 10zM1032 1653l-4 1-7-6-2-10 0-10 3-10 6-11 4-4 6 0 4 4 3 6 0 15-4 15-3 6zM968 1683l-6-2-2-3-5-10 0-10 1-15 4-15 8-14 4-5 6-3 4 0 8 7 3 10 2 10-1 15-5 15-6 10-5 6-6 3zM182 1700l-14 3-30-5 0-27 4 0 16-17 10-6 10-3 24 1 6-3 20-23 14-10 10-1 10 1 13 3 8 5-2 10-6 15-13 16-14 7-26 0-9 2-20 25zM912 1725l-4 2-6 0-4-3-6-5-6-11-2-15 5-25 7-15 12-15 10-3 6 3 7 10 3 10 1 15-2 15-5 15-8 15zM812 1969l-3-1 0-5 2-5 27-40 22-15 18-16 10-6 28-13 22-17 24-15 16-12 81-96 36-45 7-6 6 0 0 42-6 0-10 10-85 109-25 27-14 19-10 8-30 13-26 18-24 13-21 17-9 5zM480 1733l4-5 2-5-4-5-4-1-5 1-5 10 0 8 4 2zM278 1818l-10-2-13-8-4-10 4-15 10-15 13-8 14-1 13 4 5 5 2 5 0 10-6 15-6 10-8 7-4 2zM432 1854l-14-3-10-8-4-10-1-10 5-15 10-11 10-7 14-2 6 2 8 8 3 15 0 10-2 10-6 10-9 8zM208 1860l-10 2-15-4-7-5-5-10 1-10 7-15 10-10 13-5 10 0 10 4 6 6 2 5-1 10-5 15-7 10zM362 1888l-10 1-10-5-6-6-3-10 0-10 5-8 4-6 10-5 10 0 10 4 6 5 4 10 0 10-5 10-5 5zM282 1929l-10-2-6-4-7-10-2-10 3-10 4-5 8-6 10-2 10 3 6 3 4 7 3 10-2 10-5 8-6 5zM212 1959l-10 3-10-2-8-7-3-5-2-10 2-10 7-8 4-3 10-3 10 3 6 3 5 8 2 5-1 10-4 10z"/>
<path fill="#00fea1" d="M142 1334l-4 0 0-58 4 0 20-9 16-3 54-1 10 2 2 3-6 10-29 35-11 11-10 4-26 1zM368 1483l-10 2-10-2-12-5-7-5 2-10 8-15 8-10 11-7 24-8 6-3 15-22 9-9 10-6 20-5 6-2 5-8 8-35 1-35 3-10 7-9 10-6 10-3 10 1 3 2 2 10-7 35-2 30-6 16-10 12-23 17-15 30-7 10-6 5-9 4-20 3-4 2-6 5-12 21-8 8zM152 2169l-10 4-4 0-2-80 2-48 10-1 11-6 146-80 27-17 109-58 31-19 100-47 36-23 28-16 11-10-3-5-26-11-10-2-6 3-14 19-10 6-16 0-24-11-6 2-6 24-8 14-10 6-6 1-10-1-9-5-9-10-4-10-1-15 5-15 19-20 8-10 1-5-3-5-27-14-4 2-9 27-6 10-11 7-10 1-10-4-7-4-6-5-5-10-1-5 3-10 11-15 11-6 10-2 25 3 5-3 8-17 7-10 13-10 12-3 14-1 10-3 26-24 10-5 20-6 30-21 10-2 24-3 30-14 30-8 36-23 30-11 33-26 31-15 26-22 30-13 24-22 36-15 14-14 10-7 30-10 6-3 18-19 6-5 16-2 7 2 6 5 2 10-2 10-4 10-9 9-10 4-20 5-6 3-20 24-10 5-24 8-26 25-30 12-24 25-10 6-20 7-6 4-15 18-9 9-21 11-7 5-6 10-1 5 2 15-3 5-15 15-49 40-16 15-14 22-35 58 5 2 4 0 16-2 14-5 34-15 56-27 16-11 20-20 10-5 4 0 7 3 7 10 3 10-1 15-4 15-12 22-8 13-6 7-96 70-54 36zM298 1513l-10 0-10-5-4-5-1-5 3-10 7-10 9-6 10-2 15 3 5 5-7 20-7 10zM1048 1493l-6 0-1-5 1-2 6 2zM228 1555l-10-1-9-6-5-10 0-10 2-10 6-11 10-7 10-1 10 2 10 7 2 5 0 5-5 15-5 10-6 7zM978 1531l-4-3 4-4 4 4zM158 1594l-10 3-10 0 0-53 20-2 10 5 4 6 2 10-1 10-5 12zM852 1593l-4 4-6 0-5-4 0-5 5-5 6 0 5 5zM322 1609l-9-1-4-5 0-5 2-5 4-5 7-2 8 2 3 5 0 5-3 5zM248 1663l-12 0-15-5-6-5 0-5 6-15 11-14 10-6 16 0 10 4 4 4 3 7-1 5-3 10-6 10-7 6zM978 1674l-6 3-4 0-6-4-3-15 1-15 4-15 6-10 8-5 4 0 6 6 2 9 1 10-3 20-5 10zM1032 1645l-5-2-3-10 4-14 4-6 6 1 2 9-2 15zM908 1724l-6-1-4-3-6-7-4-15 1-15 3-15 7-15 9-10 4-3 6 0 5 3 6 10 3 15-1 15-3 15-6 12-5 8zM178 1699l-10 1-16-5-8-7-1-5 7-15 12-14 10-5 16 0 10 4 4 3 3 2 0 5-5 15-6 10-6 6zM838 1958l-16 2-3-2 0-5 7-15 14-20 22-14 20-19 36-15 20-17 26-15 14-10 48-55 72-86 4-4 6 0 0 30-6 0-10 9-88 116-22 23-16 22-14 10-24 9-26 19-24 12-20 18-10 5zM548 1693l4-5-4-4-6 1-2 3 0 5 2 2zM362 1775l-4 1-10-1-10-5-6-7-2-10 5-15 7-9 10-6 10-2 10 2 8 5 4 5 2 10-3 10-5 10-6 6zM288 1814l-10 1-10-2-7-5-5-10 0-10 7-15 9-8 10-4 10 1 6 2 5 4 4 10 0 10-4 10-7 10zM438 1849l-10 1-10-4-6-4-4-9-1-10 3-10 8-9 10-5 10 0 4 2 8 7 4 10 0 10-4 10-4 5zM202 1859l-10-1-10-5-7-10 0-10 4-10 9-11 10-6 10-1 8 3 6 5 3 5 1 10-3 10-5 10-6 6zM368 1883l-6 2-10 0-10-5-4-7-2-5 1-10 5-9 6-4 4-2 10 0 10 5 4 5 2 5 0 10-5 10zM288 1925l-10 0-7-2-6-5-4-10 1-10 3-5 4-5 9-4 10 1 4 2 6 5 3 6 0 10-1 5-8 9zM208 1958l-10 1-6-2-4-4-5-10 0-10 2-5 5-5 8-4 10 0 4 2 6 4 3 8 0 10-1 5-4 5z"/>
<path fill="#00fd8c" d="M142 1328l-4 0 0-49 4 0 20-10 16-3 24 2 21 5 3 5-4 10-13 20-11 11-16 6-24 0zM472 1378l-14 3-2-3 2-20 6-30 0-25 1-10 6-10 7-5 10-3 10 0 4 3 1 10-5 35-3 30-7 14-6 5zM508 1810l-6 1-10-2-8-6-4-5-3-15 4-15 11-13 20-10 9-17 9-10 31-20 6-5 2-5-2-5-8-5-17-5-4 2-14 28-6 7-10 2-10-2-16-8-6-9-1-5 4-15 7-10 5-5 7-4 10-2 24 0 6-4 10-15 11-10 9-4 24-8 16-13 10-6 10-3 24-1 30-15 26-6 10-3 27-21 37-14 26-22 34-16 26-23 30-12 24-24 10-5 20-5 6-3 16-16 8-6 10-4 16-3 10-4 14-18 10-8 6-2 10 0 9 5 4 10-1 10-5 10-7 7-10 5-16 1-10 5-17 22-7 6-10 4-20 6-26 25-10 5-20 6-27 28-26 10-7 4-17 21-7 7-30 13-9 10-17 29-50 52-14 17-36 59-14 17-6 3-10 1-10-3-20-10-4-1-6 1-14 25-6 5-10 3-10-1-4-3-20-17-6-3-4-1-6 1-1 6 3 20-1 15-6 10zM368 1480l-6 2-10-1-6-3-6-5-2-5 0-10 9-15 5-6 10-5 26-5 4-5 14-24 12-10 14-4 20 0 2 4-6 20-6 15-4 7-6 5-10 4-24 1-5 3-12 25-9 10zM298 1508l-8 0-7-5-2-5 0-5 1-5 6-8 4-3 10-2 7 3 3 5 1 5-5 13-6 5zM232 1549l-10 2-4-2-7-6-3-10 1-10 3-10 6-6 10-4 10 2 4 3 4 5 2 5-1 10-4 10-5 7zM158 1590l-10 3-10 0 0-44 20-2 4 3 6 6 2 7-1 10-4 10zM252 1659l-10 2-10-3-7-5-3-5 1-10 4-10 11-10 10-3 14 3 5 5 3 5-1 10-4 10-4 5zM978 1669l-6 3-4-1-5-8-1-10 1-10 5-14 4-7 6-3 6 4 4 15-4 20zM908 1720l-7-2-8-10-2-10 0-15 4-15 7-15 6-5 4-3 6 0 4 4 5 9 2 10-1 15-3 15-4 10-9 10zM182 1694l-10 3-10-2-10-6-2-6 1-10 6-10 5-6 10-5 10 0 6 2 7 4 3 5 0 10-4 10-3 5zM148 2164l-10 2-2-73 2-45 10-2 16-8 38-23 98-52 38-23 99-52 41-23 98-47 32-22 50-26 50-17 84-39 10-6 30-28 10-1 6 3 4 6 4 15-1 15-7 18-16 25-12 12-19 15-73 53-50 32-80 47-176 95-224 127-26 12zM442 1745l-10 1-10-3-7-5-6-10-1-10 4-10 9-10 11-6 10 0 10 4 7 7 1 5-1 10-5 15-6 8zM1108 1702l-6 0-2-4 2-4 6 0zM1078 1730l-5-2 10-10 0 5zM358 1773l-10-1-8-4-6-10 0-10 4-10 9-10 5-3 10-1 10 3 7 6 2 5 0 10-3 10-6 7-4 5zM848 1954l-16 2-6-3-1-5 4-10 5-10 8-10 20-11 20-20 34-14 25-20 21-11 16-10 14-14 80-90 3 5-3 5-70 96-20 23-18 26-12 8-24 9-23 18-27 13-19 17zM292 1808l-10 5-10-1-6-4-7-10 0-10 4-10 5-7 10-6 10-1 4 1 6 3 6 10-1 15-5 10zM208 1854l-10 2-10-3-6-5-4-10 1-10 5-10 8-7 10-3 10 2 5 3 5 10 0 10-3 10-7 8zM438 1845l-6 2-10-2-4-3-7-9 0-10 1-6 6-7 10-6 10 1 4 3 7 10 1 10-1 5-7 9zM368 1880l-6 2-10 0-4-2-6-5-2-7-1-5 3-9 6-5 4-2 10-1 10 7 2 5 1 10-3 6zM292 1918l-4 4-10 1-6-3-4-4-4-8 0-5 4-8 4-5 10-3 6 1 6 5 3 5 1 10zM208 1955l-10 1-6-3-4-5-2-5-1-5 3-7 4-6 6-3 4-1 7 2 6 5 3 5 1 10-3 5-4 5z"/>
<path fill="#00fd76" d="M192 1318l-10 3-24-1-20 3 0-40 4 0 20-11 16-3 20 2 14 7 3 5 0 5-4 10-9 12zM472 1374l-6-1-4-3-1-7 1-15 5-20 0-30 3-10 5-5 7-4 10-1 6 3 2 7-5 35-1 25-6 15-6 6zM572 1773l-5 0-9-5-9-10-7-20 1-10 9-10 26-18 31-32 3-5 1-5-5-4-6 1-14 17-10 4-10 0-16-7-8-6-3-5 0-5 7-15 10-11 10-6 24-7 19-16 9-5 8-2 24 0 30-16 36-8 30-23 34-11 28-25 8-4 24-9 26-25 10-5 20-6 27-26 7-4 20-4 6-2 18-20 6-5 10-4 20-2 6-2 17-22 7-6 10-3 6 1 6 3 4 5 1 10-3 10-8 10-10 5-20 1-6 2-15 22-9 9-10 5-20 3-6 4-20 23-10 5-20 5-4 3-14 18-12 10-24 8-6 3-15 19-9 9-10 5-20 6-6 3-18 27-6 7-10 4-20 1-10 4-6 7-2 7 1 15-3 10-18 30-27 50-7 10-8 8-10 4-10 0-10-4-20-13-10-1-5 6-1 15-4 10-6 6zM428 1435l-10 2-16-3-4-6 0-5 5-15 9-13 10-6 16-1 7 5 1 5-1 10-7 18zM362 1479l-10-2-6-4-3-5-1-5 2-10 6-10 8-6 10-3 10 1 6 3 2 5-3 15-5 10-4 5-6 5zM302 1499l-4 3-6 0-3-4-1-5 4-9 6-2 5 1 3 5-1 5zM232 1545l-4 2-6-1-4-2-6-11 0-10 2-5 4-5 4-4 6-2 4 1 6 2 4 8 1 5-4 15zM148 1588l-10 0 0-34 14-2 6 1 4 4 3 6 0 10-3 7-4 5zM252 1656l-4 1-10 0-7-4-4-5-1-5 2-10 4-7 6-5 10-3 10 2 4 3 3 5 1 5-2 10-2 5zM972 1665l-4-4-2-13 5-15 1-3 6-3 5 6 0 15-5 14zM912 1714l-4 2-6-1-2-2-5-10-2-10 2-15 5-15 8-10 4-3 6 1 4 5 4 12 0 10-3 20-5 10zM178 1694l-10 0-6-2-5-4-3-5 0-5 3-10 5-7 6-4 10-2 10 3 4 5 2 10-3 10-3 4zM512 1705l-10 2-10-3-7-6-6-10 1-10 8-14 10-7 10-3 10 1 7 3 5 5 1 5-1 10-6 15-6 8zM152 2158l-14 3-2-68 2-43 10-2 20-10 34-21 103-54 33-20 104-55 36-21 100-48 24-18 16-9 44-20 40-15 96-42 34-31 6-2 4 1 7 5 5 15-1 15-6 15-15 23-11 12-23 20-70 51-56 35-75 44-169 92-220 124-30 15zM442 1740l-10 3-10-3-7-7-4-10 1-10 6-9 6-6 8-3 10 0 6 2 5 6 2 5 1 10-3 10-5 8zM362 1770l-10 1-6-3-6-5-4-10 2-10 4-8 6-5 10-4 10 1 4 4 5 7 1 5-3 15-7 9zM512 1803l-4 3-10 1-8-4-5-5-3-10 0-8 3-7 7-7 6-2 10 0 4 2 6 7 2 15-3 10zM288 1809l-10 1-7-2-6-5-4-10 2-10 5-8 4-5 10-4 10 2 6 5 3 10-3 15-6 7zM202 1854l-10-1-6-5-4-5-1-10 3-10 4-6 4-4 10-3 11 3 5 5 2 10-4 15-4 5zM432 1843l-6 0-8-5-4-10 0-5 4-7 4-5 6-2 10 1 4 4 4 9-1 10-3 4-4 5zM852 1950l-14 3-6-1-2-4 0-5 4-10 8-12 20-11 20-20 10-6 26-8 24-22 30-14 17-12 13-12 4 2-9 15-15 19-21 31-9 6-20 6-10 5-20 18-24 10-6 3-10 12zM362 1879l-4 1-7-2-6-5-2-5 1-10 4-5 4-3 10 0 6 3 3 5 1 10-4 7zM288 1918l-6 2-8-2-5-5-1-5-1-5 2-5 3-4 6-3 10 1 6 6 1 10-3 6zM202 1954l-4-1-6-4-3-6 0-5 3-9 6-3 4-1 6 1 4 4 4 8-1 5-3 6-4 3z"/>
<path fill="#00fc5f" d="M192 1314l-14 3-40 0 0-30 4 0 16-10 14-4 16 0 14 5 5 5 0 10-5 11zM472 1369l-4-2-4-9 1-10 5-20-1-30 4-10 7-5 8-2 5 2 3 5 1 5-5 35-1 20-3 10-4 5-6 5zM1052 1399l-10 2-10-1-7-2-2-5 6-15 8-10 7-5 8-2 6 1 4 3 5 8 0 5-5 13zM422 1434l-10-1-8-5-1-5 1-10 4-10 10-9 4-2 10-1 6 2 3 5 1 5-1 10-3 9-5 6zM652 1744l-10 1-10-2-29-25-8-10 0-5 4-10 23-30 2-5-2-5-10-5-10-1-20 21-10 3-10-1-10-7-5-10 1-10 10-14 10-6 24-5 20-19 10-5 10-1 20 1 30-17 10-2 26-3 19-19 11-7 10-4 24-4 6-4 14-18 10-8 30-9 18-21 8-6 10-5 20-4 4-3 14-17 12-10 10-3 20-3 4-4 12-15 8-8 6-2 10-2 15 2 3 5-3 10-8 15-7 7-10 5-20 1-6 3-13 19-7 7-10 5-20 3-4 3-17 22-9 8-10 4-20 4-4 5-13 19-7 7-10 4-20 3-6 2-4 5-16 24-10 8-10 3-20-1-4 1-6 4-19 35-4 25-21 50-13 20zM368 1474l-10 1-6-2-4-5-2-5 2-10 4-8 6-4 10-3 4 0 6 3 3 7-3 15-6 8zM232 1540l-4 2-6-1-3-3-3-5 0-5 2-8 4-6 6-2 4 1 6 5 1 5-1 10zM158 1579l-6 3-14-1 0-21 14-2 6 2 3 8 0 5zM248 1654l-10-1-6-4-2-6-1-5 3-8 6-6 10-3 10 3 3 4 2 5-2 10-3 5-6 5zM972 1654l0-12 6-3 0 11zM182 1688l-4 3-10 0-6-3-4-5 0-10 4-9 6-4 10-2 4 1 6 4 2 5 0 10-2 5zM512 1700l-4 2-10 0-10-6-5-8 0-10 4-10 5-6 10-5 10 0 6 2 5 4 2 5 1 10-3 10-5 8zM912 1710l-4 2-6-1-5-8-1-10 1-15 4-10 7-11 4-2 6 1 4 7 2 15-4 20zM158 2153l-20 4-2-64 2-41 10-2 15-7 39-24 36-17 34-21 36-17 30-20 34-16 36-21 34-17 36-21 100-48 30-21 10-6 84-35 60-27 36-12 4-2 20-23 10-8 6-2 4 2 6 4 3 12-1 15-8 18-10 14-21 23-16 15-68 50-72 45-63 36-170 92-210 118-30 15zM438 1739l-10 0-6-3-4-5-4-8 1-10 2-5 5-6 10-5 10 1 6 3 4 7 1 5-3 15-8 9zM358 1768l-6 0-8-5-3-5-2-10 4-10 5-6 4-2 10-2 6 2 4 5 3 8 0 5-3 9-4 6zM578 1769l-10 1-6-2-4-5-5-10 0-10 2-5 7-8 6-1 10 1 4 5 4 8 2 10-1 5-5 7zM288 1806l-10 2-6-2-4-5-4-8 1-10 3-5 4-6 10-4 10 4 5 6 2 5-1 10-2 5zM502 1804l-4-1-6-2-4-7-2-6 2-7 4-8 6-2 4-1 6 1 4 4 4 8 1 5-5 11-4 4zM208 1849l-6 2-10-1-4-4-5-8 1-10 2-5 6-7 6-3 10 0 4 3 5 7 1 5-2 10-4 6zM432 1840l-4 0-6-2-3-5-2-5 1-5 2-5 8-5 4 0 6 2 5 8-2 10-3 5zM848 1949l-6 1-7-2-2-5 5-13 4-6 6-4 14-6 6-4 13-17 11-7 26-7 20-19 10-6 20-6 4-1 4 1-10 25-8 11-10 5-16 3-10 4-20 19-10 6-14 4-6 2-13 16zM362 1875l-4 1-6-1-4-5-2-7 2-5 4-4 6-1 4 1 6 5 0 9zM288 1914l-6 2-4 0-6-4-1-9 3-5 4-3 4-1 7 4 3 5 0 5zM208 1949l-6 1-4-1-6-6 0-7 6-6 4-1 6 1 3 3 2 5-1 5z"/>
<path fill="#00fc47" d="M182 1313l-14 0-30-4 0-15 4 0 13-11 13-6 10-2 13 3 8 5 3 5 0 5-4 10-4 5zM478 1363l-6 0-3-5-1-5 6-30-2-25 1-5 5-5 4-2 6 0 4 4 2 8-5 25 0 25-5 10zM1048 1399l-12-1-6-5-1-5 3-10 6-8 4-4 10-3 6 1 4 4 3 10-3 10-3 5-7 4zM428 1429l-10 2-6-2-4-5-2-6 3-10 3-6 6-5 10-3 8 4 2 5 1 5-2 10-5 7zM982 1438l-10-1-7-4 2-10 5-10 10-10 6-3 10-2 10 3 3 7-1 5-7 15-11 8zM932 1473l-10 1-14-1-5-5 12-20 8-10 9-5 6-1 14 1 6 5-5 15-11 15zM368 1471l-6 1-4-1-5-3-3-5 0-5 2-7 6-6 4-3 6 0 4 2 4 4 1 5-3 10zM822 1550l-14 3-19-5 0-5 7-15 12-14 14-8 20-1 4-2 13-20 4-5 9-7 10-3 10 0 10 1 5 4-5 5-9 20-5 6-10 7-10 2-16 0-4 4-12 21-8 9zM228 1536l-6-2-1-6 1-7 6-3 4 3 2 7-2 5zM582 1663l-4 3-10 1-10-4-5-5-2-5 0-10 6-10 5-5 10-5 20 1 6-3 13-18 11-7 10-1 20 4 6-2 17-14 13-5 14-1 16 4 4-1 14-22 6-7 10-5 16-3 19 5-9 25-10 16-6 3-10 3-10-2-14-5-6 0-14 30-10 12-10 3-6 0-20-9-4 0-16 19-4 4-6 0-10-1-20-7-4 3-10 16zM252 1649l-10 2-6-3-3-5 1-10 4-5 4-3 6-1 4 1 5 3 3 5-2 10zM652 1738l-4 2-10-1-15-11-13-20-2-5 2-10 12-20 16-18 4-4 20-3 16 1 4 2 6 7 1 10-2 10-9 25-10 20-8 10zM172 1689l-4-2-6-4-1-5 0-5 7-9 10-3 4 2 5 5 1 5-1 5-5 7-4 3zM508 1699l-10 0-6-3-4-6-3-7 2-10 5-8 6-4 10-2 10 4 4 10-3 15-7 8zM908 1708l-6-3-3-7 0-15 5-15 4-6 4-2 6 2 2 6 1 15-3 15-6 8zM148 2153l-10 1-2-61 2-39 10-2 19-9 35-22 36-17 34-21 36-17 34-22 36-17 30-18 40-19 30-19 34-15 30-17 36-15 27-21 13-7 34-13 116-51 20-5 9 1 5 4 6-5 2-9 5-10 13-15 10-4 4 1 3 3 4 10 0 10-5 15-6 11-10 10-10 6-11 18-15 15-70 51-71 44-52 30-171 93-191 107-55 28zM438 1736l-6 1-9-4-6-10 1-10 2-5 5-5 7-4 6 0 7 4 5 10-1 10-3 5-4 5zM362 1764l-4 2-10-3-4-5-2-5 1-10 2-5 6-5 7-2 4 0 6 3 5 9-1 10-4 7zM578 1765l-6 1-4 0-5-3-3-5 0-10 2-5 6-3 4-1 6 3 4 6 1 10zM288 1804l-6 1-9-2-4-5-2-5 1-10 4-8 6-3 4-1 7 2 5 5 2 5-1 10-3 6zM508 1798l-6 2-4-1-6-6 0-10 6-6 4-1 6 2 4 5 1 5-1 5zM202 1849l-4 0-6-2-4-6-2-8 2-8 4-7 10-3 8 3 4 5 1 5-3 12-4 6zM432 1835l-4 0-4-2-2-5 0-6 6-4 4 0 6 5 0 8zM362 1870l-4 2-6-2-1-7 1-3 6-3 4 3 2 3zM852 1945l-10 2-4-3-1-6 5-10 6-6 20-6 11-18 5-5 14-6 20-2 4-3 16-19 10-6 14-4 6 3 0 7-2 5-8 13-10 5-26 4-19 23-11 6-20 3-4 5-7 11zM282 1912l-4-1-2-3 0-5 2-2 4-2 5 4 0 5zM202 1945l-4-2-1-5 5-5 6 5-1 5z"/>
<path fill="#00fb2f" d="M182 1309l-10 1-14-3-7-4-1-5 1-5 7-7 10-6 10-1 10 3 7 6 1 5-1 5-3 5zM482 1319l-4-4-3-12 3-10 4-2 6 1 1 6-1 13zM482 1353l-4 3-5-3 0-5 5-13 4-1 2 9zM1052 1395l-10 2-7-4-2-5 0-5 5-10 5-5 9-2 6 2 4 5 1 5-3 10zM428 1426l-6 2-4-1-6-4-2-5 2-10 6-7 4-2 6-1 4 3 3 7-1 10zM992 1434l-10 2-8-3-3-5 0-5 4-10 7-8 6-3 10-1 5 2 4 5 0 5-5 12zM938 1469l-10 2-10-2-3-1-2-5 0-5 4-10 10-10 5-3 10 0 8 3 2 5 0 5-4 11zM362 1468l-4-2-4-8 4-7 4-4 6 0 4 6 0 5-4 8zM878 1509l-10 1-9-2-4-5 1-10 5-10 11-10 10-2 10 2 4 5 1 5-4 10-7 10zM818 1549l-10 0-9-6-1-5 2-10 6-10 6-5 10-4 10 0 8 4 1 5-2 10-10 15zM758 1590l-10 0-7-2-6-5-3-5 1-10 6-10 9-8 10-3 10 0 4 2 4 4 2 5-1 10-9 15zM692 1626l-4 1-10-2-10-7-4-5-3-5 3-10 9-10 9-6 10-2 14 3 5 5 1 5-2 10-4 10-8 10zM632 1641l-4 0-10-1-12-7-3-5 1-10 5-10 5-5 8-5 10 0 6 1 8 4 5 5 0 10-5 10-8 10zM252 1645l-4 3-6-1-5-4 1-9 4-6 8 0 6 5 0 5zM572 1664l-10-2-4-4-3-5-1-10 2-5 6-8 6-3 10-1 10 3 3 4 1 5-3 10-6 10-5 4zM648 1734l-10-1-11-10-7-15-1-15 8-15 15-15 10-4 16-1 8 5 3 5 0 10-2 10-6 20-8 15-5 6zM508 1695l-6 1-8-3-4-5-2-5 2-10 2-5 10-6 10 1 5 5 2 5-1 10-2 5zM178 1684l-6 1-4-2-4-5 1-5 2-5 5-3 6 0 4 3 2 5-2 6zM912 1700l-4 3-5-5-2-10 4-15 3-5 4-2 6 5 1 7-1 12zM832 1739l-4 3-6-1-2-3-4-10-1-10 3-10 4-6 10-9 6-1 4 3 3 3 1 5 1 10-5 13zM432 1734l-4-2-6-4-3-10 3-10 6-4 4-2 6 0 7 6 2 10-5 11-4 4zM152 2149l-14 2-2-58 2-38 10-1 20-9 40-25 34-16 30-19 36-17 34-23 36-15 30-19 38-18 36-22 30-13 36-19 30-13 30-23 10-6 40-14 104-47 20-4 6 1 6 5 11 20 1 5-1 5-6 10-29 25-57 40-117 70-174 94-180 101-54 29-20 8zM362 1761l-4 2-6-1-4-3-3-6-1-5 4-9 4-4 6-2 4 1 6 4 2 5-1 10zM572 1761l-5-3-1-5 2-3 4-2 5 5-1 5zM288 1800l-6 3-4-1-6-3-3-6 1-10 3-5 5-3 4-1 6 1 5 8 0 10zM502 1794l-2-1-3-5 5-5 5 5zM208 1843l-6 3-4 0-6-3-3-5 0-10 3-6 6-4 4-1 6 3 4 8 0 6zM948 1884l-15-1-2-5 2-5 9-11 10-4 8 0 3 5-2 10-4 5zM898 1914l-10 3-6 0-4-2-2-2 0-5 6-10 6-5 10-3 10 0 4 3-1 5-6 10zM848 1944l-6-1-2-5 1-5 7-7 10-3 4 5-2 5-3 5-5 4z"/>
<path fill="#00fb18" d="M182 1304l-10 1-8-2-6-5 0-5 4-5 6-3 10-2 4 2 5 3 2 5 0 5zM1048 1394l-7-1-4-5-1-5 1-5 5-7 6-3 4 0 7 5 1 10-2 5-6 5zM422 1423l-4-1-3-4 0-5 3-6 4-4 6 1 3 4 0 5-3 8zM988 1433l-6 0-6-5-2-5 1-5 7-10 10-5 6 1 4 4 1 10-5 10zM932 1468l-8 0-6-5 0-10 4-8 6-5 4-2 10 0 6 5 0 10-6 10zM882 1504l-10 3-4 0-7-4-2-5 2-10 3-5 6-5 8-4 10 2 2 2 2 5-1 10zM822 1545l-10 1-4-2-5-6-1-5 4-10 4-5 8-5 10-1 4 2 4 4 1 5-5 12-4 6zM762 1584l-4 2-10 0-6-3-4-5-1-5 0-5 5-10 6-5 10-4 10 2 5 7 0 5-2 10zM692 1621l-10 0-6-3-5-5-3-10 4-10 5-5 10-5 5 0 6 1 6 4 3 10-3 10-2 5zM632 1635l-4 2-10-2-9-7-1-5 0-5 4-10 10-7 10 0 6 2 5 5 2 5 0 5-4 10zM248 1643l-6-2-1-3 1-3 6-3 3 6zM578 1659l-6 1-9-2-4-5-2-5 1-5 4-9 10-5 6 0 4 2 5 7-1 10-4 6zM508 1692l-6 1-4-2-4-3-3-5 1-10 6-6 4-2 6 0 4 3 3 5 0 10-3 5zM178 1678l-6 2-2-2 0-5 2-3 6 1 1 2zM652 1725l-4 2-6 0-5-4-7-10-2-15 3-10 7-10 10-7 10-2 4 1 6 4 1 4 1 10-2 12-5 13-5 8zM912 1693l-4 2-3-7 3-12 4-3 3 10zM832 1734l-4 1-6-4-3-13 3-10 3-5 7-6 6-1 6 7 0 10-3 10-3 6zM438 1729l-6 1-4-1-6-9 1-7 5-6 4-2 6 1 3 2 3 5-1 10zM358 1760l-7-2-4-5 0-5 1-5 4-5 6-2 5 2 4 5 0 5-5 10zM162 2144l-24 4 0-91 10-1 24-11 34-22 36-17 30-19 36-16 34-24 36-15 34-22 36-15 30-20 34-14 36-20 30-13 10-6 20-17 10-6 44-15 78-36 22-9 16-3 6 2 4 5 11 20 0 5-4 10-22 20-56 40-65 40-69 40-161 86-184 104-47 25zM282 1800l-6-2-4-5 0-5 1-5 4-5 5-1 6 2 2 4 1 5-3 9zM208 1839l-6 4-4 0-6-5 0-10 6-7 4 0 6 3 2 9zM952 1878l-10 2-4-2 0-5 4-7 6-3 4-1 6 1 1 5-2 5zM892 1914l-10-1-2-5 1-5 4-5 7-5 11 0 3 5-1 5-4 5zM852 1938l-4 1-3-1 1-5 6-5 3 5z"/>
<path fill="#00fa06" d="M178 1294l-6 2-2-3 2-1 6 0zM1052 1389l-4 2-6-2-2-6 2-7 6-4 4 0 6 6-1 5zM992 1429l-4 1-6-1-3-6 0-5 3-7 6-3 4-1 6 2 2 4 0 5-2 6zM938 1463l-6 2-4 0-4-2-3-5 3-10 4-4 4-3 6 0 4 2 3 5-2 10zM878 1503l-6 1-4-1-4-5-1-5 5-10 8-5 6 0 6 4 1 6-5 10zM822 1541l-4 2-6-1-4-4-1-5 0-5 5-9 10-4 8 3 2 5-1 10-4 5zM762 1579l-4 3-6 1-8-5-2-5 1-10 4-5 5-4 6-1 4 1 6 4 1 10-2 5zM692 1616l-4 1-6-1-4-3-5-10 4-10 5-5 6-2 4 0 6 2 3 5 1 5-2 10zM632 1630l-4 3-6 0-7-5-3-5 1-10 4-5 5-4 6-1 4 2 5 3 2 5-1 10zM578 1654l-6 3-4-1-6-4-1-9 2-5 5-4 4-2 5 1 5 5 1 5-1 5zM502 1689l-4-2-3-4-1-5 4-7 4-3 6 1 3 4 1 5-1 5-3 5zM652 1714l-4 2-6-2-3-11 3-12 6-5 4-1 6 3 1 10-1 8zM832 1728l-4 0-3-5-1-10 6-10 2-2 6 0 3 7 0 5-3 11zM438 1724l-6 2-5-3-1-5 1-5 5-4 6 1 2 3 0 5zM358 1756l-6-2-2-6 2-6 6-2 4 3 2 5-2 5zM152 2143l-14 2 0-86 10-1 24-11 36-23 30-13 34-23 40-17 30-22 39-16 29-20 38-16 34-23 31-11 35-20 30-13 10-6 20-17 10-7 44-13 96-44 14-2 8 2 4 5 9 20 0 5-6 10-24 20-50 35-131 79-30 14-130 71-179 101-65 34zM282 1796l-4-2-3-6 3-5 4-2 4 2 2 5-2 5zM202 1839l-4 0-4-6 4-7 4-1 4 3 0 5zM948 1874l-3-1 3-5 3 5zM892 1910l-4 0-2-2 0-5 4-5 8-1 2 1 0 5-2 4z"/>
<path fill="#02fa00" d="M1048 1389l-6-4 1-7 5-4 4 0 3 4 0 5-3 4zM988 1428l-6-2-1-3 0-5 2-5 5-3 4-1 6 3 0 6-2 5-4 4zM932 1463l-4 0-4-5 0-5 4-7 4-3 6 0 4 5 1 5-5 8zM882 1498l-4 3-6 1-5-4-1-5 1-5 5-7 6-1 4 1 3 2 2 5zM822 1540l-4 1-6-2-3-6 0-5 3-6 6-4 4-1 6 2 2 4 0 5-2 7zM758 1580l-6 0-4-2-4-5 0-5 1-5 4-5 9-3 6 3 3 5 0 5-5 9zM692 1613l-4 2-6-1-4-5-2-6 0-5 3-5 9-5 4 0 6 4 2 6-2 10zM628 1630l-6 0-4-2-3-5-1-5 1-5 4-5 9-3 6 3 3 5 0 5-5 10zM572 1654l-6-1-3-5 0-5 5-7 4-2 6 2 2 7-2 8zM508 1684l-6 3-5-4 1-8 4-4 7 2 1 5zM832 1725l-4-2-2-10 2-5 4-4 6 0 1 4-1 10zM432 1724l-4-6 2-5 2-2 5 2 1 5 0 2zM358 1753l-6-5 6-6 3 6zM142 2143l-4 0 0-83 10-1 24-11 36-23 34-15 30-21 40-17 30-22 36-14 34-23 36-14 34-24 33-12 33-20 34-14 25-21 11-7 50-15 69-33 21-8 14-2 6 3 4 6 6 11 2 10-2 5-8 10-18 15-36 25-63 40-81 48-24 11-37 21-99 52-172 98-47 25-31 14zM282 1793l-5-5 5-4 3 4zM202 1835l-4-1 0-4 5-2 1 5zM898 1903l-6 4-3-4 3-3z"/>
<path fill="#06fa00" d="M172 2128l-10 3-24-5 0-58 4 0 16-5 24-5 13-15 11-10 16-7 26-4 4-2 13-17 13-9 14-6 26-3 4-3 13-19 13-10 14-5 26-2 4-4 11-14 9-8 16-6 24-3 6-3 12-15 12-10 16-5 24-3 6-3 12-14 12-9 10-4 26-4 4-3 14-20 12-10 14-5 16 0 38 5 6 3 1 2-2 5-7 10-18 20-24 18-24 8-20 19-18 15-8 3-14 1-10 2-36 28-10 4-14 1-10 4-36 28-30 6-34 29-10 4-16 1-10 5-14 14-20 16-10 4-20 3-40 32-6 2-14 1-10 4-15 13z"/>
<path fill="#94fa00" d="M638 1856l-6 0-4-3-13-15-2-5-1-5 6-10 10-5 10-1 4 2 5 4 3 5 0 10-2 10-6 10zM578 1901l-6 2-4-2-16-10-7-8-2-5 1-10 8-10 6-3 10-3 10 1 8 5 4 5 2 5 0 10-7 15zM508 1936l-6 0-4-1-16-9-7-8-2-5 0-10 2-5 7-8 10-5 10-1 10 2 9 7 3 5 1 5-1 10-9 15zM442 1970l-4 2-6 0-20-12-5-7-3-10 4-10 4-6 10-6 10-2 10 1 10 6 5 7 1 5-1 10-5 10zM368 2008l-6-1-20-12-6-12 1-10 6-10 9-7 10-2 10 1 8 3 6 5 5 10-1 10-5 10-8 10-5 4zM298 2048l-16-7-10-7-6-11 1-10 7-10 8-6 10-3 10 1 9 3 6 5 4 10 0 10-5 10-8 11-6 4zM238 2083l-6 2-10-3-15-9-7-10-1-10 1-5 3-5 9-8 10-4 10 0 10 3 10 9 2 10-2 10-6 10zM172 2120l-4 3-6 0-20-11-4 0 0-37 4 0 10-4 10-2 10 2 11 7 5 10-1 10-5 10z"/>
<path fill="#b1fa00" d="M638 1852l-6 0-3-4-11-15-1-5 2-5 3-5 6-2 10 1 6 6 1 10-1 10-2 5zM578 1898l-6 2-4-2-19-15-2-5 1-10 3-5 7-6 10-2 10 1 4 3 6 7 0 12-6 13zM502 1934l-20-12-4-7-3-7 3-10 4-5 6-4 10-3 10 1 4 2 6 4 4 10-1 10-5 10-8 10zM438 1969l-6 0-14-9-8-7-2-5-1-5 3-10 8-8 10-4 10 0 10 4 6 8 2 5-1 10-3 5-10 14zM372 2004l-4 1-6-1-14-8-8-8-2-5 0-10 7-10 7-5 10-3 10 1 10 7 4 5 2 10-1 5-5 10zM302 2045l-4 1-6-2-14-9-7-7-2-5 0-10 3-5 6-6 10-6 10-1 10 3 6 5 5 10 0 5-3 10-8 13zM238 2080l-6 3-4-1-17-9-6-5-3-5-1-5 2-10 2-5 7-6 10-4 10 0 10 4 7 6 2 5 0 10-4 10zM168 2120l-6 0-20-10-4 0 0-33 4 0 10-5 10-1 10 2 6 3 4 6 3 6 0 10-9 15z"/>
<path fill="#cefa00" d="M638 1847l-6-1-8-18 4-6 4-1 4 2 3 5 0 15zM578 1894l-6 2-14-9-6-6-2-8 1-5 7-8 4-2 10 0 10 6 4 9-1 5zM508 1930l-6 1-4-3-16-10-3-5-1-10 2-5 4-5 8-4 10-1 6 1 6 4 4 5 2 5-2 10zM442 1964l-4 3-6-1-14-9-5-4-3-5-1-10 3-5 6-6 10-5 10 1 10 5 4 5 1 5-1 10zM372 2001l-4 2-16-7-9-8-3-5 0-10 2-5 10-9 10-2 10 1 8 5 4 5 2 5-1 10-6 10zM298 2043l-20-10-5-5-3-10 3-10 5-5 4-3 10-3 10 1 6 2 7 8 2 5-1 10-2 5-12 14zM232 2080l-4-1-16-7-7-9-2-5 1-10 3-5 6-5 9-4 10 0 6 2 8 7 3 5 0 10-2 5-9 14zM168 2118l-6 0-20-11-4 0 0-28 4 0 10-5 10-2 10 3 9 8 3 10-1 5-6 10z"/>
<path fill="#ebfa00" d="M572 1890l-13-7-4-5-2-5 2-5 3-4 4-3 10 0 6 2 3 5 1 5-1 5-3 8zM508 1926l-6 1-4-2-10-5-6-7-2-10 2-5 6-5 4-3 10-1 9 4 4 5 2 5-1 10zM438 1964l-6-1-10-5-6-5-4-5-1-10 3-5 8-8 6-1 10 0 7 4 4 5 2 5-1 10-8 12zM372 1998l-4 2-10-3-10-7-6-7 0-10 2-5 8-7 6-2 10-1 10 5 4 5 2 5-1 10zM302 2039l-4 2-6-2-10-5-6-6-3-5 0-10 2-5 7-7 6-2 10-1 10 4 5 6 2 5-1 10-6 10zM238 2074l-6 3-4 0-16-8-4-5-3-6 0-5 1-5 6-8 6-3 10-2 10 3 6 5 3 5 0 10-1 5zM168 2115l-6 1-10-5-10-7-4 0 0-23 4 0 10-6 10-1 10 3 6 4 3 7 0 10-6 10z"/>
<path fill="#fff300" d="M572 1881l-4 1-8-4-2-5 1-5 3-3 6-1 8 4 2 6zM502 1923l-10-3-4-3-6-9 0-5 3-5 7-6 10-1 6 2 5 5 2 5 0 5-3 7-4 6zM438 1960l-6 0-10-4-8-8-1-10 2-5 7-6 6-2 10 1 4 2 6 6 1 9-1 5-6 8zM372 1995l-4 2-10-2-10-7-4-5-1-10 3-5 6-6 6-2 10 0 7 3 5 5 2 5-1 10zM302 2036l-4 2-10-3-10-7-3-5-1-10 3-5 5-5 6-2 10-1 8 3 5 5 2 5-1 10-4 8zM232 2075l-4-1-10-4-9-7-2-5 1-10 3-5 7-5 4-1 10 0 10 6 3 5 1 5-2 10-6 8zM162 2113l-10-4-10-8-4 0 0-17 4 0 10-8 10-1 9 3 6 5 2 5 0 10-7 11-4 4z"/>
<path fill="#ffdb00" d="M502 1920l-10-3-5-4-2-5 0-5 2-5 5-4 10-1 8 5 3 5 0 5-2 5-3 4zM442 1953l-4 4-6 0-11-4-5-5-1-5 0-5 2-5 5-4 6-2 10 0 4 3 5 8 1 5zM368 1995l-6-1-10-4-6-7-1-10 2-5 11-7 10 0 4 2 6 5 3 5 0 5-3 9-6 5zM302 2034l-4 1-6 0-10-5-4-5-3-7 1-5 6-9 6-2 10-1 5 2 6 5 2 5 0 10zM238 2069l-6 3-4 0-10-3-6-4-4-7 0-5 1-5 4-5 5-3 10-2 4 1 8 4 3 5 1 5-2 9zM168 2110l-6 1-4-1-10-6-6-6-4 0 0-11 4 0 6-6 10-5 10 2 4 3 6 7 0 5-3 10z"/>
<path fill="#ffc300" d="M508 1913l-6 3-4 1-8-4-3-5 0-5 3-5 8-3 9 3 3 5 0 5zM438 1954l-10 0-9-6-3-5 1-5 5-7 10-3 6 1 5 4 2 5 1 5-4 7zM372 1990l-4 3-6 0-10-5-5-5-1-5 0-5 3-5 7-5 6-1 8 1 6 5 3 5 0 5-1 6zM298 2033l-10-2-6-3-4-5-1-5 0-5 3-5 8-5 10-1 4 2 5 4 3 5 0 5-2 8-6 5zM232 2070l-4 0-10-3-5-4-3-5 1-10 7-7 4-2 10 1 6 3 4 5 0 10-4 8zM162 2109l-10-3-4-3-4-5-1-5 1-5 3-5 11-5 10 1 5 4 3 5 0 10-3 5-5 5z"/>
<path fill="#ffab00" d="M502 1913l-7 0-5-5 0-5 2-4 6-2 4 1 6 5 0 5zM438 1952l-6 1-4-1-7-4-3-5 1-5 3-6 10-2 8 3 4 5 0 5-2 5zM368 1991l-6 0-7-3-6-5-1-5 0-5 3-5 7-4 10 0 7 4 2 5 1 5-2 5-4 5zM302 2029l-4 2-6 0-10-5-4-8 1-5 3-5 10-5 6 1 7 4 3 5 1 5-2 5zM228 2068l-10-3-7-7 0-5 1-5 5-5 5-2 6-1 7 3 5 5 1 5 0 5-3 6-6 3zM168 2106l-10 0-6-2-4-4-4-7 1-5 4-5 9-4 4 0 6 1 4 5 3 8-3 8z"/>
<path fill="#ff9300" d="M502 1909l-4 1-4-2-1-5 5-3 4 2 2 1zM438 1949l-6 2-8-3-4-5 1-5 1-3 6-3 4-1 6 2 4 5 0 5zM368 1989l-10-1-7-5-2-5 0-5 3-5 6-3 10 0 5 3 3 5 0 5-2 5zM298 2029l-10-1-6-5-2-5 0-5 8-7 10-1 5 3 4 5 0 5-1 5-4 4zM232 2066l-10 0-5-3-4-5-1-6 6-8 10-2 5 1 5 5 2 5-1 5zM168 2103l-6 2-4 0-6-2-4-5-2-5 1-5 4-5 7-3 4 0 6 2 4 5 2 6-1 5z"/>
<path fill="#ff7b00" d="M432 1949l-4-1-5-5 0-5 5-4 5-1 6 5 0 5-1 3zM372 1983l-4 4-6 1-4-2-6-3-2-5 1-5 7-7 10 0 6 7 1 5zM302 2025l-4 3-6 0-4-2-6-5 0-8 6-6 4-1 9 2 4 5 1 5zM232 2064l-4 1-6-1-4-2-3-4-1-5 4-7 4-3 6 0 8 5 2 5 0 5zM162 2103l-4 0-6-2-4-8 1-5 3-4 6-2 8 1 5 5 1 5-1 5-3 3z"/>
<path fill="#ff6400" d="M432 1946l-6-3 0-5 2-1 4-1 4 2 0 5zM368 1985l-6 1-4-1-6-6 0-6 5-5 5-1 6 1 5 5-1 6zM298 2026l-6 0-6-3-3-5 1-5 4-4 4-2 6 1 5 5 1 5-2 4zM228 2063l-6 0-6-5-1-5 2-5 5-3 6-1 4 2 5 7-1 5-4 3zM168 2099l-6 3-4-1-6-2-3-6 1-5 8-5 4 0 6 3 3 7z"/>
<path fill="#ff4d00" d="M368 1983l-6 1-4-1-4-5 0-5 4-3 4-2 6 2 3 3 0 5zM298 2024l-6 1-4-2-3-5 1-5 2-2 4-2 6 1 3 3 2 5zM232 2059l-4 3-6-1-3-3-2-5 3-5 8-2 5 2 2 5zM162 2100l-8-2-3-5 1-5 6-3 4 0 6 3 1 5-1 3z"/>
<path fill="#ff3600" d="M368 1980l-6 2-4-2-2-2 1-5 5-3 6 2 1 6zM298 2022l-6 1-4-4 0-6 4-2 7 2 1 5zM228 2060l-7-2-2-5 3-5 7 0 4 5-2 5zM162 2098l-5 0-4-5 2-5 3-1 7 1 2 5z"/>
<path fill="#ff1f00" d="M362 1980l-3-2 2-5 1-1 2 1 2 5zM298 2018l-6 2-2-2 2-5 2 0zM228 2057l-6-2 0-3 6-1 2 2zM162 2095l-4 0-2-2 2-3 4 0 2 3z"/>
</g>
</g></g>
<rect x="31.0" y="253.1" width="187.3" height="180.1" fill="none" stroke="#15151c" stroke-width="0.8"/>
<path d="M31.2 433.2v3.4" stroke="#111" stroke-width="0.8"/>
<text x="31.2" y="444.8" font-size="7.50" text-anchor="middle" font-weight="normal" fill="#111" >1.44</text>
<path d="M54.5 433.2v3.4" stroke="#111" stroke-width="0.8"/>
<text x="54.5" y="444.8" font-size="7.50" text-anchor="middle" font-weight="normal" fill="#111" >1.46</text>
<path d="M77.8 433.2v3.4" stroke="#111" stroke-width="0.8"/>
<text x="77.8" y="444.8" font-size="7.50" text-anchor="middle" font-weight="normal" fill="#111" >1.48</text>
<path d="M101.1 433.2v3.4" stroke="#111" stroke-width="0.8"/>
<text x="101.1" y="444.8" font-size="7.50" text-anchor="middle" font-weight="normal" fill="#111" >1.50</text>
<path d="M124.4 433.2v3.4" stroke="#111" stroke-width="0.8"/>
<text x="124.4" y="444.8" font-size="7.50" text-anchor="middle" font-weight="normal" fill="#111" >1.52</text>
<path d="M147.7 433.2v3.4" stroke="#111" stroke-width="0.8"/>
<text x="147.7" y="444.8" font-size="7.50" text-anchor="middle" font-weight="normal" fill="#111" >1.54</text>
<path d="M171.0 433.2v3.4" stroke="#111" stroke-width="0.8"/>
<text x="171.0" y="444.8" font-size="7.50" text-anchor="middle" font-weight="normal" fill="#111" >1.56</text>
<path d="M194.3 433.2v3.4" stroke="#111" stroke-width="0.8"/>
<text x="194.3" y="444.8" font-size="7.50" text-anchor="middle" font-weight="normal" fill="#111" >1.58</text>
<path d="M217.6 433.2v3.4" stroke="#111" stroke-width="0.8"/>
<text x="217.6" y="444.8" font-size="7.50" text-anchor="middle" font-weight="normal" fill="#111" >1.60</text>
<path d="M42.9 433.2v2" stroke="#111" stroke-width="0.7"/>
<path d="M66.2 433.2v2" stroke="#111" stroke-width="0.7"/>
<path d="M89.5 433.2v2" stroke="#111" stroke-width="0.7"/>
<path d="M112.8 433.2v2" stroke="#111" stroke-width="0.7"/>
<path d="M136.1 433.2v2" stroke="#111" stroke-width="0.7"/>
<path d="M159.3 433.2v2" stroke="#111" stroke-width="0.7"/>
<path d="M182.7 433.2v2" stroke="#111" stroke-width="0.7"/>
<path d="M205.9 433.2v2" stroke="#111" stroke-width="0.7"/>
<path d="M31.0 433.2h-3.4" stroke="#111" stroke-width="0.8"/>
<text x="25.4" y="435.7" font-size="7.50" text-anchor="end" font-weight="normal" fill="#111" >1.8</text>
<path d="M31.0 397.2h-3.4" stroke="#111" stroke-width="0.8"/>
<text x="25.4" y="399.7" font-size="7.50" text-anchor="end" font-weight="normal" fill="#111" >1.9</text>
<path d="M31.0 361.2h-3.4" stroke="#111" stroke-width="0.8"/>
<text x="25.4" y="363.7" font-size="7.50" text-anchor="end" font-weight="normal" fill="#111" >2.0</text>
<path d="M31.0 325.2h-3.4" stroke="#111" stroke-width="0.8"/>
<text x="25.4" y="327.7" font-size="7.50" text-anchor="end" font-weight="normal" fill="#111" >2.1</text>
<path d="M31.0 289.2h-3.4" stroke="#111" stroke-width="0.8"/>
<text x="25.4" y="291.7" font-size="7.50" text-anchor="end" font-weight="normal" fill="#111" >2.2</text>
<path d="M31.0 253.2h-3.4" stroke="#111" stroke-width="0.8"/>
<text x="25.4" y="255.7" font-size="7.50" text-anchor="end" font-weight="normal" fill="#111" >2.3</text>
<path d="M31.0 415.2h-2" stroke="#111" stroke-width="0.7"/>
<path d="M31.0 379.2h-2" stroke="#111" stroke-width="0.7"/>
<path d="M31.0 343.2h-2" stroke="#111" stroke-width="0.7"/>
<path d="M31.0 307.2h-2" stroke="#111" stroke-width="0.7"/>
<path d="M31.0 271.2h-2" stroke="#111" stroke-width="0.7"/>
<text x="120.5" y="454.4" font-size="9.40" text-anchor="middle" font-weight="normal" fill="#111" >Wavelength (µm)</text>
<text x="9.6" y="343.1" font-size="9.30" text-anchor="middle" font-weight="normal" fill="#111" transform="rotate(-90 9.6 343.1)">Hole period (µm)</text>
<text x="211.0" y="246.9" font-size="9.40" text-anchor="start" font-weight="normal" fill="#111" >Absorptivity</text>
<text x="132.6" y="468.2" font-size="12.00" text-anchor="middle" font-weight="bold" fill="#111" >(c)</text>
<linearGradient id="g3" x1="0" y1="1" x2="0" y2="0">
<stop offset="0.000" stop-color="#0600ff"/>
<stop offset="0.120" stop-color="#007dff"/>
<stop offset="0.240" stop-color="#00ffff"/>
<stop offset="0.360" stop-color="#00fd82"/>
<stop offset="0.470" stop-color="#00fa00"/>
<stop offset="0.645" stop-color="#08fa00"/>
<stop offset="0.655" stop-color="#91fa00"/>
<stop offset="0.750" stop-color="#fffa00"/>
<stop offset="0.870" stop-color="#ff8700"/>
<stop offset="1.000" stop-color="#ff0f00"/>
</linearGradient>
<rect x="224.9" y="252.3" width="11.3" height="180.6" fill="url(#g3)"/>
<path d="M236.2 252.3V432.9M224.9 252.3V432.9" stroke="#555" stroke-width="0.5" fill="none"/>
<path d="M236.2 252.3h3" stroke="#222" stroke-width="0.7"/>
<text x="241.4" y="254.4" font-size="6.10" text-anchor="start" font-weight="normal" fill="#111" >0.4960</text>
<path d="M236.2 270.4h3" stroke="#222" stroke-width="0.7"/>
<text x="241.4" y="272.5" font-size="6.10" text-anchor="start" font-weight="normal" fill="#111" >0.4508</text>
<path d="M236.2 288.4h3" stroke="#222" stroke-width="0.7"/>
<text x="241.4" y="290.5" font-size="6.10" text-anchor="start" font-weight="normal" fill="#111" >0.4056</text>
<path d="M236.2 306.5h3" stroke="#222" stroke-width="0.7"/>
<text x="241.4" y="308.6" font-size="6.10" text-anchor="start" font-weight="normal" fill="#111" >0.3604</text>
<path d="M236.2 324.5h3" stroke="#222" stroke-width="0.7"/>
<text x="241.4" y="326.6" font-size="6.10" text-anchor="start" font-weight="normal" fill="#111" >0.3152</text>
<path d="M236.2 342.6h3" stroke="#222" stroke-width="0.7"/>
<text x="241.4" y="344.7" font-size="6.10" text-anchor="start" font-weight="normal" fill="#111" >0.2700</text>
<path d="M236.2 360.7h3" stroke="#222" stroke-width="0.7"/>
<text x="241.4" y="362.8" font-size="6.10" text-anchor="start" font-weight="normal" fill="#111" >0.2248</text>
<path d="M236.2 378.7h3" stroke="#222" stroke-width="0.7"/>
<text x="241.4" y="380.8" font-size="6.10" text-anchor="start" font-weight="normal" fill="#111" >0.1796</text>
<path d="M236.2 396.8h3" stroke="#222" stroke-width="0.7"/>
<text x="241.4" y="398.9" font-size="6.10" text-anchor="start" font-weight="normal" fill="#111" >0.1344</text>
<path d="M236.2 414.8h3" stroke="#222" stroke-width="0.7"/>
<text x="241.4" y="416.9" font-size="6.10" text-anchor="start" font-weight="normal" fill="#111" >0.08920</text>
<path d="M236.2 432.9h3" stroke="#222" stroke-width="0.7"/>
<text x="241.4" y="435.0" font-size="6.10" text-anchor="start" font-weight="normal" fill="#111" >0.04400</text>
<ellipse cx="144.5" cy="43.6" rx="20.2" ry="11.9" fill="none" stroke="#000" stroke-width="1.5"/>
<text x="145.2" y="46.8" font-size="9.20" text-anchor="middle" font-weight="bold" fill="#000" >0.3720</text>
<ellipse cx="413.9" cy="28.2" rx="21.4" ry="11.0" fill="none" stroke="#000" stroke-width="1.5"/>
<text x="414.3" y="31.2" font-size="9.40" text-anchor="middle" font-weight="bold" fill="#000" >0.3773</text>
<ellipse cx="140.1" cy="358.7" rx="21.7" ry="12.2" fill="none" stroke="#000" stroke-width="1.5"/>
<text x="139.5" y="361.9" font-size="9.40" text-anchor="middle" font-weight="bold" fill="#000" >0.3663</text>
<rect x="300.5" y="241.5" width="237.0" height="191.0" fill="#fff" stroke="#2a2a2a" stroke-width="1"/>
<path d="M300.5 432.5v-3" stroke="#333" stroke-width="0.8"/>
<text x="300.5" y="443.8" font-size="7.40" text-anchor="middle" font-weight="normal" fill="#333" letter-spacing="0.55">1. 44</text>
<path d="M330.1 432.5v-3" stroke="#333" stroke-width="0.8"/>
<text x="330.1" y="443.8" font-size="7.40" text-anchor="middle" font-weight="normal" fill="#333" letter-spacing="0.55">1. 46</text>
<path d="M359.8 432.5v-3" stroke="#333" stroke-width="0.8"/>
<text x="359.8" y="443.8" font-size="7.40" text-anchor="middle" font-weight="normal" fill="#333" letter-spacing="0.55">1. 48</text>
<path d="M389.4 432.5v-3" stroke="#333" stroke-width="0.8"/>
<text x="389.4" y="443.8" font-size="7.40" text-anchor="middle" font-weight="normal" fill="#333" letter-spacing="0.55">1. 50</text>
<path d="M419.0 432.5v-3" stroke="#333" stroke-width="0.8"/>
<text x="419.0" y="443.8" font-size="7.40" text-anchor="middle" font-weight="normal" fill="#333" letter-spacing="0.55">1. 52</text>
<path d="M448.6 432.5v-3" stroke="#333" stroke-width="0.8"/>
<text x="448.6" y="443.8" font-size="7.40" text-anchor="middle" font-weight="normal" fill="#333" letter-spacing="0.55">1. 54</text>
<path d="M478.3 432.5v-3" stroke="#333" stroke-width="0.8"/>
<text x="478.3" y="443.8" font-size="7.40" text-anchor="middle" font-weight="normal" fill="#333" letter-spacing="0.55">1. 56</text>
<path d="M507.9 432.5v-3" stroke="#333" stroke-width="0.8"/>
<text x="507.9" y="443.8" font-size="7.40" text-anchor="middle" font-weight="normal" fill="#333" letter-spacing="0.55">1. 58</text>
<path d="M537.5 432.5v-3" stroke="#333" stroke-width="0.8"/>
<text x="537.5" y="443.8" font-size="7.40" text-anchor="middle" font-weight="normal" fill="#333" letter-spacing="0.55">1. 60</text>
<path d="M300.5 432.5h3" stroke="#333" stroke-width="0.8"/>
<text x="296.9" y="435.8" font-size="7.40" text-anchor="end" font-weight="normal" fill="#333" letter-spacing="0.4">0</text>
<path d="M300.5 394.3h3" stroke="#333" stroke-width="0.8"/>
<text x="296.9" y="397.6" font-size="7.40" text-anchor="end" font-weight="normal" fill="#333" letter-spacing="0.4">20</text>
<path d="M300.5 356.2h3" stroke="#333" stroke-width="0.8"/>
<text x="296.9" y="359.5" font-size="7.40" text-anchor="end" font-weight="normal" fill="#333" letter-spacing="0.4">40</text>
<path d="M300.5 318.0h3" stroke="#333" stroke-width="0.8"/>
<text x="296.9" y="321.3" font-size="7.40" text-anchor="end" font-weight="normal" fill="#333" letter-spacing="0.4">60</text>
<path d="M300.5 279.9h3" stroke="#333" stroke-width="0.8"/>
<text x="296.9" y="283.2" font-size="7.40" text-anchor="end" font-weight="normal" fill="#333" letter-spacing="0.4">80</text>
<path d="M300.5 241.7h3" stroke="#333" stroke-width="0.8"/>
<text x="296.9" y="245.0" font-size="7.40" text-anchor="end" font-weight="normal" fill="#333" letter-spacing="0.4">100</text>
<path d="M300.5 413.4h1.8" stroke="#333" stroke-width="0.7"/>
<path d="M300.5 375.3h1.8" stroke="#333" stroke-width="0.7"/>
<path d="M300.5 337.1h1.8" stroke="#333" stroke-width="0.7"/>
<path d="M300.5 298.9h1.8" stroke="#333" stroke-width="0.7"/>
<path d="M300.5 260.8h1.8" stroke="#333" stroke-width="0.7"/>
<text x="416.5" y="453.6" font-size="9.40" text-anchor="middle" font-weight="normal" fill="#111" >Wavelength (µm)</text>
<text x="284.5" y="337.0" font-size="9.30" text-anchor="middle" font-weight="normal" fill="#111" transform="rotate(-90 284.5 337)">Absorptivity(%)</text>
<text x="411.8" y="468.2" font-size="12.00" text-anchor="middle" font-weight="bold" fill="#111" >(d)</text>
<path d="M300.2 427.6C305.2 427.5 320.0 427.1 330.0 426.9C340.0 426.7 350.0 426.4 360.0 426.2C370.0 426.0 380.3 425.7 390.0 425.5C399.7 425.3 407.8 425.4 418.0 425.1C428.2 424.8 442.1 424.1 451.3 423.9C460.6 423.7 467.1 423.7 473.5 423.7C479.9 423.7 484.5 423.8 490.0 424.0C495.5 424.2 501.4 424.4 506.7 424.7C512.0 424.9 516.9 425.2 522.0 425.5C527.1 425.8 534.8 426.3 537.4 426.5" fill="none" stroke="#000" stroke-width="2.1" stroke-linejoin="round"/><path d="M300.2 406.0C301.1 406.2 303.6 407.0 305.5 407.3C307.4 407.6 309.4 407.9 311.3 407.8C313.2 407.7 315.2 407.4 317.0 406.9C318.8 406.4 320.2 405.6 322.0 405.0C323.8 404.4 326.1 403.4 328.0 403.0C329.9 402.6 331.7 402.4 333.5 402.5C335.3 402.6 336.9 402.7 339.0 403.3C341.1 403.9 343.5 404.9 346.0 406.0C348.5 407.1 351.3 408.7 354.0 409.8C356.7 410.9 359.7 412.0 362.0 412.6C364.3 413.2 366.3 413.4 368.0 413.6C369.7 413.8 370.8 413.9 372.3 413.8C373.8 413.8 375.2 413.8 377.0 413.3C378.8 412.8 381.0 412.1 383.0 411.0C385.0 409.9 387.2 408.0 389.0 406.7C390.8 405.4 392.5 404.0 394.0 403.2C395.5 402.4 396.9 402.1 398.0 401.8C399.1 401.5 399.5 401.5 400.5 401.6C401.5 401.7 402.8 401.9 404.0 402.2C405.2 402.5 406.7 403.2 408.0 403.6C409.3 404.0 410.7 404.4 412.0 404.6C413.3 404.8 414.7 404.9 416.0 404.8C417.3 404.7 418.6 404.5 420.0 403.9C421.4 403.3 422.8 403.1 424.7 401.2C426.6 399.3 429.1 395.2 431.3 392.7C433.5 390.2 436.4 387.4 438.0 386.1C439.6 384.8 440.1 385.1 441.0 384.8C441.9 384.5 442.7 384.3 443.5 384.3C444.3 384.3 445.1 384.5 446.0 384.8C446.9 385.1 447.4 384.8 449.0 386.1C450.6 387.4 453.5 390.3 455.7 392.7C457.9 395.1 460.2 398.3 462.4 400.5C464.6 402.7 466.8 404.5 469.0 406.0C471.2 407.5 473.1 408.6 475.7 409.4C478.3 410.2 481.2 410.6 484.5 410.9C487.8 411.1 491.9 410.8 495.6 410.9C499.3 411.0 503.0 411.4 506.7 411.6C510.4 411.8 514.1 412.2 517.8 412.3C521.5 412.4 525.6 412.1 528.9 412.3C532.2 412.5 536.0 413.2 537.4 413.4" fill="none" stroke="#0a0ac8" stroke-width="2.0" stroke-linejoin="round"/>
<rect x="409" y="242.6" width="128.2" height="17.8" fill="#fff" stroke="#bbb" stroke-width="0.7"/>
<path d="M413.3 246.9H431" stroke="#000" stroke-width="2.1"/>
<path d="M413.3 256.7H431" stroke="#0a0acd" stroke-width="1.9"/>
<text x="432.2" y="249.3" font-size="7.20" text-anchor="start" font-weight="normal" fill="#000" >No dielectric resonance metasurface</text>
<text x="432.2" y="259.0" font-size="7.20" text-anchor="start" font-weight="normal" fill="#000" >L-shaped media hole</text>
</svg></body></html>
